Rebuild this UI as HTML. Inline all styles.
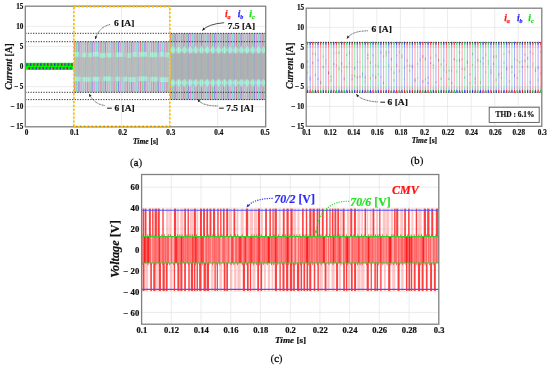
<!DOCTYPE html>
<html><head><meta charset="utf-8"><title>Figure</title>
<style>html,body{margin:0;padding:0;background:#fff;} svg{display:block;filter:blur(0.3px);} text{font-family:"Liberation Serif", "Times New Roman", serif;}</style>
</head><body>
<svg width="550" height="366" viewBox="0 0 550 366">
<rect width="550" height="366" fill="#fff"/>
<line x1="73.38" y1="6.2" x2="73.38" y2="126.8" stroke="#e4e4e4" stroke-width="0.7"/>
<line x1="121.46" y1="6.2" x2="121.46" y2="126.8" stroke="#e4e4e4" stroke-width="0.7"/>
<line x1="169.54" y1="6.2" x2="169.54" y2="126.8" stroke="#e4e4e4" stroke-width="0.7"/>
<line x1="217.62" y1="6.2" x2="217.62" y2="126.8" stroke="#e4e4e4" stroke-width="0.7"/>
<line x1="25.3" y1="26.3" x2="265.7" y2="26.3" stroke="#e4e4e4" stroke-width="0.7"/>
<line x1="25.3" y1="46.4" x2="265.7" y2="46.4" stroke="#e4e4e4" stroke-width="0.7"/>
<line x1="25.3" y1="66.5" x2="265.7" y2="66.5" stroke="#e4e4e4" stroke-width="0.7"/>
<line x1="25.3" y1="86.6" x2="265.7" y2="86.6" stroke="#e4e4e4" stroke-width="0.7"/>
<line x1="25.3" y1="106.7" x2="265.7" y2="106.7" stroke="#e4e4e4" stroke-width="0.7"/>
<line x1="329.76" y1="8.2" x2="329.76" y2="126.3" stroke="#e4e4e4" stroke-width="0.7"/>
<line x1="353.32" y1="8.2" x2="353.32" y2="126.3" stroke="#e4e4e4" stroke-width="0.7"/>
<line x1="376.88" y1="8.2" x2="376.88" y2="126.3" stroke="#e4e4e4" stroke-width="0.7"/>
<line x1="400.44" y1="8.2" x2="400.44" y2="126.3" stroke="#e4e4e4" stroke-width="0.7"/>
<line x1="424" y1="8.2" x2="424" y2="126.3" stroke="#e4e4e4" stroke-width="0.7"/>
<line x1="447.56" y1="8.2" x2="447.56" y2="126.3" stroke="#e4e4e4" stroke-width="0.7"/>
<line x1="471.12" y1="8.2" x2="471.12" y2="126.3" stroke="#e4e4e4" stroke-width="0.7"/>
<line x1="494.68" y1="8.2" x2="494.68" y2="126.3" stroke="#e4e4e4" stroke-width="0.7"/>
<line x1="518.24" y1="8.2" x2="518.24" y2="126.3" stroke="#e4e4e4" stroke-width="0.7"/>
<line x1="306.2" y1="27.35" x2="541.8" y2="27.35" stroke="#e4e4e4" stroke-width="0.7"/>
<line x1="306.2" y1="47.13" x2="541.8" y2="47.13" stroke="#e4e4e4" stroke-width="0.7"/>
<line x1="306.2" y1="66.9" x2="541.8" y2="66.9" stroke="#e4e4e4" stroke-width="0.7"/>
<line x1="306.2" y1="86.68" x2="541.8" y2="86.68" stroke="#e4e4e4" stroke-width="0.7"/>
<line x1="306.2" y1="106.45" x2="541.8" y2="106.45" stroke="#e4e4e4" stroke-width="0.7"/>
<line x1="171.32" y1="174.5" x2="171.32" y2="324.2" stroke="#e4e4e4" stroke-width="0.7"/>
<line x1="201.04" y1="174.5" x2="201.04" y2="324.2" stroke="#e4e4e4" stroke-width="0.7"/>
<line x1="230.76" y1="174.5" x2="230.76" y2="324.2" stroke="#e4e4e4" stroke-width="0.7"/>
<line x1="260.48" y1="174.5" x2="260.48" y2="324.2" stroke="#e4e4e4" stroke-width="0.7"/>
<line x1="290.2" y1="174.5" x2="290.2" y2="324.2" stroke="#e4e4e4" stroke-width="0.7"/>
<line x1="319.92" y1="174.5" x2="319.92" y2="324.2" stroke="#e4e4e4" stroke-width="0.7"/>
<line x1="349.64" y1="174.5" x2="349.64" y2="324.2" stroke="#e4e4e4" stroke-width="0.7"/>
<line x1="379.36" y1="174.5" x2="379.36" y2="324.2" stroke="#e4e4e4" stroke-width="0.7"/>
<line x1="409.08" y1="174.5" x2="409.08" y2="324.2" stroke="#e4e4e4" stroke-width="0.7"/>
<line x1="141.6" y1="187.19" x2="438.8" y2="187.19" stroke="#e4e4e4" stroke-width="0.7"/>
<line x1="141.6" y1="208.06" x2="438.8" y2="208.06" stroke="#e4e4e4" stroke-width="0.7"/>
<line x1="141.6" y1="228.93" x2="438.8" y2="228.93" stroke="#e4e4e4" stroke-width="0.7"/>
<line x1="141.6" y1="249.8" x2="438.8" y2="249.8" stroke="#e4e4e4" stroke-width="0.7"/>
<line x1="141.6" y1="270.67" x2="438.8" y2="270.67" stroke="#e4e4e4" stroke-width="0.7"/>
<line x1="141.6" y1="291.54" x2="438.8" y2="291.54" stroke="#e4e4e4" stroke-width="0.7"/>
<line x1="141.6" y1="312.41" x2="438.8" y2="312.41" stroke="#e4e4e4" stroke-width="0.7"/>
<rect x="25.8" y="62.8" width="47.58" height="7.0" fill="#00f800"/>
<rect x="26.4" y="63.3" width="1.1" height="2.6" fill="#2020e0" opacity="0.85"/>
<rect x="27.4" y="63.3" width="0.9" height="2.6" fill="#e02050" opacity="0.8"/>
<rect x="28.13" y="67.0" width="0.9" height="2.6" fill="#e02050" opacity="0.8"/>
<rect x="29.03" y="67.0" width="1.1" height="2.6" fill="#2020e0" opacity="0.85"/>
<rect x="29.85" y="63.3" width="1.1" height="2.6" fill="#2020e0" opacity="0.85"/>
<rect x="30.85" y="63.3" width="0.9" height="2.6" fill="#e02050" opacity="0.8"/>
<rect x="31.58" y="67.0" width="0.9" height="2.6" fill="#e02050" opacity="0.8"/>
<rect x="32.48" y="67.0" width="1.1" height="2.6" fill="#2020e0" opacity="0.85"/>
<rect x="33.3" y="63.3" width="1.1" height="2.6" fill="#2020e0" opacity="0.85"/>
<rect x="34.3" y="63.3" width="0.9" height="2.6" fill="#e02050" opacity="0.8"/>
<rect x="35.03" y="67.0" width="0.9" height="2.6" fill="#e02050" opacity="0.8"/>
<rect x="35.93" y="67.0" width="1.1" height="2.6" fill="#2020e0" opacity="0.85"/>
<rect x="36.75" y="63.3" width="1.1" height="2.6" fill="#2020e0" opacity="0.85"/>
<rect x="37.75" y="63.3" width="0.9" height="2.6" fill="#e02050" opacity="0.8"/>
<rect x="38.48" y="67.0" width="0.9" height="2.6" fill="#e02050" opacity="0.8"/>
<rect x="39.38" y="67.0" width="1.1" height="2.6" fill="#2020e0" opacity="0.85"/>
<rect x="40.2" y="63.3" width="1.1" height="2.6" fill="#2020e0" opacity="0.85"/>
<rect x="41.2" y="63.3" width="0.9" height="2.6" fill="#e02050" opacity="0.8"/>
<rect x="41.93" y="67.0" width="0.9" height="2.6" fill="#e02050" opacity="0.8"/>
<rect x="42.83" y="67.0" width="1.1" height="2.6" fill="#2020e0" opacity="0.85"/>
<rect x="43.65" y="63.3" width="1.1" height="2.6" fill="#2020e0" opacity="0.85"/>
<rect x="44.65" y="63.3" width="0.9" height="2.6" fill="#e02050" opacity="0.8"/>
<rect x="45.38" y="67.0" width="0.9" height="2.6" fill="#e02050" opacity="0.8"/>
<rect x="46.28" y="67.0" width="1.1" height="2.6" fill="#2020e0" opacity="0.85"/>
<rect x="47.1" y="63.3" width="1.1" height="2.6" fill="#2020e0" opacity="0.85"/>
<rect x="48.1" y="63.3" width="0.9" height="2.6" fill="#e02050" opacity="0.8"/>
<rect x="48.83" y="67.0" width="0.9" height="2.6" fill="#e02050" opacity="0.8"/>
<rect x="49.73" y="67.0" width="1.1" height="2.6" fill="#2020e0" opacity="0.85"/>
<rect x="50.55" y="63.3" width="1.1" height="2.6" fill="#2020e0" opacity="0.85"/>
<rect x="51.55" y="63.3" width="0.9" height="2.6" fill="#e02050" opacity="0.8"/>
<rect x="52.28" y="67.0" width="0.9" height="2.6" fill="#e02050" opacity="0.8"/>
<rect x="53.18" y="67.0" width="1.1" height="2.6" fill="#2020e0" opacity="0.85"/>
<rect x="54" y="63.3" width="1.1" height="2.6" fill="#2020e0" opacity="0.85"/>
<rect x="55" y="63.3" width="0.9" height="2.6" fill="#e02050" opacity="0.8"/>
<rect x="55.73" y="67.0" width="0.9" height="2.6" fill="#e02050" opacity="0.8"/>
<rect x="56.63" y="67.0" width="1.1" height="2.6" fill="#2020e0" opacity="0.85"/>
<rect x="57.45" y="63.3" width="1.1" height="2.6" fill="#2020e0" opacity="0.85"/>
<rect x="58.45" y="63.3" width="0.9" height="2.6" fill="#e02050" opacity="0.8"/>
<rect x="59.18" y="67.0" width="0.9" height="2.6" fill="#e02050" opacity="0.8"/>
<rect x="60.08" y="67.0" width="1.1" height="2.6" fill="#2020e0" opacity="0.85"/>
<rect x="60.9" y="63.3" width="1.1" height="2.6" fill="#2020e0" opacity="0.85"/>
<rect x="61.9" y="63.3" width="0.9" height="2.6" fill="#e02050" opacity="0.8"/>
<rect x="62.63" y="67.0" width="0.9" height="2.6" fill="#e02050" opacity="0.8"/>
<rect x="63.53" y="67.0" width="1.1" height="2.6" fill="#2020e0" opacity="0.85"/>
<rect x="64.35" y="63.3" width="1.1" height="2.6" fill="#2020e0" opacity="0.85"/>
<rect x="65.35" y="63.3" width="0.9" height="2.6" fill="#e02050" opacity="0.8"/>
<rect x="66.08" y="67.0" width="0.9" height="2.6" fill="#e02050" opacity="0.8"/>
<rect x="66.98" y="67.0" width="1.1" height="2.6" fill="#2020e0" opacity="0.85"/>
<rect x="67.8" y="63.3" width="1.1" height="2.6" fill="#2020e0" opacity="0.85"/>
<rect x="68.8" y="63.3" width="0.9" height="2.6" fill="#e02050" opacity="0.8"/>
<rect x="69.53" y="67.0" width="0.9" height="2.6" fill="#e02050" opacity="0.8"/>
<rect x="70.43" y="67.0" width="1.1" height="2.6" fill="#2020e0" opacity="0.85"/>
<rect x="71.25" y="63.3" width="1.1" height="2.6" fill="#2020e0" opacity="0.85"/>
<rect x="72.25" y="63.3" width="0.9" height="2.6" fill="#e02050" opacity="0.8"/>
<rect x="73.98" y="41.7" width="95.56" height="50.6" fill="#b8bebc"/>
<rect x="73.98" y="41.7" width="95.56" height="11" fill="#ccced4"/>
<rect x="73.98" y="41.7" width="1.1" height="11" fill="#ff3050" opacity="0.5"/>
<rect x="76.18" y="41.7" width="1.1" height="11" fill="#20e060" opacity="0.5"/>
<rect x="78.38" y="41.7" width="1.1" height="11" fill="#4848ff" opacity="0.5"/>
<rect x="80.58" y="41.7" width="1.1" height="11" fill="#ff60d0" opacity="0.5"/>
<rect x="82.78" y="41.7" width="1.1" height="11" fill="#30f0c0" opacity="0.5"/>
<rect x="84.98" y="41.7" width="1.1" height="11" fill="#8080ff" opacity="0.5"/>
<rect x="87.18" y="41.7" width="1.1" height="11" fill="#ff3050" opacity="0.5"/>
<rect x="89.38" y="41.7" width="1.1" height="11" fill="#20e060" opacity="0.5"/>
<rect x="91.58" y="41.7" width="1.1" height="11" fill="#4848ff" opacity="0.5"/>
<rect x="93.78" y="41.7" width="1.1" height="11" fill="#ff60d0" opacity="0.5"/>
<rect x="95.98" y="41.7" width="1.1" height="11" fill="#30f0c0" opacity="0.5"/>
<rect x="98.18" y="41.7" width="1.1" height="11" fill="#8080ff" opacity="0.5"/>
<rect x="100.38" y="41.7" width="1.1" height="11" fill="#ff3050" opacity="0.5"/>
<rect x="102.58" y="41.7" width="1.1" height="11" fill="#20e060" opacity="0.5"/>
<rect x="104.78" y="41.7" width="1.1" height="11" fill="#4848ff" opacity="0.5"/>
<rect x="106.98" y="41.7" width="1.1" height="11" fill="#ff60d0" opacity="0.5"/>
<rect x="109.18" y="41.7" width="1.1" height="11" fill="#30f0c0" opacity="0.5"/>
<rect x="111.38" y="41.7" width="1.1" height="11" fill="#8080ff" opacity="0.5"/>
<rect x="113.58" y="41.7" width="1.1" height="11" fill="#ff3050" opacity="0.5"/>
<rect x="115.78" y="41.7" width="1.1" height="11" fill="#20e060" opacity="0.5"/>
<rect x="117.98" y="41.7" width="1.1" height="11" fill="#4848ff" opacity="0.5"/>
<rect x="120.18" y="41.7" width="1.1" height="11" fill="#ff60d0" opacity="0.5"/>
<rect x="122.38" y="41.7" width="1.1" height="11" fill="#30f0c0" opacity="0.5"/>
<rect x="124.58" y="41.7" width="1.1" height="11" fill="#8080ff" opacity="0.5"/>
<rect x="126.78" y="41.7" width="1.1" height="11" fill="#ff3050" opacity="0.5"/>
<rect x="128.98" y="41.7" width="1.1" height="11" fill="#20e060" opacity="0.5"/>
<rect x="131.18" y="41.7" width="1.1" height="11" fill="#4848ff" opacity="0.5"/>
<rect x="133.38" y="41.7" width="1.1" height="11" fill="#ff60d0" opacity="0.5"/>
<rect x="135.58" y="41.7" width="1.1" height="11" fill="#30f0c0" opacity="0.5"/>
<rect x="137.78" y="41.7" width="1.1" height="11" fill="#8080ff" opacity="0.5"/>
<rect x="139.98" y="41.7" width="1.1" height="11" fill="#ff3050" opacity="0.5"/>
<rect x="142.18" y="41.7" width="1.1" height="11" fill="#20e060" opacity="0.5"/>
<rect x="144.38" y="41.7" width="1.1" height="11" fill="#4848ff" opacity="0.5"/>
<rect x="146.58" y="41.7" width="1.1" height="11" fill="#ff60d0" opacity="0.5"/>
<rect x="148.78" y="41.7" width="1.1" height="11" fill="#30f0c0" opacity="0.5"/>
<rect x="150.98" y="41.7" width="1.1" height="11" fill="#8080ff" opacity="0.5"/>
<rect x="153.18" y="41.7" width="1.1" height="11" fill="#ff3050" opacity="0.5"/>
<rect x="155.38" y="41.7" width="1.1" height="11" fill="#20e060" opacity="0.5"/>
<rect x="157.58" y="41.7" width="1.1" height="11" fill="#4848ff" opacity="0.5"/>
<rect x="159.78" y="41.7" width="1.1" height="11" fill="#ff60d0" opacity="0.5"/>
<rect x="161.98" y="41.7" width="1.1" height="11" fill="#30f0c0" opacity="0.5"/>
<rect x="164.18" y="41.7" width="1.1" height="11" fill="#8080ff" opacity="0.5"/>
<rect x="166.38" y="41.7" width="1.1" height="11" fill="#ff3050" opacity="0.5"/>
<rect x="168.58" y="41.7" width="0.96" height="11" fill="#20e060" opacity="0.5"/>
<rect x="73.98" y="81.3" width="95.56" height="11" fill="#ccced4"/>
<rect x="73.98" y="81.3" width="1.1" height="11" fill="#ff3050" opacity="0.5"/>
<rect x="76.18" y="81.3" width="1.1" height="11" fill="#20e060" opacity="0.5"/>
<rect x="78.38" y="81.3" width="1.1" height="11" fill="#4848ff" opacity="0.5"/>
<rect x="80.58" y="81.3" width="1.1" height="11" fill="#ff60d0" opacity="0.5"/>
<rect x="82.78" y="81.3" width="1.1" height="11" fill="#30f0c0" opacity="0.5"/>
<rect x="84.98" y="81.3" width="1.1" height="11" fill="#8080ff" opacity="0.5"/>
<rect x="87.18" y="81.3" width="1.1" height="11" fill="#ff3050" opacity="0.5"/>
<rect x="89.38" y="81.3" width="1.1" height="11" fill="#20e060" opacity="0.5"/>
<rect x="91.58" y="81.3" width="1.1" height="11" fill="#4848ff" opacity="0.5"/>
<rect x="93.78" y="81.3" width="1.1" height="11" fill="#ff60d0" opacity="0.5"/>
<rect x="95.98" y="81.3" width="1.1" height="11" fill="#30f0c0" opacity="0.5"/>
<rect x="98.18" y="81.3" width="1.1" height="11" fill="#8080ff" opacity="0.5"/>
<rect x="100.38" y="81.3" width="1.1" height="11" fill="#ff3050" opacity="0.5"/>
<rect x="102.58" y="81.3" width="1.1" height="11" fill="#20e060" opacity="0.5"/>
<rect x="104.78" y="81.3" width="1.1" height="11" fill="#4848ff" opacity="0.5"/>
<rect x="106.98" y="81.3" width="1.1" height="11" fill="#ff60d0" opacity="0.5"/>
<rect x="109.18" y="81.3" width="1.1" height="11" fill="#30f0c0" opacity="0.5"/>
<rect x="111.38" y="81.3" width="1.1" height="11" fill="#8080ff" opacity="0.5"/>
<rect x="113.58" y="81.3" width="1.1" height="11" fill="#ff3050" opacity="0.5"/>
<rect x="115.78" y="81.3" width="1.1" height="11" fill="#20e060" opacity="0.5"/>
<rect x="117.98" y="81.3" width="1.1" height="11" fill="#4848ff" opacity="0.5"/>
<rect x="120.18" y="81.3" width="1.1" height="11" fill="#ff60d0" opacity="0.5"/>
<rect x="122.38" y="81.3" width="1.1" height="11" fill="#30f0c0" opacity="0.5"/>
<rect x="124.58" y="81.3" width="1.1" height="11" fill="#8080ff" opacity="0.5"/>
<rect x="126.78" y="81.3" width="1.1" height="11" fill="#ff3050" opacity="0.5"/>
<rect x="128.98" y="81.3" width="1.1" height="11" fill="#20e060" opacity="0.5"/>
<rect x="131.18" y="81.3" width="1.1" height="11" fill="#4848ff" opacity="0.5"/>
<rect x="133.38" y="81.3" width="1.1" height="11" fill="#ff60d0" opacity="0.5"/>
<rect x="135.58" y="81.3" width="1.1" height="11" fill="#30f0c0" opacity="0.5"/>
<rect x="137.78" y="81.3" width="1.1" height="11" fill="#8080ff" opacity="0.5"/>
<rect x="139.98" y="81.3" width="1.1" height="11" fill="#ff3050" opacity="0.5"/>
<rect x="142.18" y="81.3" width="1.1" height="11" fill="#20e060" opacity="0.5"/>
<rect x="144.38" y="81.3" width="1.1" height="11" fill="#4848ff" opacity="0.5"/>
<rect x="146.58" y="81.3" width="1.1" height="11" fill="#ff60d0" opacity="0.5"/>
<rect x="148.78" y="81.3" width="1.1" height="11" fill="#30f0c0" opacity="0.5"/>
<rect x="150.98" y="81.3" width="1.1" height="11" fill="#8080ff" opacity="0.5"/>
<rect x="153.18" y="81.3" width="1.1" height="11" fill="#ff3050" opacity="0.5"/>
<rect x="155.38" y="81.3" width="1.1" height="11" fill="#20e060" opacity="0.5"/>
<rect x="157.58" y="81.3" width="1.1" height="11" fill="#4848ff" opacity="0.5"/>
<rect x="159.78" y="81.3" width="1.1" height="11" fill="#ff60d0" opacity="0.5"/>
<rect x="161.98" y="81.3" width="1.1" height="11" fill="#30f0c0" opacity="0.5"/>
<rect x="164.18" y="81.3" width="1.1" height="11" fill="#8080ff" opacity="0.5"/>
<rect x="166.38" y="81.3" width="1.1" height="11" fill="#ff3050" opacity="0.5"/>
<rect x="168.58" y="81.3" width="0.96" height="11" fill="#20e060" opacity="0.5"/>
<rect x="73.98" y="52.7" width="95.56" height="4.5" fill="#c4cac8"/>
<rect x="73.98" y="52.14" width="4.94" height="4.5" fill="#a8f4d8"/>
<rect x="82.53" y="52.76" width="3.43" height="4.5" fill="#a8f4d8"/>
<rect x="88.42" y="52.71" width="3.35" height="4.5" fill="#a8f4d8"/>
<rect x="92.92" y="52.01" width="5.6" height="4.5" fill="#a8f4d8"/>
<rect x="99.89" y="53.22" width="5.55" height="4.5" fill="#a8f4d8"/>
<rect x="106.93" y="52.9" width="4.34" height="4.5" fill="#a8f4d8"/>
<rect x="116.06" y="52.53" width="6.46" height="4.5" fill="#a8f4d8"/>
<rect x="127.43" y="53.27" width="3.28" height="4.5" fill="#a8f4d8"/>
<rect x="132.86" y="52.09" width="3.87" height="4.5" fill="#a8f4d8"/>
<rect x="138.96" y="52.19" width="7.9" height="4.5" fill="#a8f4d8"/>
<rect x="150.19" y="52.5" width="6.83" height="4.5" fill="#a8f4d8"/>
<rect x="160.21" y="52" width="3.38" height="4.5" fill="#a8f4d8"/>
<rect x="165.41" y="52.58" width="4.13" height="4.5" fill="#a8f4d8"/>
<rect x="73.98" y="52.7" width="1.1" height="4.5" fill="#ff3050" opacity="0.18"/>
<rect x="76.18" y="52.7" width="1.1" height="4.5" fill="#20e060" opacity="0.18"/>
<rect x="78.38" y="52.7" width="1.1" height="4.5" fill="#4848ff" opacity="0.18"/>
<rect x="80.58" y="52.7" width="1.1" height="4.5" fill="#ff60d0" opacity="0.18"/>
<rect x="82.78" y="52.7" width="1.1" height="4.5" fill="#30f0c0" opacity="0.18"/>
<rect x="84.98" y="52.7" width="1.1" height="4.5" fill="#8080ff" opacity="0.18"/>
<rect x="87.18" y="52.7" width="1.1" height="4.5" fill="#ff3050" opacity="0.18"/>
<rect x="89.38" y="52.7" width="1.1" height="4.5" fill="#20e060" opacity="0.18"/>
<rect x="91.58" y="52.7" width="1.1" height="4.5" fill="#4848ff" opacity="0.18"/>
<rect x="93.78" y="52.7" width="1.1" height="4.5" fill="#ff60d0" opacity="0.18"/>
<rect x="95.98" y="52.7" width="1.1" height="4.5" fill="#30f0c0" opacity="0.18"/>
<rect x="98.18" y="52.7" width="1.1" height="4.5" fill="#8080ff" opacity="0.18"/>
<rect x="100.38" y="52.7" width="1.1" height="4.5" fill="#ff3050" opacity="0.18"/>
<rect x="102.58" y="52.7" width="1.1" height="4.5" fill="#20e060" opacity="0.18"/>
<rect x="104.78" y="52.7" width="1.1" height="4.5" fill="#4848ff" opacity="0.18"/>
<rect x="106.98" y="52.7" width="1.1" height="4.5" fill="#ff60d0" opacity="0.18"/>
<rect x="109.18" y="52.7" width="1.1" height="4.5" fill="#30f0c0" opacity="0.18"/>
<rect x="111.38" y="52.7" width="1.1" height="4.5" fill="#8080ff" opacity="0.18"/>
<rect x="113.58" y="52.7" width="1.1" height="4.5" fill="#ff3050" opacity="0.18"/>
<rect x="115.78" y="52.7" width="1.1" height="4.5" fill="#20e060" opacity="0.18"/>
<rect x="117.98" y="52.7" width="1.1" height="4.5" fill="#4848ff" opacity="0.18"/>
<rect x="120.18" y="52.7" width="1.1" height="4.5" fill="#ff60d0" opacity="0.18"/>
<rect x="122.38" y="52.7" width="1.1" height="4.5" fill="#30f0c0" opacity="0.18"/>
<rect x="124.58" y="52.7" width="1.1" height="4.5" fill="#8080ff" opacity="0.18"/>
<rect x="126.78" y="52.7" width="1.1" height="4.5" fill="#ff3050" opacity="0.18"/>
<rect x="128.98" y="52.7" width="1.1" height="4.5" fill="#20e060" opacity="0.18"/>
<rect x="131.18" y="52.7" width="1.1" height="4.5" fill="#4848ff" opacity="0.18"/>
<rect x="133.38" y="52.7" width="1.1" height="4.5" fill="#ff60d0" opacity="0.18"/>
<rect x="135.58" y="52.7" width="1.1" height="4.5" fill="#30f0c0" opacity="0.18"/>
<rect x="137.78" y="52.7" width="1.1" height="4.5" fill="#8080ff" opacity="0.18"/>
<rect x="139.98" y="52.7" width="1.1" height="4.5" fill="#ff3050" opacity="0.18"/>
<rect x="142.18" y="52.7" width="1.1" height="4.5" fill="#20e060" opacity="0.18"/>
<rect x="144.38" y="52.7" width="1.1" height="4.5" fill="#4848ff" opacity="0.18"/>
<rect x="146.58" y="52.7" width="1.1" height="4.5" fill="#ff60d0" opacity="0.18"/>
<rect x="148.78" y="52.7" width="1.1" height="4.5" fill="#30f0c0" opacity="0.18"/>
<rect x="150.98" y="52.7" width="1.1" height="4.5" fill="#8080ff" opacity="0.18"/>
<rect x="153.18" y="52.7" width="1.1" height="4.5" fill="#ff3050" opacity="0.18"/>
<rect x="155.38" y="52.7" width="1.1" height="4.5" fill="#20e060" opacity="0.18"/>
<rect x="157.58" y="52.7" width="1.1" height="4.5" fill="#4848ff" opacity="0.18"/>
<rect x="159.78" y="52.7" width="1.1" height="4.5" fill="#ff60d0" opacity="0.18"/>
<rect x="161.98" y="52.7" width="1.1" height="4.5" fill="#30f0c0" opacity="0.18"/>
<rect x="164.18" y="52.7" width="1.1" height="4.5" fill="#8080ff" opacity="0.18"/>
<rect x="166.38" y="52.7" width="1.1" height="4.5" fill="#ff3050" opacity="0.18"/>
<rect x="168.58" y="52.7" width="0.96" height="4.5" fill="#20e060" opacity="0.18"/>
<rect x="73.98" y="76.8" width="95.56" height="4.5" fill="#c4cac8"/>
<rect x="73.98" y="76.73" width="6.51" height="4.5" fill="#a8f4d8"/>
<rect x="82.69" y="77.12" width="7.77" height="4.5" fill="#a8f4d8"/>
<rect x="92.44" y="76.84" width="6.45" height="4.5" fill="#a8f4d8"/>
<rect x="103.38" y="76.46" width="7.38" height="4.5" fill="#a8f4d8"/>
<rect x="115.68" y="76.67" width="3.71" height="4.5" fill="#a8f4d8"/>
<rect x="123.42" y="76.78" width="3.91" height="4.5" fill="#a8f4d8"/>
<rect x="128.49" y="77.22" width="7.01" height="4.5" fill="#a8f4d8"/>
<rect x="138.79" y="76.5" width="8.25" height="4.5" fill="#a8f4d8"/>
<rect x="150.82" y="76.93" width="6.57" height="4.5" fill="#a8f4d8"/>
<rect x="160.21" y="77.51" width="8.04" height="4.5" fill="#a8f4d8"/>
<rect x="73.98" y="76.8" width="1.1" height="4.5" fill="#ff3050" opacity="0.18"/>
<rect x="76.18" y="76.8" width="1.1" height="4.5" fill="#20e060" opacity="0.18"/>
<rect x="78.38" y="76.8" width="1.1" height="4.5" fill="#4848ff" opacity="0.18"/>
<rect x="80.58" y="76.8" width="1.1" height="4.5" fill="#ff60d0" opacity="0.18"/>
<rect x="82.78" y="76.8" width="1.1" height="4.5" fill="#30f0c0" opacity="0.18"/>
<rect x="84.98" y="76.8" width="1.1" height="4.5" fill="#8080ff" opacity="0.18"/>
<rect x="87.18" y="76.8" width="1.1" height="4.5" fill="#ff3050" opacity="0.18"/>
<rect x="89.38" y="76.8" width="1.1" height="4.5" fill="#20e060" opacity="0.18"/>
<rect x="91.58" y="76.8" width="1.1" height="4.5" fill="#4848ff" opacity="0.18"/>
<rect x="93.78" y="76.8" width="1.1" height="4.5" fill="#ff60d0" opacity="0.18"/>
<rect x="95.98" y="76.8" width="1.1" height="4.5" fill="#30f0c0" opacity="0.18"/>
<rect x="98.18" y="76.8" width="1.1" height="4.5" fill="#8080ff" opacity="0.18"/>
<rect x="100.38" y="76.8" width="1.1" height="4.5" fill="#ff3050" opacity="0.18"/>
<rect x="102.58" y="76.8" width="1.1" height="4.5" fill="#20e060" opacity="0.18"/>
<rect x="104.78" y="76.8" width="1.1" height="4.5" fill="#4848ff" opacity="0.18"/>
<rect x="106.98" y="76.8" width="1.1" height="4.5" fill="#ff60d0" opacity="0.18"/>
<rect x="109.18" y="76.8" width="1.1" height="4.5" fill="#30f0c0" opacity="0.18"/>
<rect x="111.38" y="76.8" width="1.1" height="4.5" fill="#8080ff" opacity="0.18"/>
<rect x="113.58" y="76.8" width="1.1" height="4.5" fill="#ff3050" opacity="0.18"/>
<rect x="115.78" y="76.8" width="1.1" height="4.5" fill="#20e060" opacity="0.18"/>
<rect x="117.98" y="76.8" width="1.1" height="4.5" fill="#4848ff" opacity="0.18"/>
<rect x="120.18" y="76.8" width="1.1" height="4.5" fill="#ff60d0" opacity="0.18"/>
<rect x="122.38" y="76.8" width="1.1" height="4.5" fill="#30f0c0" opacity="0.18"/>
<rect x="124.58" y="76.8" width="1.1" height="4.5" fill="#8080ff" opacity="0.18"/>
<rect x="126.78" y="76.8" width="1.1" height="4.5" fill="#ff3050" opacity="0.18"/>
<rect x="128.98" y="76.8" width="1.1" height="4.5" fill="#20e060" opacity="0.18"/>
<rect x="131.18" y="76.8" width="1.1" height="4.5" fill="#4848ff" opacity="0.18"/>
<rect x="133.38" y="76.8" width="1.1" height="4.5" fill="#ff60d0" opacity="0.18"/>
<rect x="135.58" y="76.8" width="1.1" height="4.5" fill="#30f0c0" opacity="0.18"/>
<rect x="137.78" y="76.8" width="1.1" height="4.5" fill="#8080ff" opacity="0.18"/>
<rect x="139.98" y="76.8" width="1.1" height="4.5" fill="#ff3050" opacity="0.18"/>
<rect x="142.18" y="76.8" width="1.1" height="4.5" fill="#20e060" opacity="0.18"/>
<rect x="144.38" y="76.8" width="1.1" height="4.5" fill="#4848ff" opacity="0.18"/>
<rect x="146.58" y="76.8" width="1.1" height="4.5" fill="#ff60d0" opacity="0.18"/>
<rect x="148.78" y="76.8" width="1.1" height="4.5" fill="#30f0c0" opacity="0.18"/>
<rect x="150.98" y="76.8" width="1.1" height="4.5" fill="#8080ff" opacity="0.18"/>
<rect x="153.18" y="76.8" width="1.1" height="4.5" fill="#ff3050" opacity="0.18"/>
<rect x="155.38" y="76.8" width="1.1" height="4.5" fill="#20e060" opacity="0.18"/>
<rect x="157.58" y="76.8" width="1.1" height="4.5" fill="#4848ff" opacity="0.18"/>
<rect x="159.78" y="76.8" width="1.1" height="4.5" fill="#ff60d0" opacity="0.18"/>
<rect x="161.98" y="76.8" width="1.1" height="4.5" fill="#30f0c0" opacity="0.18"/>
<rect x="164.18" y="76.8" width="1.1" height="4.5" fill="#8080ff" opacity="0.18"/>
<rect x="166.38" y="76.8" width="1.1" height="4.5" fill="#ff3050" opacity="0.18"/>
<rect x="168.58" y="76.8" width="0.96" height="4.5" fill="#20e060" opacity="0.18"/>
<rect x="73.98" y="57.2" width="1.1" height="19.6" fill="#ff80a0" opacity="0.2"/>
<rect x="76.18" y="57.2" width="1.1" height="19.6" fill="#60e0a0" opacity="0.2"/>
<rect x="78.38" y="57.2" width="1.1" height="19.6" fill="#8080ff" opacity="0.2"/>
<rect x="80.58" y="57.2" width="1.1" height="19.6" fill="#ff80a0" opacity="0.2"/>
<rect x="82.78" y="57.2" width="1.1" height="19.6" fill="#60e0a0" opacity="0.2"/>
<rect x="84.98" y="57.2" width="1.1" height="19.6" fill="#8080ff" opacity="0.2"/>
<rect x="87.18" y="57.2" width="1.1" height="19.6" fill="#ff80a0" opacity="0.2"/>
<rect x="89.38" y="57.2" width="1.1" height="19.6" fill="#60e0a0" opacity="0.2"/>
<rect x="91.58" y="57.2" width="1.1" height="19.6" fill="#8080ff" opacity="0.2"/>
<rect x="93.78" y="57.2" width="1.1" height="19.6" fill="#ff80a0" opacity="0.2"/>
<rect x="95.98" y="57.2" width="1.1" height="19.6" fill="#60e0a0" opacity="0.2"/>
<rect x="98.18" y="57.2" width="1.1" height="19.6" fill="#8080ff" opacity="0.2"/>
<rect x="100.38" y="57.2" width="1.1" height="19.6" fill="#ff80a0" opacity="0.2"/>
<rect x="102.58" y="57.2" width="1.1" height="19.6" fill="#60e0a0" opacity="0.2"/>
<rect x="104.78" y="57.2" width="1.1" height="19.6" fill="#8080ff" opacity="0.2"/>
<rect x="106.98" y="57.2" width="1.1" height="19.6" fill="#ff80a0" opacity="0.2"/>
<rect x="109.18" y="57.2" width="1.1" height="19.6" fill="#60e0a0" opacity="0.2"/>
<rect x="111.38" y="57.2" width="1.1" height="19.6" fill="#8080ff" opacity="0.2"/>
<rect x="113.58" y="57.2" width="1.1" height="19.6" fill="#ff80a0" opacity="0.2"/>
<rect x="115.78" y="57.2" width="1.1" height="19.6" fill="#60e0a0" opacity="0.2"/>
<rect x="117.98" y="57.2" width="1.1" height="19.6" fill="#8080ff" opacity="0.2"/>
<rect x="120.18" y="57.2" width="1.1" height="19.6" fill="#ff80a0" opacity="0.2"/>
<rect x="122.38" y="57.2" width="1.1" height="19.6" fill="#60e0a0" opacity="0.2"/>
<rect x="124.58" y="57.2" width="1.1" height="19.6" fill="#8080ff" opacity="0.2"/>
<rect x="126.78" y="57.2" width="1.1" height="19.6" fill="#ff80a0" opacity="0.2"/>
<rect x="128.98" y="57.2" width="1.1" height="19.6" fill="#60e0a0" opacity="0.2"/>
<rect x="131.18" y="57.2" width="1.1" height="19.6" fill="#8080ff" opacity="0.2"/>
<rect x="133.38" y="57.2" width="1.1" height="19.6" fill="#ff80a0" opacity="0.2"/>
<rect x="135.58" y="57.2" width="1.1" height="19.6" fill="#60e0a0" opacity="0.2"/>
<rect x="137.78" y="57.2" width="1.1" height="19.6" fill="#8080ff" opacity="0.2"/>
<rect x="139.98" y="57.2" width="1.1" height="19.6" fill="#ff80a0" opacity="0.2"/>
<rect x="142.18" y="57.2" width="1.1" height="19.6" fill="#60e0a0" opacity="0.2"/>
<rect x="144.38" y="57.2" width="1.1" height="19.6" fill="#8080ff" opacity="0.2"/>
<rect x="146.58" y="57.2" width="1.1" height="19.6" fill="#ff80a0" opacity="0.2"/>
<rect x="148.78" y="57.2" width="1.1" height="19.6" fill="#60e0a0" opacity="0.2"/>
<rect x="150.98" y="57.2" width="1.1" height="19.6" fill="#8080ff" opacity="0.2"/>
<rect x="153.18" y="57.2" width="1.1" height="19.6" fill="#ff80a0" opacity="0.2"/>
<rect x="155.38" y="57.2" width="1.1" height="19.6" fill="#60e0a0" opacity="0.2"/>
<rect x="157.58" y="57.2" width="1.1" height="19.6" fill="#8080ff" opacity="0.2"/>
<rect x="159.78" y="57.2" width="1.1" height="19.6" fill="#ff80a0" opacity="0.2"/>
<rect x="161.98" y="57.2" width="1.1" height="19.6" fill="#60e0a0" opacity="0.2"/>
<rect x="164.18" y="57.2" width="1.1" height="19.6" fill="#8080ff" opacity="0.2"/>
<rect x="166.38" y="57.2" width="1.1" height="19.6" fill="#ff80a0" opacity="0.2"/>
<rect x="168.58" y="57.2" width="0.96" height="19.6" fill="#60e0a0" opacity="0.2"/>
<rect x="170.14" y="33.3" width="95.56" height="66.3" fill="#aeb3b4"/>
<rect x="170.14" y="33.3" width="95.56" height="13.5" fill="#c8cad0"/>
<rect x="170.14" y="33.3" width="1.1" height="13.5" fill="#ff3050" opacity="0.5"/>
<rect x="172.34" y="33.3" width="1.1" height="13.5" fill="#20e060" opacity="0.5"/>
<rect x="174.54" y="33.3" width="1.1" height="13.5" fill="#4848ff" opacity="0.5"/>
<rect x="176.74" y="33.3" width="1.1" height="13.5" fill="#ff60d0" opacity="0.5"/>
<rect x="178.94" y="33.3" width="1.1" height="13.5" fill="#30f0c0" opacity="0.5"/>
<rect x="181.14" y="33.3" width="1.1" height="13.5" fill="#8080ff" opacity="0.5"/>
<rect x="183.34" y="33.3" width="1.1" height="13.5" fill="#ff3050" opacity="0.5"/>
<rect x="185.54" y="33.3" width="1.1" height="13.5" fill="#20e060" opacity="0.5"/>
<rect x="187.74" y="33.3" width="1.1" height="13.5" fill="#4848ff" opacity="0.5"/>
<rect x="189.94" y="33.3" width="1.1" height="13.5" fill="#ff60d0" opacity="0.5"/>
<rect x="192.14" y="33.3" width="1.1" height="13.5" fill="#30f0c0" opacity="0.5"/>
<rect x="194.34" y="33.3" width="1.1" height="13.5" fill="#8080ff" opacity="0.5"/>
<rect x="196.54" y="33.3" width="1.1" height="13.5" fill="#ff3050" opacity="0.5"/>
<rect x="198.74" y="33.3" width="1.1" height="13.5" fill="#20e060" opacity="0.5"/>
<rect x="200.94" y="33.3" width="1.1" height="13.5" fill="#4848ff" opacity="0.5"/>
<rect x="203.14" y="33.3" width="1.1" height="13.5" fill="#ff60d0" opacity="0.5"/>
<rect x="205.34" y="33.3" width="1.1" height="13.5" fill="#30f0c0" opacity="0.5"/>
<rect x="207.54" y="33.3" width="1.1" height="13.5" fill="#8080ff" opacity="0.5"/>
<rect x="209.74" y="33.3" width="1.1" height="13.5" fill="#ff3050" opacity="0.5"/>
<rect x="211.94" y="33.3" width="1.1" height="13.5" fill="#20e060" opacity="0.5"/>
<rect x="214.14" y="33.3" width="1.1" height="13.5" fill="#4848ff" opacity="0.5"/>
<rect x="216.34" y="33.3" width="1.1" height="13.5" fill="#ff60d0" opacity="0.5"/>
<rect x="218.54" y="33.3" width="1.1" height="13.5" fill="#30f0c0" opacity="0.5"/>
<rect x="220.74" y="33.3" width="1.1" height="13.5" fill="#8080ff" opacity="0.5"/>
<rect x="222.94" y="33.3" width="1.1" height="13.5" fill="#ff3050" opacity="0.5"/>
<rect x="225.14" y="33.3" width="1.1" height="13.5" fill="#20e060" opacity="0.5"/>
<rect x="227.34" y="33.3" width="1.1" height="13.5" fill="#4848ff" opacity="0.5"/>
<rect x="229.54" y="33.3" width="1.1" height="13.5" fill="#ff60d0" opacity="0.5"/>
<rect x="231.74" y="33.3" width="1.1" height="13.5" fill="#30f0c0" opacity="0.5"/>
<rect x="233.94" y="33.3" width="1.1" height="13.5" fill="#8080ff" opacity="0.5"/>
<rect x="236.14" y="33.3" width="1.1" height="13.5" fill="#ff3050" opacity="0.5"/>
<rect x="238.34" y="33.3" width="1.1" height="13.5" fill="#20e060" opacity="0.5"/>
<rect x="240.54" y="33.3" width="1.1" height="13.5" fill="#4848ff" opacity="0.5"/>
<rect x="242.74" y="33.3" width="1.1" height="13.5" fill="#ff60d0" opacity="0.5"/>
<rect x="244.94" y="33.3" width="1.1" height="13.5" fill="#30f0c0" opacity="0.5"/>
<rect x="247.14" y="33.3" width="1.1" height="13.5" fill="#8080ff" opacity="0.5"/>
<rect x="249.34" y="33.3" width="1.1" height="13.5" fill="#ff3050" opacity="0.5"/>
<rect x="251.54" y="33.3" width="1.1" height="13.5" fill="#20e060" opacity="0.5"/>
<rect x="253.74" y="33.3" width="1.1" height="13.5" fill="#4848ff" opacity="0.5"/>
<rect x="255.94" y="33.3" width="1.1" height="13.5" fill="#ff60d0" opacity="0.5"/>
<rect x="258.14" y="33.3" width="1.1" height="13.5" fill="#30f0c0" opacity="0.5"/>
<rect x="260.34" y="33.3" width="1.1" height="13.5" fill="#8080ff" opacity="0.5"/>
<rect x="262.54" y="33.3" width="1.1" height="13.5" fill="#ff3050" opacity="0.5"/>
<rect x="264.74" y="33.3" width="0.96" height="13.5" fill="#20e060" opacity="0.5"/>
<rect x="170.14" y="86.1" width="95.56" height="13.5" fill="#c8cad0"/>
<rect x="170.14" y="86.1" width="1.1" height="13.5" fill="#ff3050" opacity="0.5"/>
<rect x="172.34" y="86.1" width="1.1" height="13.5" fill="#20e060" opacity="0.5"/>
<rect x="174.54" y="86.1" width="1.1" height="13.5" fill="#4848ff" opacity="0.5"/>
<rect x="176.74" y="86.1" width="1.1" height="13.5" fill="#ff60d0" opacity="0.5"/>
<rect x="178.94" y="86.1" width="1.1" height="13.5" fill="#30f0c0" opacity="0.5"/>
<rect x="181.14" y="86.1" width="1.1" height="13.5" fill="#8080ff" opacity="0.5"/>
<rect x="183.34" y="86.1" width="1.1" height="13.5" fill="#ff3050" opacity="0.5"/>
<rect x="185.54" y="86.1" width="1.1" height="13.5" fill="#20e060" opacity="0.5"/>
<rect x="187.74" y="86.1" width="1.1" height="13.5" fill="#4848ff" opacity="0.5"/>
<rect x="189.94" y="86.1" width="1.1" height="13.5" fill="#ff60d0" opacity="0.5"/>
<rect x="192.14" y="86.1" width="1.1" height="13.5" fill="#30f0c0" opacity="0.5"/>
<rect x="194.34" y="86.1" width="1.1" height="13.5" fill="#8080ff" opacity="0.5"/>
<rect x="196.54" y="86.1" width="1.1" height="13.5" fill="#ff3050" opacity="0.5"/>
<rect x="198.74" y="86.1" width="1.1" height="13.5" fill="#20e060" opacity="0.5"/>
<rect x="200.94" y="86.1" width="1.1" height="13.5" fill="#4848ff" opacity="0.5"/>
<rect x="203.14" y="86.1" width="1.1" height="13.5" fill="#ff60d0" opacity="0.5"/>
<rect x="205.34" y="86.1" width="1.1" height="13.5" fill="#30f0c0" opacity="0.5"/>
<rect x="207.54" y="86.1" width="1.1" height="13.5" fill="#8080ff" opacity="0.5"/>
<rect x="209.74" y="86.1" width="1.1" height="13.5" fill="#ff3050" opacity="0.5"/>
<rect x="211.94" y="86.1" width="1.1" height="13.5" fill="#20e060" opacity="0.5"/>
<rect x="214.14" y="86.1" width="1.1" height="13.5" fill="#4848ff" opacity="0.5"/>
<rect x="216.34" y="86.1" width="1.1" height="13.5" fill="#ff60d0" opacity="0.5"/>
<rect x="218.54" y="86.1" width="1.1" height="13.5" fill="#30f0c0" opacity="0.5"/>
<rect x="220.74" y="86.1" width="1.1" height="13.5" fill="#8080ff" opacity="0.5"/>
<rect x="222.94" y="86.1" width="1.1" height="13.5" fill="#ff3050" opacity="0.5"/>
<rect x="225.14" y="86.1" width="1.1" height="13.5" fill="#20e060" opacity="0.5"/>
<rect x="227.34" y="86.1" width="1.1" height="13.5" fill="#4848ff" opacity="0.5"/>
<rect x="229.54" y="86.1" width="1.1" height="13.5" fill="#ff60d0" opacity="0.5"/>
<rect x="231.74" y="86.1" width="1.1" height="13.5" fill="#30f0c0" opacity="0.5"/>
<rect x="233.94" y="86.1" width="1.1" height="13.5" fill="#8080ff" opacity="0.5"/>
<rect x="236.14" y="86.1" width="1.1" height="13.5" fill="#ff3050" opacity="0.5"/>
<rect x="238.34" y="86.1" width="1.1" height="13.5" fill="#20e060" opacity="0.5"/>
<rect x="240.54" y="86.1" width="1.1" height="13.5" fill="#4848ff" opacity="0.5"/>
<rect x="242.74" y="86.1" width="1.1" height="13.5" fill="#ff60d0" opacity="0.5"/>
<rect x="244.94" y="86.1" width="1.1" height="13.5" fill="#30f0c0" opacity="0.5"/>
<rect x="247.14" y="86.1" width="1.1" height="13.5" fill="#8080ff" opacity="0.5"/>
<rect x="249.34" y="86.1" width="1.1" height="13.5" fill="#ff3050" opacity="0.5"/>
<rect x="251.54" y="86.1" width="1.1" height="13.5" fill="#20e060" opacity="0.5"/>
<rect x="253.74" y="86.1" width="1.1" height="13.5" fill="#4848ff" opacity="0.5"/>
<rect x="255.94" y="86.1" width="1.1" height="13.5" fill="#ff60d0" opacity="0.5"/>
<rect x="258.14" y="86.1" width="1.1" height="13.5" fill="#30f0c0" opacity="0.5"/>
<rect x="260.34" y="86.1" width="1.1" height="13.5" fill="#8080ff" opacity="0.5"/>
<rect x="262.54" y="86.1" width="1.1" height="13.5" fill="#ff3050" opacity="0.5"/>
<rect x="264.74" y="86.1" width="0.96" height="13.5" fill="#20e060" opacity="0.5"/>
<rect x="170.14" y="46.8" width="95.56" height="6.5" fill="#bcc4c4"/>
<polygon points="170.14,50.05 172.99,46 175.84,50.05 172.99,54.1" fill="#a8f6dc"/>
<polygon points="175.84,50.05 178.69,46 181.54,50.05 178.69,54.1" fill="#a8f6dc"/>
<polygon points="181.54,50.05 184.39,46 187.24,50.05 184.39,54.1" fill="#a8f6dc"/>
<polygon points="187.24,50.05 190.09,46 192.94,50.05 190.09,54.1" fill="#a8f6dc"/>
<polygon points="192.94,50.05 195.79,46 198.64,50.05 195.79,54.1" fill="#a8f6dc"/>
<polygon points="198.64,50.05 201.49,46 204.34,50.05 201.49,54.1" fill="#a8f6dc"/>
<polygon points="204.34,50.05 207.19,46 210.04,50.05 207.19,54.1" fill="#a8f6dc"/>
<polygon points="210.04,50.05 212.89,46 215.74,50.05 212.89,54.1" fill="#a8f6dc"/>
<polygon points="215.74,50.05 218.59,46 221.44,50.05 218.59,54.1" fill="#a8f6dc"/>
<polygon points="221.44,50.05 224.29,46 227.14,50.05 224.29,54.1" fill="#a8f6dc"/>
<polygon points="227.14,50.05 229.99,46 232.84,50.05 229.99,54.1" fill="#a8f6dc"/>
<polygon points="232.84,50.05 235.69,46 238.54,50.05 235.69,54.1" fill="#a8f6dc"/>
<polygon points="238.54,50.05 241.39,46 244.24,50.05 241.39,54.1" fill="#a8f6dc"/>
<polygon points="244.24,50.05 247.09,46 249.94,50.05 247.09,54.1" fill="#a8f6dc"/>
<polygon points="249.94,50.05 252.79,46 255.64,50.05 252.79,54.1" fill="#a8f6dc"/>
<polygon points="255.64,50.05 258.49,46 261.34,50.05 258.49,54.1" fill="#a8f6dc"/>
<polygon points="261.34,50.05 263.52,46 265.7,50.05 263.52,54.1" fill="#a8f6dc"/>
<rect x="170.14" y="46.8" width="1.1" height="6.5" fill="#ff3050" opacity="0.18"/>
<rect x="172.34" y="46.8" width="1.1" height="6.5" fill="#20e060" opacity="0.18"/>
<rect x="174.54" y="46.8" width="1.1" height="6.5" fill="#4848ff" opacity="0.18"/>
<rect x="176.74" y="46.8" width="1.1" height="6.5" fill="#ff60d0" opacity="0.18"/>
<rect x="178.94" y="46.8" width="1.1" height="6.5" fill="#30f0c0" opacity="0.18"/>
<rect x="181.14" y="46.8" width="1.1" height="6.5" fill="#8080ff" opacity="0.18"/>
<rect x="183.34" y="46.8" width="1.1" height="6.5" fill="#ff3050" opacity="0.18"/>
<rect x="185.54" y="46.8" width="1.1" height="6.5" fill="#20e060" opacity="0.18"/>
<rect x="187.74" y="46.8" width="1.1" height="6.5" fill="#4848ff" opacity="0.18"/>
<rect x="189.94" y="46.8" width="1.1" height="6.5" fill="#ff60d0" opacity="0.18"/>
<rect x="192.14" y="46.8" width="1.1" height="6.5" fill="#30f0c0" opacity="0.18"/>
<rect x="194.34" y="46.8" width="1.1" height="6.5" fill="#8080ff" opacity="0.18"/>
<rect x="196.54" y="46.8" width="1.1" height="6.5" fill="#ff3050" opacity="0.18"/>
<rect x="198.74" y="46.8" width="1.1" height="6.5" fill="#20e060" opacity="0.18"/>
<rect x="200.94" y="46.8" width="1.1" height="6.5" fill="#4848ff" opacity="0.18"/>
<rect x="203.14" y="46.8" width="1.1" height="6.5" fill="#ff60d0" opacity="0.18"/>
<rect x="205.34" y="46.8" width="1.1" height="6.5" fill="#30f0c0" opacity="0.18"/>
<rect x="207.54" y="46.8" width="1.1" height="6.5" fill="#8080ff" opacity="0.18"/>
<rect x="209.74" y="46.8" width="1.1" height="6.5" fill="#ff3050" opacity="0.18"/>
<rect x="211.94" y="46.8" width="1.1" height="6.5" fill="#20e060" opacity="0.18"/>
<rect x="214.14" y="46.8" width="1.1" height="6.5" fill="#4848ff" opacity="0.18"/>
<rect x="216.34" y="46.8" width="1.1" height="6.5" fill="#ff60d0" opacity="0.18"/>
<rect x="218.54" y="46.8" width="1.1" height="6.5" fill="#30f0c0" opacity="0.18"/>
<rect x="220.74" y="46.8" width="1.1" height="6.5" fill="#8080ff" opacity="0.18"/>
<rect x="222.94" y="46.8" width="1.1" height="6.5" fill="#ff3050" opacity="0.18"/>
<rect x="225.14" y="46.8" width="1.1" height="6.5" fill="#20e060" opacity="0.18"/>
<rect x="227.34" y="46.8" width="1.1" height="6.5" fill="#4848ff" opacity="0.18"/>
<rect x="229.54" y="46.8" width="1.1" height="6.5" fill="#ff60d0" opacity="0.18"/>
<rect x="231.74" y="46.8" width="1.1" height="6.5" fill="#30f0c0" opacity="0.18"/>
<rect x="233.94" y="46.8" width="1.1" height="6.5" fill="#8080ff" opacity="0.18"/>
<rect x="236.14" y="46.8" width="1.1" height="6.5" fill="#ff3050" opacity="0.18"/>
<rect x="238.34" y="46.8" width="1.1" height="6.5" fill="#20e060" opacity="0.18"/>
<rect x="240.54" y="46.8" width="1.1" height="6.5" fill="#4848ff" opacity="0.18"/>
<rect x="242.74" y="46.8" width="1.1" height="6.5" fill="#ff60d0" opacity="0.18"/>
<rect x="244.94" y="46.8" width="1.1" height="6.5" fill="#30f0c0" opacity="0.18"/>
<rect x="247.14" y="46.8" width="1.1" height="6.5" fill="#8080ff" opacity="0.18"/>
<rect x="249.34" y="46.8" width="1.1" height="6.5" fill="#ff3050" opacity="0.18"/>
<rect x="251.54" y="46.8" width="1.1" height="6.5" fill="#20e060" opacity="0.18"/>
<rect x="253.74" y="46.8" width="1.1" height="6.5" fill="#4848ff" opacity="0.18"/>
<rect x="255.94" y="46.8" width="1.1" height="6.5" fill="#ff60d0" opacity="0.18"/>
<rect x="258.14" y="46.8" width="1.1" height="6.5" fill="#30f0c0" opacity="0.18"/>
<rect x="260.34" y="46.8" width="1.1" height="6.5" fill="#8080ff" opacity="0.18"/>
<rect x="262.54" y="46.8" width="1.1" height="6.5" fill="#ff3050" opacity="0.18"/>
<rect x="264.74" y="46.8" width="0.96" height="6.5" fill="#20e060" opacity="0.18"/>
<rect x="170.14" y="79.6" width="95.56" height="6.5" fill="#bcc4c4"/>
<polygon points="170.14,82.85 172.99,78.8 175.84,82.85 172.99,86.9" fill="#a8f6dc"/>
<polygon points="175.84,82.85 178.69,78.8 181.54,82.85 178.69,86.9" fill="#a8f6dc"/>
<polygon points="181.54,82.85 184.39,78.8 187.24,82.85 184.39,86.9" fill="#a8f6dc"/>
<polygon points="187.24,82.85 190.09,78.8 192.94,82.85 190.09,86.9" fill="#a8f6dc"/>
<polygon points="192.94,82.85 195.79,78.8 198.64,82.85 195.79,86.9" fill="#a8f6dc"/>
<polygon points="198.64,82.85 201.49,78.8 204.34,82.85 201.49,86.9" fill="#a8f6dc"/>
<polygon points="204.34,82.85 207.19,78.8 210.04,82.85 207.19,86.9" fill="#a8f6dc"/>
<polygon points="210.04,82.85 212.89,78.8 215.74,82.85 212.89,86.9" fill="#a8f6dc"/>
<polygon points="215.74,82.85 218.59,78.8 221.44,82.85 218.59,86.9" fill="#a8f6dc"/>
<polygon points="221.44,82.85 224.29,78.8 227.14,82.85 224.29,86.9" fill="#a8f6dc"/>
<polygon points="227.14,82.85 229.99,78.8 232.84,82.85 229.99,86.9" fill="#a8f6dc"/>
<polygon points="232.84,82.85 235.69,78.8 238.54,82.85 235.69,86.9" fill="#a8f6dc"/>
<polygon points="238.54,82.85 241.39,78.8 244.24,82.85 241.39,86.9" fill="#a8f6dc"/>
<polygon points="244.24,82.85 247.09,78.8 249.94,82.85 247.09,86.9" fill="#a8f6dc"/>
<polygon points="249.94,82.85 252.79,78.8 255.64,82.85 252.79,86.9" fill="#a8f6dc"/>
<polygon points="255.64,82.85 258.49,78.8 261.34,82.85 258.49,86.9" fill="#a8f6dc"/>
<polygon points="261.34,82.85 263.52,78.8 265.7,82.85 263.52,86.9" fill="#a8f6dc"/>
<rect x="170.14" y="79.6" width="1.1" height="6.5" fill="#ff3050" opacity="0.18"/>
<rect x="172.34" y="79.6" width="1.1" height="6.5" fill="#20e060" opacity="0.18"/>
<rect x="174.54" y="79.6" width="1.1" height="6.5" fill="#4848ff" opacity="0.18"/>
<rect x="176.74" y="79.6" width="1.1" height="6.5" fill="#ff60d0" opacity="0.18"/>
<rect x="178.94" y="79.6" width="1.1" height="6.5" fill="#30f0c0" opacity="0.18"/>
<rect x="181.14" y="79.6" width="1.1" height="6.5" fill="#8080ff" opacity="0.18"/>
<rect x="183.34" y="79.6" width="1.1" height="6.5" fill="#ff3050" opacity="0.18"/>
<rect x="185.54" y="79.6" width="1.1" height="6.5" fill="#20e060" opacity="0.18"/>
<rect x="187.74" y="79.6" width="1.1" height="6.5" fill="#4848ff" opacity="0.18"/>
<rect x="189.94" y="79.6" width="1.1" height="6.5" fill="#ff60d0" opacity="0.18"/>
<rect x="192.14" y="79.6" width="1.1" height="6.5" fill="#30f0c0" opacity="0.18"/>
<rect x="194.34" y="79.6" width="1.1" height="6.5" fill="#8080ff" opacity="0.18"/>
<rect x="196.54" y="79.6" width="1.1" height="6.5" fill="#ff3050" opacity="0.18"/>
<rect x="198.74" y="79.6" width="1.1" height="6.5" fill="#20e060" opacity="0.18"/>
<rect x="200.94" y="79.6" width="1.1" height="6.5" fill="#4848ff" opacity="0.18"/>
<rect x="203.14" y="79.6" width="1.1" height="6.5" fill="#ff60d0" opacity="0.18"/>
<rect x="205.34" y="79.6" width="1.1" height="6.5" fill="#30f0c0" opacity="0.18"/>
<rect x="207.54" y="79.6" width="1.1" height="6.5" fill="#8080ff" opacity="0.18"/>
<rect x="209.74" y="79.6" width="1.1" height="6.5" fill="#ff3050" opacity="0.18"/>
<rect x="211.94" y="79.6" width="1.1" height="6.5" fill="#20e060" opacity="0.18"/>
<rect x="214.14" y="79.6" width="1.1" height="6.5" fill="#4848ff" opacity="0.18"/>
<rect x="216.34" y="79.6" width="1.1" height="6.5" fill="#ff60d0" opacity="0.18"/>
<rect x="218.54" y="79.6" width="1.1" height="6.5" fill="#30f0c0" opacity="0.18"/>
<rect x="220.74" y="79.6" width="1.1" height="6.5" fill="#8080ff" opacity="0.18"/>
<rect x="222.94" y="79.6" width="1.1" height="6.5" fill="#ff3050" opacity="0.18"/>
<rect x="225.14" y="79.6" width="1.1" height="6.5" fill="#20e060" opacity="0.18"/>
<rect x="227.34" y="79.6" width="1.1" height="6.5" fill="#4848ff" opacity="0.18"/>
<rect x="229.54" y="79.6" width="1.1" height="6.5" fill="#ff60d0" opacity="0.18"/>
<rect x="231.74" y="79.6" width="1.1" height="6.5" fill="#30f0c0" opacity="0.18"/>
<rect x="233.94" y="79.6" width="1.1" height="6.5" fill="#8080ff" opacity="0.18"/>
<rect x="236.14" y="79.6" width="1.1" height="6.5" fill="#ff3050" opacity="0.18"/>
<rect x="238.34" y="79.6" width="1.1" height="6.5" fill="#20e060" opacity="0.18"/>
<rect x="240.54" y="79.6" width="1.1" height="6.5" fill="#4848ff" opacity="0.18"/>
<rect x="242.74" y="79.6" width="1.1" height="6.5" fill="#ff60d0" opacity="0.18"/>
<rect x="244.94" y="79.6" width="1.1" height="6.5" fill="#30f0c0" opacity="0.18"/>
<rect x="247.14" y="79.6" width="1.1" height="6.5" fill="#8080ff" opacity="0.18"/>
<rect x="249.34" y="79.6" width="1.1" height="6.5" fill="#ff3050" opacity="0.18"/>
<rect x="251.54" y="79.6" width="1.1" height="6.5" fill="#20e060" opacity="0.18"/>
<rect x="253.74" y="79.6" width="1.1" height="6.5" fill="#4848ff" opacity="0.18"/>
<rect x="255.94" y="79.6" width="1.1" height="6.5" fill="#ff60d0" opacity="0.18"/>
<rect x="258.14" y="79.6" width="1.1" height="6.5" fill="#30f0c0" opacity="0.18"/>
<rect x="260.34" y="79.6" width="1.1" height="6.5" fill="#8080ff" opacity="0.18"/>
<rect x="262.54" y="79.6" width="1.1" height="6.5" fill="#ff3050" opacity="0.18"/>
<rect x="264.74" y="79.6" width="0.96" height="6.5" fill="#20e060" opacity="0.18"/>
<rect x="170.14" y="53.3" width="1.1" height="26.3" fill="#ff80a0" opacity="0.2"/>
<rect x="172.34" y="53.3" width="1.1" height="26.3" fill="#60e0a0" opacity="0.2"/>
<rect x="174.54" y="53.3" width="1.1" height="26.3" fill="#8080ff" opacity="0.2"/>
<rect x="176.74" y="53.3" width="1.1" height="26.3" fill="#ff80a0" opacity="0.2"/>
<rect x="178.94" y="53.3" width="1.1" height="26.3" fill="#60e0a0" opacity="0.2"/>
<rect x="181.14" y="53.3" width="1.1" height="26.3" fill="#8080ff" opacity="0.2"/>
<rect x="183.34" y="53.3" width="1.1" height="26.3" fill="#ff80a0" opacity="0.2"/>
<rect x="185.54" y="53.3" width="1.1" height="26.3" fill="#60e0a0" opacity="0.2"/>
<rect x="187.74" y="53.3" width="1.1" height="26.3" fill="#8080ff" opacity="0.2"/>
<rect x="189.94" y="53.3" width="1.1" height="26.3" fill="#ff80a0" opacity="0.2"/>
<rect x="192.14" y="53.3" width="1.1" height="26.3" fill="#60e0a0" opacity="0.2"/>
<rect x="194.34" y="53.3" width="1.1" height="26.3" fill="#8080ff" opacity="0.2"/>
<rect x="196.54" y="53.3" width="1.1" height="26.3" fill="#ff80a0" opacity="0.2"/>
<rect x="198.74" y="53.3" width="1.1" height="26.3" fill="#60e0a0" opacity="0.2"/>
<rect x="200.94" y="53.3" width="1.1" height="26.3" fill="#8080ff" opacity="0.2"/>
<rect x="203.14" y="53.3" width="1.1" height="26.3" fill="#ff80a0" opacity="0.2"/>
<rect x="205.34" y="53.3" width="1.1" height="26.3" fill="#60e0a0" opacity="0.2"/>
<rect x="207.54" y="53.3" width="1.1" height="26.3" fill="#8080ff" opacity="0.2"/>
<rect x="209.74" y="53.3" width="1.1" height="26.3" fill="#ff80a0" opacity="0.2"/>
<rect x="211.94" y="53.3" width="1.1" height="26.3" fill="#60e0a0" opacity="0.2"/>
<rect x="214.14" y="53.3" width="1.1" height="26.3" fill="#8080ff" opacity="0.2"/>
<rect x="216.34" y="53.3" width="1.1" height="26.3" fill="#ff80a0" opacity="0.2"/>
<rect x="218.54" y="53.3" width="1.1" height="26.3" fill="#60e0a0" opacity="0.2"/>
<rect x="220.74" y="53.3" width="1.1" height="26.3" fill="#8080ff" opacity="0.2"/>
<rect x="222.94" y="53.3" width="1.1" height="26.3" fill="#ff80a0" opacity="0.2"/>
<rect x="225.14" y="53.3" width="1.1" height="26.3" fill="#60e0a0" opacity="0.2"/>
<rect x="227.34" y="53.3" width="1.1" height="26.3" fill="#8080ff" opacity="0.2"/>
<rect x="229.54" y="53.3" width="1.1" height="26.3" fill="#ff80a0" opacity="0.2"/>
<rect x="231.74" y="53.3" width="1.1" height="26.3" fill="#60e0a0" opacity="0.2"/>
<rect x="233.94" y="53.3" width="1.1" height="26.3" fill="#8080ff" opacity="0.2"/>
<rect x="236.14" y="53.3" width="1.1" height="26.3" fill="#ff80a0" opacity="0.2"/>
<rect x="238.34" y="53.3" width="1.1" height="26.3" fill="#60e0a0" opacity="0.2"/>
<rect x="240.54" y="53.3" width="1.1" height="26.3" fill="#8080ff" opacity="0.2"/>
<rect x="242.74" y="53.3" width="1.1" height="26.3" fill="#ff80a0" opacity="0.2"/>
<rect x="244.94" y="53.3" width="1.1" height="26.3" fill="#60e0a0" opacity="0.2"/>
<rect x="247.14" y="53.3" width="1.1" height="26.3" fill="#8080ff" opacity="0.2"/>
<rect x="249.34" y="53.3" width="1.1" height="26.3" fill="#ff80a0" opacity="0.2"/>
<rect x="251.54" y="53.3" width="1.1" height="26.3" fill="#60e0a0" opacity="0.2"/>
<rect x="253.74" y="53.3" width="1.1" height="26.3" fill="#8080ff" opacity="0.2"/>
<rect x="255.94" y="53.3" width="1.1" height="26.3" fill="#ff80a0" opacity="0.2"/>
<rect x="258.14" y="53.3" width="1.1" height="26.3" fill="#60e0a0" opacity="0.2"/>
<rect x="260.34" y="53.3" width="1.1" height="26.3" fill="#8080ff" opacity="0.2"/>
<rect x="262.54" y="53.3" width="1.1" height="26.3" fill="#ff80a0" opacity="0.2"/>
<rect x="264.74" y="53.3" width="0.96" height="26.3" fill="#60e0a0" opacity="0.2"/>
<line x1="25.3" y1="33.3" x2="265.7" y2="33.3" stroke="#111" stroke-width="0.9" stroke-dasharray="1.2 1.4"/>
<line x1="25.3" y1="41.7" x2="265.7" y2="41.7" stroke="#111" stroke-width="0.9" stroke-dasharray="1.2 1.4"/>
<line x1="25.3" y1="92.3" x2="265.7" y2="92.3" stroke="#111" stroke-width="0.9" stroke-dasharray="1.2 1.4"/>
<line x1="25.3" y1="99.6" x2="265.7" y2="99.6" stroke="#111" stroke-width="0.9" stroke-dasharray="1.2 1.4"/>
<rect x="73.88" y="6.5" width="95.96" height="120" fill="none" stroke="#ffbf00" stroke-width="1.8" stroke-dasharray="2.1 1.8"/>
<rect x="307" y="42.5" width="1.1" height="49.7" fill="#50e080" opacity="0.55"/>
<rect x="307" y="42.5" width="1.1" height="5" fill="#10c040" opacity="0.2"/>
<rect x="307" y="87.2" width="1.1" height="5" fill="#2828ff" opacity="0.2"/>
<rect x="307" y="71.55" width="1.1" height="1.59" fill="#ff1818" opacity="0.3"/>
<rect x="307" y="60.31" width="1.1" height="2.37" fill="#ff1818" opacity="0.3"/>
<rect x="307" y="41.7" width="1.1" height="3.0" fill="#10c040" opacity="0.85"/>
<rect x="307" y="90.0" width="1.1" height="3.0" fill="#2828ff" opacity="0.85"/>
<rect x="309.62" y="42.5" width="1.1" height="49.7" fill="#7070ff" opacity="0.55"/>
<rect x="309.62" y="42.5" width="1.1" height="5" fill="#2828ff" opacity="0.2"/>
<rect x="309.62" y="87.2" width="1.1" height="5" fill="#ff1818" opacity="0.2"/>
<rect x="309.62" y="76.56" width="1.1" height="1.93" fill="#2828ff" opacity="0.3"/>
<rect x="309.62" y="78.62" width="1.1" height="2.02" fill="#2828ff" opacity="0.3"/>
<rect x="309.62" y="41.7" width="1.1" height="3.0" fill="#2828ff" opacity="0.85"/>
<rect x="309.62" y="90.0" width="1.1" height="3.0" fill="#ff1818" opacity="0.85"/>
<rect x="312.24" y="42.5" width="1.1" height="49.7" fill="#ff6070" opacity="0.55"/>
<rect x="312.24" y="42.5" width="1.1" height="5" fill="#ff1818" opacity="0.2"/>
<rect x="312.24" y="87.2" width="1.1" height="5" fill="#10c040" opacity="0.2"/>
<rect x="312.24" y="61.77" width="1.1" height="2.42" fill="#2828ff" opacity="0.3"/>
<rect x="312.24" y="52.37" width="1.1" height="2.65" fill="#10c040" opacity="0.3"/>
<rect x="312.24" y="41.7" width="1.1" height="3.0" fill="#ff1818" opacity="0.85"/>
<rect x="312.24" y="90.0" width="1.1" height="3.0" fill="#10c040" opacity="0.85"/>
<rect x="314.86" y="42.5" width="1.1" height="49.7" fill="#50e080" opacity="0.55"/>
<rect x="314.86" y="42.5" width="1.1" height="5" fill="#10c040" opacity="0.2"/>
<rect x="314.86" y="87.2" width="1.1" height="5" fill="#2828ff" opacity="0.2"/>
<rect x="314.86" y="73.91" width="1.1" height="2.1" fill="#2828ff" opacity="0.3"/>
<rect x="314.86" y="53.05" width="1.1" height="2.17" fill="#ff1818" opacity="0.3"/>
<rect x="314.86" y="41.7" width="1.1" height="3.0" fill="#10c040" opacity="0.85"/>
<rect x="314.86" y="90.0" width="1.1" height="3.0" fill="#2828ff" opacity="0.85"/>
<rect x="317.48" y="42.5" width="1.1" height="49.7" fill="#7070ff" opacity="0.55"/>
<rect x="317.48" y="42.5" width="1.1" height="5" fill="#2828ff" opacity="0.2"/>
<rect x="317.48" y="87.2" width="1.1" height="5" fill="#ff1818" opacity="0.2"/>
<rect x="317.48" y="59.31" width="1.1" height="1.71" fill="#2828ff" opacity="0.3"/>
<rect x="317.48" y="77.89" width="1.1" height="1.92" fill="#2828ff" opacity="0.3"/>
<rect x="317.48" y="41.7" width="1.1" height="3.0" fill="#2828ff" opacity="0.85"/>
<rect x="317.48" y="90.0" width="1.1" height="3.0" fill="#ff1818" opacity="0.85"/>
<rect x="320.1" y="42.5" width="1.1" height="49.7" fill="#ff6070" opacity="0.55"/>
<rect x="320.1" y="42.5" width="1.1" height="5" fill="#ff1818" opacity="0.2"/>
<rect x="320.1" y="87.2" width="1.1" height="5" fill="#10c040" opacity="0.2"/>
<rect x="320.1" y="81.77" width="1.1" height="2.52" fill="#2828ff" opacity="0.3"/>
<rect x="320.1" y="80.86" width="1.1" height="1.73" fill="#10c040" opacity="0.3"/>
<rect x="320.1" y="41.7" width="1.1" height="3.0" fill="#ff1818" opacity="0.85"/>
<rect x="320.1" y="90.0" width="1.1" height="3.0" fill="#10c040" opacity="0.85"/>
<rect x="322.72" y="42.5" width="1.1" height="49.7" fill="#50e080" opacity="0.55"/>
<rect x="322.72" y="42.5" width="1.1" height="5" fill="#10c040" opacity="0.2"/>
<rect x="322.72" y="87.2" width="1.1" height="5" fill="#2828ff" opacity="0.2"/>
<rect x="322.72" y="55.3" width="1.1" height="2.49" fill="#10c040" opacity="0.3"/>
<rect x="322.72" y="65.87" width="1.1" height="2.38" fill="#2828ff" opacity="0.3"/>
<rect x="322.72" y="41.7" width="1.1" height="3.0" fill="#10c040" opacity="0.85"/>
<rect x="322.72" y="90.0" width="1.1" height="3.0" fill="#2828ff" opacity="0.85"/>
<rect x="325.34" y="42.5" width="1.1" height="49.7" fill="#7070ff" opacity="0.55"/>
<rect x="325.34" y="42.5" width="1.1" height="5" fill="#2828ff" opacity="0.2"/>
<rect x="325.34" y="87.2" width="1.1" height="5" fill="#ff1818" opacity="0.2"/>
<rect x="325.34" y="59.44" width="1.1" height="1.72" fill="#ff1818" opacity="0.3"/>
<rect x="325.34" y="62.21" width="1.1" height="2.35" fill="#10c040" opacity="0.3"/>
<rect x="325.34" y="41.7" width="1.1" height="3.0" fill="#2828ff" opacity="0.85"/>
<rect x="325.34" y="90.0" width="1.1" height="3.0" fill="#ff1818" opacity="0.85"/>
<rect x="327.96" y="42.5" width="1.1" height="49.7" fill="#ff6070" opacity="0.55"/>
<rect x="327.96" y="42.5" width="1.1" height="5" fill="#ff1818" opacity="0.2"/>
<rect x="327.96" y="87.2" width="1.1" height="5" fill="#10c040" opacity="0.2"/>
<rect x="327.96" y="72.39" width="1.1" height="2.27" fill="#ff1818" opacity="0.3"/>
<rect x="327.96" y="71.26" width="1.1" height="2.61" fill="#2828ff" opacity="0.3"/>
<rect x="327.96" y="41.7" width="1.1" height="3.0" fill="#ff1818" opacity="0.85"/>
<rect x="327.96" y="90.0" width="1.1" height="3.0" fill="#10c040" opacity="0.85"/>
<rect x="330.58" y="42.5" width="1.1" height="49.7" fill="#50e080" opacity="0.55"/>
<rect x="330.58" y="42.5" width="1.1" height="5" fill="#10c040" opacity="0.2"/>
<rect x="330.58" y="87.2" width="1.1" height="5" fill="#2828ff" opacity="0.2"/>
<rect x="330.58" y="79.02" width="1.1" height="2.67" fill="#ff1818" opacity="0.3"/>
<rect x="330.58" y="75.79" width="1.1" height="2.09" fill="#2828ff" opacity="0.3"/>
<rect x="330.58" y="41.7" width="1.1" height="3.0" fill="#10c040" opacity="0.85"/>
<rect x="330.58" y="90.0" width="1.1" height="3.0" fill="#2828ff" opacity="0.85"/>
<rect x="333.2" y="42.5" width="1.1" height="49.7" fill="#7070ff" opacity="0.55"/>
<rect x="333.2" y="42.5" width="1.1" height="5" fill="#2828ff" opacity="0.2"/>
<rect x="333.2" y="87.2" width="1.1" height="5" fill="#ff1818" opacity="0.2"/>
<rect x="333.2" y="62.99" width="1.1" height="2.22" fill="#2828ff" opacity="0.3"/>
<rect x="333.2" y="52.47" width="1.1" height="1.6" fill="#10c040" opacity="0.3"/>
<rect x="333.2" y="41.7" width="1.1" height="3.0" fill="#2828ff" opacity="0.85"/>
<rect x="333.2" y="90.0" width="1.1" height="3.0" fill="#ff1818" opacity="0.85"/>
<rect x="335.82" y="42.5" width="1.1" height="49.7" fill="#ff6070" opacity="0.55"/>
<rect x="335.82" y="42.5" width="1.1" height="5" fill="#ff1818" opacity="0.2"/>
<rect x="335.82" y="87.2" width="1.1" height="5" fill="#10c040" opacity="0.2"/>
<rect x="335.82" y="64.47" width="1.1" height="1.66" fill="#ff1818" opacity="0.3"/>
<rect x="335.82" y="52.17" width="1.1" height="1.5" fill="#10c040" opacity="0.3"/>
<rect x="335.82" y="41.7" width="1.1" height="3.0" fill="#ff1818" opacity="0.85"/>
<rect x="335.82" y="90.0" width="1.1" height="3.0" fill="#10c040" opacity="0.85"/>
<rect x="338.44" y="42.5" width="1.1" height="49.7" fill="#50e080" opacity="0.55"/>
<rect x="338.44" y="42.5" width="1.1" height="5" fill="#10c040" opacity="0.2"/>
<rect x="338.44" y="87.2" width="1.1" height="5" fill="#2828ff" opacity="0.2"/>
<rect x="338.44" y="67.51" width="1.1" height="2.92" fill="#ff1818" opacity="0.3"/>
<rect x="338.44" y="51.31" width="1.1" height="2.81" fill="#ff1818" opacity="0.3"/>
<rect x="338.44" y="41.7" width="1.1" height="3.0" fill="#10c040" opacity="0.85"/>
<rect x="338.44" y="90.0" width="1.1" height="3.0" fill="#2828ff" opacity="0.85"/>
<rect x="341.06" y="42.5" width="1.1" height="49.7" fill="#7070ff" opacity="0.55"/>
<rect x="341.06" y="42.5" width="1.1" height="5" fill="#2828ff" opacity="0.2"/>
<rect x="341.06" y="87.2" width="1.1" height="5" fill="#ff1818" opacity="0.2"/>
<rect x="341.06" y="62.43" width="1.1" height="2.45" fill="#2828ff" opacity="0.3"/>
<rect x="341.06" y="69.59" width="1.1" height="2.21" fill="#10c040" opacity="0.3"/>
<rect x="341.06" y="41.7" width="1.1" height="3.0" fill="#2828ff" opacity="0.85"/>
<rect x="341.06" y="90.0" width="1.1" height="3.0" fill="#ff1818" opacity="0.85"/>
<rect x="343.68" y="42.5" width="1.1" height="49.7" fill="#ff6070" opacity="0.55"/>
<rect x="343.68" y="42.5" width="1.1" height="5" fill="#ff1818" opacity="0.2"/>
<rect x="343.68" y="87.2" width="1.1" height="5" fill="#10c040" opacity="0.2"/>
<rect x="343.68" y="77.41" width="1.1" height="2.99" fill="#2828ff" opacity="0.3"/>
<rect x="343.68" y="65.73" width="1.1" height="1.97" fill="#10c040" opacity="0.3"/>
<rect x="343.68" y="41.7" width="1.1" height="3.0" fill="#ff1818" opacity="0.85"/>
<rect x="343.68" y="90.0" width="1.1" height="3.0" fill="#10c040" opacity="0.85"/>
<rect x="346.3" y="42.5" width="1.1" height="49.7" fill="#50e080" opacity="0.55"/>
<rect x="346.3" y="42.5" width="1.1" height="5" fill="#10c040" opacity="0.2"/>
<rect x="346.3" y="87.2" width="1.1" height="5" fill="#2828ff" opacity="0.2"/>
<rect x="346.3" y="53.74" width="1.1" height="2.01" fill="#2828ff" opacity="0.3"/>
<rect x="346.3" y="65.67" width="1.1" height="2.54" fill="#ff1818" opacity="0.3"/>
<rect x="346.3" y="41.7" width="1.1" height="3.0" fill="#10c040" opacity="0.85"/>
<rect x="346.3" y="90.0" width="1.1" height="3.0" fill="#2828ff" opacity="0.85"/>
<rect x="348.92" y="42.5" width="1.1" height="49.7" fill="#7070ff" opacity="0.55"/>
<rect x="348.92" y="42.5" width="1.1" height="5" fill="#2828ff" opacity="0.2"/>
<rect x="348.92" y="87.2" width="1.1" height="5" fill="#ff1818" opacity="0.2"/>
<rect x="348.92" y="51.23" width="1.1" height="2.93" fill="#ff1818" opacity="0.3"/>
<rect x="348.92" y="61.97" width="1.1" height="2.54" fill="#10c040" opacity="0.3"/>
<rect x="348.92" y="41.7" width="1.1" height="3.0" fill="#2828ff" opacity="0.85"/>
<rect x="348.92" y="90.0" width="1.1" height="3.0" fill="#ff1818" opacity="0.85"/>
<rect x="351.54" y="42.5" width="1.1" height="49.7" fill="#ff6070" opacity="0.55"/>
<rect x="351.54" y="42.5" width="1.1" height="5" fill="#ff1818" opacity="0.2"/>
<rect x="351.54" y="87.2" width="1.1" height="5" fill="#10c040" opacity="0.2"/>
<rect x="351.54" y="74.53" width="1.1" height="1.95" fill="#ff1818" opacity="0.3"/>
<rect x="351.54" y="77.87" width="1.1" height="2.54" fill="#2828ff" opacity="0.3"/>
<rect x="351.54" y="41.7" width="1.1" height="3.0" fill="#ff1818" opacity="0.85"/>
<rect x="351.54" y="90.0" width="1.1" height="3.0" fill="#10c040" opacity="0.85"/>
<rect x="354.16" y="42.5" width="1.1" height="49.7" fill="#50e080" opacity="0.55"/>
<rect x="354.16" y="42.5" width="1.1" height="5" fill="#10c040" opacity="0.2"/>
<rect x="354.16" y="87.2" width="1.1" height="5" fill="#2828ff" opacity="0.2"/>
<rect x="354.16" y="66.93" width="1.1" height="2.86" fill="#2828ff" opacity="0.3"/>
<rect x="354.16" y="74.97" width="1.1" height="2.3" fill="#ff1818" opacity="0.3"/>
<rect x="354.16" y="41.7" width="1.1" height="3.0" fill="#10c040" opacity="0.85"/>
<rect x="354.16" y="90.0" width="1.1" height="3.0" fill="#2828ff" opacity="0.85"/>
<rect x="356.78" y="42.5" width="1.1" height="49.7" fill="#7070ff" opacity="0.55"/>
<rect x="356.78" y="42.5" width="1.1" height="5" fill="#2828ff" opacity="0.2"/>
<rect x="356.78" y="87.2" width="1.1" height="5" fill="#ff1818" opacity="0.2"/>
<rect x="356.78" y="60.95" width="1.1" height="1.83" fill="#10c040" opacity="0.3"/>
<rect x="356.78" y="76.05" width="1.1" height="2.73" fill="#ff1818" opacity="0.3"/>
<rect x="356.78" y="41.7" width="1.1" height="3.0" fill="#2828ff" opacity="0.85"/>
<rect x="356.78" y="90.0" width="1.1" height="3.0" fill="#ff1818" opacity="0.85"/>
<rect x="359.4" y="42.5" width="1.1" height="49.7" fill="#ff6070" opacity="0.55"/>
<rect x="359.4" y="42.5" width="1.1" height="5" fill="#ff1818" opacity="0.2"/>
<rect x="359.4" y="87.2" width="1.1" height="5" fill="#10c040" opacity="0.2"/>
<rect x="359.4" y="75.97" width="1.1" height="1.8" fill="#2828ff" opacity="0.3"/>
<rect x="359.4" y="61.77" width="1.1" height="1.54" fill="#10c040" opacity="0.3"/>
<rect x="359.4" y="41.7" width="1.1" height="3.0" fill="#ff1818" opacity="0.85"/>
<rect x="359.4" y="90.0" width="1.1" height="3.0" fill="#10c040" opacity="0.85"/>
<rect x="362.02" y="42.5" width="1.1" height="49.7" fill="#50e080" opacity="0.55"/>
<rect x="362.02" y="42.5" width="1.1" height="5" fill="#10c040" opacity="0.2"/>
<rect x="362.02" y="87.2" width="1.1" height="5" fill="#2828ff" opacity="0.2"/>
<rect x="362.02" y="75.55" width="1.1" height="2.21" fill="#10c040" opacity="0.3"/>
<rect x="362.02" y="72.45" width="1.1" height="2.93" fill="#2828ff" opacity="0.3"/>
<rect x="362.02" y="41.7" width="1.1" height="3.0" fill="#10c040" opacity="0.85"/>
<rect x="362.02" y="90.0" width="1.1" height="3.0" fill="#2828ff" opacity="0.85"/>
<rect x="364.64" y="42.5" width="1.1" height="49.7" fill="#7070ff" opacity="0.55"/>
<rect x="364.64" y="42.5" width="1.1" height="5" fill="#2828ff" opacity="0.2"/>
<rect x="364.64" y="87.2" width="1.1" height="5" fill="#ff1818" opacity="0.2"/>
<rect x="364.64" y="76.13" width="1.1" height="2.58" fill="#2828ff" opacity="0.3"/>
<rect x="364.64" y="80.77" width="1.1" height="2.05" fill="#10c040" opacity="0.3"/>
<rect x="364.64" y="41.7" width="1.1" height="3.0" fill="#2828ff" opacity="0.85"/>
<rect x="364.64" y="90.0" width="1.1" height="3.0" fill="#ff1818" opacity="0.85"/>
<rect x="367.26" y="42.5" width="1.1" height="49.7" fill="#ff6070" opacity="0.55"/>
<rect x="367.26" y="42.5" width="1.1" height="5" fill="#ff1818" opacity="0.2"/>
<rect x="367.26" y="87.2" width="1.1" height="5" fill="#10c040" opacity="0.2"/>
<rect x="367.26" y="53.74" width="1.1" height="2.21" fill="#2828ff" opacity="0.3"/>
<rect x="367.26" y="56.98" width="1.1" height="2.44" fill="#ff1818" opacity="0.3"/>
<rect x="367.26" y="41.7" width="1.1" height="3.0" fill="#ff1818" opacity="0.85"/>
<rect x="367.26" y="90.0" width="1.1" height="3.0" fill="#10c040" opacity="0.85"/>
<rect x="369.88" y="42.5" width="1.1" height="49.7" fill="#50e080" opacity="0.55"/>
<rect x="369.88" y="42.5" width="1.1" height="5" fill="#10c040" opacity="0.2"/>
<rect x="369.88" y="87.2" width="1.1" height="5" fill="#2828ff" opacity="0.2"/>
<rect x="369.88" y="77.14" width="1.1" height="2.22" fill="#ff1818" opacity="0.3"/>
<rect x="369.88" y="61.41" width="1.1" height="2.46" fill="#ff1818" opacity="0.3"/>
<rect x="369.88" y="41.7" width="1.1" height="3.0" fill="#10c040" opacity="0.85"/>
<rect x="369.88" y="90.0" width="1.1" height="3.0" fill="#2828ff" opacity="0.85"/>
<rect x="372.5" y="42.5" width="1.1" height="49.7" fill="#7070ff" opacity="0.55"/>
<rect x="372.5" y="42.5" width="1.1" height="5" fill="#2828ff" opacity="0.2"/>
<rect x="372.5" y="87.2" width="1.1" height="5" fill="#ff1818" opacity="0.2"/>
<rect x="372.5" y="54.3" width="1.1" height="2.08" fill="#ff1818" opacity="0.3"/>
<rect x="372.5" y="74.28" width="1.1" height="2.22" fill="#10c040" opacity="0.3"/>
<rect x="372.5" y="41.7" width="1.1" height="3.0" fill="#2828ff" opacity="0.85"/>
<rect x="372.5" y="90.0" width="1.1" height="3.0" fill="#ff1818" opacity="0.85"/>
<rect x="375.12" y="42.5" width="1.1" height="49.7" fill="#ff6070" opacity="0.55"/>
<rect x="375.12" y="42.5" width="1.1" height="5" fill="#ff1818" opacity="0.2"/>
<rect x="375.12" y="87.2" width="1.1" height="5" fill="#10c040" opacity="0.2"/>
<rect x="375.12" y="64.26" width="1.1" height="2.45" fill="#10c040" opacity="0.3"/>
<rect x="375.12" y="75.89" width="1.1" height="2.96" fill="#2828ff" opacity="0.3"/>
<rect x="375.12" y="41.7" width="1.1" height="3.0" fill="#ff1818" opacity="0.85"/>
<rect x="375.12" y="90.0" width="1.1" height="3.0" fill="#10c040" opacity="0.85"/>
<rect x="377.74" y="42.5" width="1.1" height="49.7" fill="#50e080" opacity="0.55"/>
<rect x="377.74" y="42.5" width="1.1" height="5" fill="#10c040" opacity="0.2"/>
<rect x="377.74" y="87.2" width="1.1" height="5" fill="#2828ff" opacity="0.2"/>
<rect x="377.74" y="65.18" width="1.1" height="2.62" fill="#10c040" opacity="0.3"/>
<rect x="377.74" y="73.48" width="1.1" height="1.76" fill="#10c040" opacity="0.3"/>
<rect x="377.74" y="41.7" width="1.1" height="3.0" fill="#10c040" opacity="0.85"/>
<rect x="377.74" y="90.0" width="1.1" height="3.0" fill="#2828ff" opacity="0.85"/>
<rect x="380.36" y="42.5" width="1.1" height="49.7" fill="#7070ff" opacity="0.55"/>
<rect x="380.36" y="42.5" width="1.1" height="5" fill="#2828ff" opacity="0.2"/>
<rect x="380.36" y="87.2" width="1.1" height="5" fill="#ff1818" opacity="0.2"/>
<rect x="380.36" y="51.37" width="1.1" height="2.39" fill="#2828ff" opacity="0.3"/>
<rect x="380.36" y="76.07" width="1.1" height="1.72" fill="#ff1818" opacity="0.3"/>
<rect x="380.36" y="41.7" width="1.1" height="3.0" fill="#2828ff" opacity="0.85"/>
<rect x="380.36" y="90.0" width="1.1" height="3.0" fill="#ff1818" opacity="0.85"/>
<rect x="382.98" y="42.5" width="1.1" height="49.7" fill="#ff6070" opacity="0.55"/>
<rect x="382.98" y="42.5" width="1.1" height="5" fill="#ff1818" opacity="0.2"/>
<rect x="382.98" y="87.2" width="1.1" height="5" fill="#10c040" opacity="0.2"/>
<rect x="382.98" y="81.58" width="1.1" height="2.49" fill="#2828ff" opacity="0.3"/>
<rect x="382.98" y="55.44" width="1.1" height="2.32" fill="#10c040" opacity="0.3"/>
<rect x="382.98" y="41.7" width="1.1" height="3.0" fill="#ff1818" opacity="0.85"/>
<rect x="382.98" y="90.0" width="1.1" height="3.0" fill="#10c040" opacity="0.85"/>
<rect x="385.6" y="42.5" width="1.1" height="49.7" fill="#50e080" opacity="0.55"/>
<rect x="385.6" y="42.5" width="1.1" height="5" fill="#10c040" opacity="0.2"/>
<rect x="385.6" y="87.2" width="1.1" height="5" fill="#2828ff" opacity="0.2"/>
<rect x="385.6" y="50.95" width="1.1" height="2.96" fill="#ff1818" opacity="0.3"/>
<rect x="385.6" y="53.76" width="1.1" height="2.62" fill="#10c040" opacity="0.3"/>
<rect x="385.6" y="41.7" width="1.1" height="3.0" fill="#10c040" opacity="0.85"/>
<rect x="385.6" y="90.0" width="1.1" height="3.0" fill="#2828ff" opacity="0.85"/>
<rect x="388.22" y="42.5" width="1.1" height="49.7" fill="#7070ff" opacity="0.55"/>
<rect x="388.22" y="42.5" width="1.1" height="5" fill="#2828ff" opacity="0.2"/>
<rect x="388.22" y="87.2" width="1.1" height="5" fill="#ff1818" opacity="0.2"/>
<rect x="388.22" y="64.25" width="1.1" height="2.81" fill="#10c040" opacity="0.3"/>
<rect x="388.22" y="51.39" width="1.1" height="1.82" fill="#ff1818" opacity="0.3"/>
<rect x="388.22" y="41.7" width="1.1" height="3.0" fill="#2828ff" opacity="0.85"/>
<rect x="388.22" y="90.0" width="1.1" height="3.0" fill="#ff1818" opacity="0.85"/>
<rect x="390.84" y="42.5" width="1.1" height="49.7" fill="#ff6070" opacity="0.55"/>
<rect x="390.84" y="42.5" width="1.1" height="5" fill="#ff1818" opacity="0.2"/>
<rect x="390.84" y="87.2" width="1.1" height="5" fill="#10c040" opacity="0.2"/>
<rect x="390.84" y="58.13" width="1.1" height="2.38" fill="#2828ff" opacity="0.3"/>
<rect x="390.84" y="67.76" width="1.1" height="2.75" fill="#10c040" opacity="0.3"/>
<rect x="390.84" y="41.7" width="1.1" height="3.0" fill="#ff1818" opacity="0.85"/>
<rect x="390.84" y="90.0" width="1.1" height="3.0" fill="#10c040" opacity="0.85"/>
<rect x="393.46" y="42.5" width="1.1" height="49.7" fill="#50e080" opacity="0.55"/>
<rect x="393.46" y="42.5" width="1.1" height="5" fill="#10c040" opacity="0.2"/>
<rect x="393.46" y="87.2" width="1.1" height="5" fill="#2828ff" opacity="0.2"/>
<rect x="393.46" y="79.35" width="1.1" height="2.03" fill="#2828ff" opacity="0.3"/>
<rect x="393.46" y="71.5" width="1.1" height="2.72" fill="#ff1818" opacity="0.3"/>
<rect x="393.46" y="41.7" width="1.1" height="3.0" fill="#10c040" opacity="0.85"/>
<rect x="393.46" y="90.0" width="1.1" height="3.0" fill="#2828ff" opacity="0.85"/>
<rect x="396.08" y="42.5" width="1.1" height="49.7" fill="#7070ff" opacity="0.55"/>
<rect x="396.08" y="42.5" width="1.1" height="5" fill="#2828ff" opacity="0.2"/>
<rect x="396.08" y="87.2" width="1.1" height="5" fill="#ff1818" opacity="0.2"/>
<rect x="396.08" y="63.83" width="1.1" height="2.88" fill="#ff1818" opacity="0.3"/>
<rect x="396.08" y="54.65" width="1.1" height="1.73" fill="#ff1818" opacity="0.3"/>
<rect x="396.08" y="41.7" width="1.1" height="3.0" fill="#2828ff" opacity="0.85"/>
<rect x="396.08" y="90.0" width="1.1" height="3.0" fill="#ff1818" opacity="0.85"/>
<rect x="398.7" y="42.5" width="1.1" height="49.7" fill="#ff6070" opacity="0.55"/>
<rect x="398.7" y="42.5" width="1.1" height="5" fill="#ff1818" opacity="0.2"/>
<rect x="398.7" y="87.2" width="1.1" height="5" fill="#10c040" opacity="0.2"/>
<rect x="398.7" y="51.09" width="1.1" height="2.16" fill="#10c040" opacity="0.3"/>
<rect x="398.7" y="69.79" width="1.1" height="2.66" fill="#10c040" opacity="0.3"/>
<rect x="398.7" y="41.7" width="1.1" height="3.0" fill="#ff1818" opacity="0.85"/>
<rect x="398.7" y="90.0" width="1.1" height="3.0" fill="#10c040" opacity="0.85"/>
<rect x="401.32" y="42.5" width="1.1" height="49.7" fill="#50e080" opacity="0.55"/>
<rect x="401.32" y="42.5" width="1.1" height="5" fill="#10c040" opacity="0.2"/>
<rect x="401.32" y="87.2" width="1.1" height="5" fill="#2828ff" opacity="0.2"/>
<rect x="401.32" y="55.96" width="1.1" height="2.21" fill="#ff1818" opacity="0.3"/>
<rect x="401.32" y="54.31" width="1.1" height="1.59" fill="#ff1818" opacity="0.3"/>
<rect x="401.32" y="41.7" width="1.1" height="3.0" fill="#10c040" opacity="0.85"/>
<rect x="401.32" y="90.0" width="1.1" height="3.0" fill="#2828ff" opacity="0.85"/>
<rect x="403.94" y="42.5" width="1.1" height="49.7" fill="#7070ff" opacity="0.55"/>
<rect x="403.94" y="42.5" width="1.1" height="5" fill="#2828ff" opacity="0.2"/>
<rect x="403.94" y="87.2" width="1.1" height="5" fill="#ff1818" opacity="0.2"/>
<rect x="403.94" y="66.93" width="1.1" height="2.33" fill="#10c040" opacity="0.3"/>
<rect x="403.94" y="78.5" width="1.1" height="1.59" fill="#10c040" opacity="0.3"/>
<rect x="403.94" y="41.7" width="1.1" height="3.0" fill="#2828ff" opacity="0.85"/>
<rect x="403.94" y="90.0" width="1.1" height="3.0" fill="#ff1818" opacity="0.85"/>
<rect x="406.56" y="42.5" width="1.1" height="49.7" fill="#ff6070" opacity="0.55"/>
<rect x="406.56" y="42.5" width="1.1" height="5" fill="#ff1818" opacity="0.2"/>
<rect x="406.56" y="87.2" width="1.1" height="5" fill="#10c040" opacity="0.2"/>
<rect x="406.56" y="59.28" width="1.1" height="2.66" fill="#ff1818" opacity="0.3"/>
<rect x="406.56" y="64.83" width="1.1" height="1.54" fill="#10c040" opacity="0.3"/>
<rect x="406.56" y="41.7" width="1.1" height="3.0" fill="#ff1818" opacity="0.85"/>
<rect x="406.56" y="90.0" width="1.1" height="3.0" fill="#10c040" opacity="0.85"/>
<rect x="409.18" y="42.5" width="1.1" height="49.7" fill="#50e080" opacity="0.55"/>
<rect x="409.18" y="42.5" width="1.1" height="5" fill="#10c040" opacity="0.2"/>
<rect x="409.18" y="87.2" width="1.1" height="5" fill="#2828ff" opacity="0.2"/>
<rect x="409.18" y="64.55" width="1.1" height="2.42" fill="#ff1818" opacity="0.3"/>
<rect x="409.18" y="69.71" width="1.1" height="1.8" fill="#2828ff" opacity="0.3"/>
<rect x="409.18" y="41.7" width="1.1" height="3.0" fill="#10c040" opacity="0.85"/>
<rect x="409.18" y="90.0" width="1.1" height="3.0" fill="#2828ff" opacity="0.85"/>
<rect x="411.8" y="42.5" width="1.1" height="49.7" fill="#7070ff" opacity="0.55"/>
<rect x="411.8" y="42.5" width="1.1" height="5" fill="#2828ff" opacity="0.2"/>
<rect x="411.8" y="87.2" width="1.1" height="5" fill="#ff1818" opacity="0.2"/>
<rect x="411.8" y="64.84" width="1.1" height="2.3" fill="#2828ff" opacity="0.3"/>
<rect x="411.8" y="66.6" width="1.1" height="1.87" fill="#ff1818" opacity="0.3"/>
<rect x="411.8" y="41.7" width="1.1" height="3.0" fill="#2828ff" opacity="0.85"/>
<rect x="411.8" y="90.0" width="1.1" height="3.0" fill="#ff1818" opacity="0.85"/>
<rect x="414.42" y="42.5" width="1.1" height="49.7" fill="#ff6070" opacity="0.55"/>
<rect x="414.42" y="42.5" width="1.1" height="5" fill="#ff1818" opacity="0.2"/>
<rect x="414.42" y="87.2" width="1.1" height="5" fill="#10c040" opacity="0.2"/>
<rect x="414.42" y="78.29" width="1.1" height="2.91" fill="#2828ff" opacity="0.3"/>
<rect x="414.42" y="79.75" width="1.1" height="2.84" fill="#10c040" opacity="0.3"/>
<rect x="414.42" y="41.7" width="1.1" height="3.0" fill="#ff1818" opacity="0.85"/>
<rect x="414.42" y="90.0" width="1.1" height="3.0" fill="#10c040" opacity="0.85"/>
<rect x="417.04" y="42.5" width="1.1" height="49.7" fill="#50e080" opacity="0.55"/>
<rect x="417.04" y="42.5" width="1.1" height="5" fill="#10c040" opacity="0.2"/>
<rect x="417.04" y="87.2" width="1.1" height="5" fill="#2828ff" opacity="0.2"/>
<rect x="417.04" y="77.13" width="1.1" height="1.71" fill="#10c040" opacity="0.3"/>
<rect x="417.04" y="62.94" width="1.1" height="1.97" fill="#ff1818" opacity="0.3"/>
<rect x="417.04" y="41.7" width="1.1" height="3.0" fill="#10c040" opacity="0.85"/>
<rect x="417.04" y="90.0" width="1.1" height="3.0" fill="#2828ff" opacity="0.85"/>
<rect x="419.66" y="42.5" width="1.1" height="49.7" fill="#7070ff" opacity="0.55"/>
<rect x="419.66" y="42.5" width="1.1" height="5" fill="#2828ff" opacity="0.2"/>
<rect x="419.66" y="87.2" width="1.1" height="5" fill="#ff1818" opacity="0.2"/>
<rect x="419.66" y="58.13" width="1.1" height="1.61" fill="#ff1818" opacity="0.3"/>
<rect x="419.66" y="60.1" width="1.1" height="1.68" fill="#10c040" opacity="0.3"/>
<rect x="419.66" y="41.7" width="1.1" height="3.0" fill="#2828ff" opacity="0.85"/>
<rect x="419.66" y="90.0" width="1.1" height="3.0" fill="#ff1818" opacity="0.85"/>
<rect x="422.28" y="42.5" width="1.1" height="49.7" fill="#ff6070" opacity="0.55"/>
<rect x="422.28" y="42.5" width="1.1" height="5" fill="#ff1818" opacity="0.2"/>
<rect x="422.28" y="87.2" width="1.1" height="5" fill="#10c040" opacity="0.2"/>
<rect x="422.28" y="80.28" width="1.1" height="2.47" fill="#2828ff" opacity="0.3"/>
<rect x="422.28" y="55.03" width="1.1" height="2.82" fill="#2828ff" opacity="0.3"/>
<rect x="422.28" y="41.7" width="1.1" height="3.0" fill="#ff1818" opacity="0.85"/>
<rect x="422.28" y="90.0" width="1.1" height="3.0" fill="#10c040" opacity="0.85"/>
<rect x="424.9" y="42.5" width="1.1" height="49.7" fill="#50e080" opacity="0.55"/>
<rect x="424.9" y="42.5" width="1.1" height="5" fill="#10c040" opacity="0.2"/>
<rect x="424.9" y="87.2" width="1.1" height="5" fill="#2828ff" opacity="0.2"/>
<rect x="424.9" y="57.46" width="1.1" height="2.93" fill="#2828ff" opacity="0.3"/>
<rect x="424.9" y="78.55" width="1.1" height="1.74" fill="#ff1818" opacity="0.3"/>
<rect x="424.9" y="41.7" width="1.1" height="3.0" fill="#10c040" opacity="0.85"/>
<rect x="424.9" y="90.0" width="1.1" height="3.0" fill="#2828ff" opacity="0.85"/>
<rect x="427.52" y="42.5" width="1.1" height="49.7" fill="#7070ff" opacity="0.55"/>
<rect x="427.52" y="42.5" width="1.1" height="5" fill="#2828ff" opacity="0.2"/>
<rect x="427.52" y="87.2" width="1.1" height="5" fill="#ff1818" opacity="0.2"/>
<rect x="427.52" y="76.89" width="1.1" height="1.74" fill="#2828ff" opacity="0.3"/>
<rect x="427.52" y="82.01" width="1.1" height="2.11" fill="#2828ff" opacity="0.3"/>
<rect x="427.52" y="41.7" width="1.1" height="3.0" fill="#2828ff" opacity="0.85"/>
<rect x="427.52" y="90.0" width="1.1" height="3.0" fill="#ff1818" opacity="0.85"/>
<rect x="430.14" y="42.5" width="1.1" height="49.7" fill="#ff6070" opacity="0.55"/>
<rect x="430.14" y="42.5" width="1.1" height="5" fill="#ff1818" opacity="0.2"/>
<rect x="430.14" y="87.2" width="1.1" height="5" fill="#10c040" opacity="0.2"/>
<rect x="430.14" y="56.71" width="1.1" height="1.98" fill="#ff1818" opacity="0.3"/>
<rect x="430.14" y="62.1" width="1.1" height="2.01" fill="#2828ff" opacity="0.3"/>
<rect x="430.14" y="41.7" width="1.1" height="3.0" fill="#ff1818" opacity="0.85"/>
<rect x="430.14" y="90.0" width="1.1" height="3.0" fill="#10c040" opacity="0.85"/>
<rect x="432.76" y="42.5" width="1.1" height="49.7" fill="#50e080" opacity="0.55"/>
<rect x="432.76" y="42.5" width="1.1" height="5" fill="#10c040" opacity="0.2"/>
<rect x="432.76" y="87.2" width="1.1" height="5" fill="#2828ff" opacity="0.2"/>
<rect x="432.76" y="64.46" width="1.1" height="1.53" fill="#2828ff" opacity="0.3"/>
<rect x="432.76" y="66.9" width="1.1" height="1.94" fill="#10c040" opacity="0.3"/>
<rect x="432.76" y="41.7" width="1.1" height="3.0" fill="#10c040" opacity="0.85"/>
<rect x="432.76" y="90.0" width="1.1" height="3.0" fill="#2828ff" opacity="0.85"/>
<rect x="435.38" y="42.5" width="1.1" height="49.7" fill="#7070ff" opacity="0.55"/>
<rect x="435.38" y="42.5" width="1.1" height="5" fill="#2828ff" opacity="0.2"/>
<rect x="435.38" y="87.2" width="1.1" height="5" fill="#ff1818" opacity="0.2"/>
<rect x="435.38" y="54.08" width="1.1" height="2.88" fill="#10c040" opacity="0.3"/>
<rect x="435.38" y="81.3" width="1.1" height="1.66" fill="#2828ff" opacity="0.3"/>
<rect x="435.38" y="41.7" width="1.1" height="3.0" fill="#2828ff" opacity="0.85"/>
<rect x="435.38" y="90.0" width="1.1" height="3.0" fill="#ff1818" opacity="0.85"/>
<rect x="438" y="42.5" width="1.1" height="49.7" fill="#ff6070" opacity="0.55"/>
<rect x="438" y="42.5" width="1.1" height="5" fill="#ff1818" opacity="0.2"/>
<rect x="438" y="87.2" width="1.1" height="5" fill="#10c040" opacity="0.2"/>
<rect x="438" y="59.12" width="1.1" height="2.86" fill="#10c040" opacity="0.3"/>
<rect x="438" y="59.07" width="1.1" height="1.69" fill="#2828ff" opacity="0.3"/>
<rect x="438" y="41.7" width="1.1" height="3.0" fill="#ff1818" opacity="0.85"/>
<rect x="438" y="90.0" width="1.1" height="3.0" fill="#10c040" opacity="0.85"/>
<rect x="440.62" y="42.5" width="1.1" height="49.7" fill="#50e080" opacity="0.55"/>
<rect x="440.62" y="42.5" width="1.1" height="5" fill="#10c040" opacity="0.2"/>
<rect x="440.62" y="87.2" width="1.1" height="5" fill="#2828ff" opacity="0.2"/>
<rect x="440.62" y="77.43" width="1.1" height="2.51" fill="#2828ff" opacity="0.3"/>
<rect x="440.62" y="63.37" width="1.1" height="2.3" fill="#ff1818" opacity="0.3"/>
<rect x="440.62" y="41.7" width="1.1" height="3.0" fill="#10c040" opacity="0.85"/>
<rect x="440.62" y="90.0" width="1.1" height="3.0" fill="#2828ff" opacity="0.85"/>
<rect x="443.24" y="42.5" width="1.1" height="49.7" fill="#7070ff" opacity="0.55"/>
<rect x="443.24" y="42.5" width="1.1" height="5" fill="#2828ff" opacity="0.2"/>
<rect x="443.24" y="87.2" width="1.1" height="5" fill="#ff1818" opacity="0.2"/>
<rect x="443.24" y="68.59" width="1.1" height="2.55" fill="#10c040" opacity="0.3"/>
<rect x="443.24" y="59.35" width="1.1" height="2.7" fill="#10c040" opacity="0.3"/>
<rect x="443.24" y="41.7" width="1.1" height="3.0" fill="#2828ff" opacity="0.85"/>
<rect x="443.24" y="90.0" width="1.1" height="3.0" fill="#ff1818" opacity="0.85"/>
<rect x="445.86" y="42.5" width="1.1" height="49.7" fill="#ff6070" opacity="0.55"/>
<rect x="445.86" y="42.5" width="1.1" height="5" fill="#ff1818" opacity="0.2"/>
<rect x="445.86" y="87.2" width="1.1" height="5" fill="#10c040" opacity="0.2"/>
<rect x="445.86" y="63.98" width="1.1" height="1.61" fill="#10c040" opacity="0.3"/>
<rect x="445.86" y="70.61" width="1.1" height="2.7" fill="#10c040" opacity="0.3"/>
<rect x="445.86" y="41.7" width="1.1" height="3.0" fill="#ff1818" opacity="0.85"/>
<rect x="445.86" y="90.0" width="1.1" height="3.0" fill="#10c040" opacity="0.85"/>
<rect x="448.48" y="42.5" width="1.1" height="49.7" fill="#50e080" opacity="0.55"/>
<rect x="448.48" y="42.5" width="1.1" height="5" fill="#10c040" opacity="0.2"/>
<rect x="448.48" y="87.2" width="1.1" height="5" fill="#2828ff" opacity="0.2"/>
<rect x="448.48" y="69.78" width="1.1" height="1.83" fill="#2828ff" opacity="0.3"/>
<rect x="448.48" y="77.85" width="1.1" height="2.18" fill="#2828ff" opacity="0.3"/>
<rect x="448.48" y="41.7" width="1.1" height="3.0" fill="#10c040" opacity="0.85"/>
<rect x="448.48" y="90.0" width="1.1" height="3.0" fill="#2828ff" opacity="0.85"/>
<rect x="451.1" y="42.5" width="1.1" height="49.7" fill="#7070ff" opacity="0.55"/>
<rect x="451.1" y="42.5" width="1.1" height="5" fill="#2828ff" opacity="0.2"/>
<rect x="451.1" y="87.2" width="1.1" height="5" fill="#ff1818" opacity="0.2"/>
<rect x="451.1" y="82.02" width="1.1" height="2.13" fill="#2828ff" opacity="0.3"/>
<rect x="451.1" y="70.21" width="1.1" height="1.56" fill="#ff1818" opacity="0.3"/>
<rect x="451.1" y="41.7" width="1.1" height="3.0" fill="#2828ff" opacity="0.85"/>
<rect x="451.1" y="90.0" width="1.1" height="3.0" fill="#ff1818" opacity="0.85"/>
<rect x="453.72" y="42.5" width="1.1" height="49.7" fill="#ff6070" opacity="0.55"/>
<rect x="453.72" y="42.5" width="1.1" height="5" fill="#ff1818" opacity="0.2"/>
<rect x="453.72" y="87.2" width="1.1" height="5" fill="#10c040" opacity="0.2"/>
<rect x="453.72" y="58.06" width="1.1" height="1.66" fill="#10c040" opacity="0.3"/>
<rect x="453.72" y="58.8" width="1.1" height="1.77" fill="#2828ff" opacity="0.3"/>
<rect x="453.72" y="41.7" width="1.1" height="3.0" fill="#ff1818" opacity="0.85"/>
<rect x="453.72" y="90.0" width="1.1" height="3.0" fill="#10c040" opacity="0.85"/>
<rect x="456.34" y="42.5" width="1.1" height="49.7" fill="#50e080" opacity="0.55"/>
<rect x="456.34" y="42.5" width="1.1" height="5" fill="#10c040" opacity="0.2"/>
<rect x="456.34" y="87.2" width="1.1" height="5" fill="#2828ff" opacity="0.2"/>
<rect x="456.34" y="70.43" width="1.1" height="2.3" fill="#10c040" opacity="0.3"/>
<rect x="456.34" y="59.69" width="1.1" height="2.25" fill="#10c040" opacity="0.3"/>
<rect x="456.34" y="41.7" width="1.1" height="3.0" fill="#10c040" opacity="0.85"/>
<rect x="456.34" y="90.0" width="1.1" height="3.0" fill="#2828ff" opacity="0.85"/>
<rect x="458.96" y="42.5" width="1.1" height="49.7" fill="#7070ff" opacity="0.55"/>
<rect x="458.96" y="42.5" width="1.1" height="5" fill="#2828ff" opacity="0.2"/>
<rect x="458.96" y="87.2" width="1.1" height="5" fill="#ff1818" opacity="0.2"/>
<rect x="458.96" y="59.08" width="1.1" height="2.71" fill="#2828ff" opacity="0.3"/>
<rect x="458.96" y="51.67" width="1.1" height="1.53" fill="#ff1818" opacity="0.3"/>
<rect x="458.96" y="41.7" width="1.1" height="3.0" fill="#2828ff" opacity="0.85"/>
<rect x="458.96" y="90.0" width="1.1" height="3.0" fill="#ff1818" opacity="0.85"/>
<rect x="461.58" y="42.5" width="1.1" height="49.7" fill="#ff6070" opacity="0.55"/>
<rect x="461.58" y="42.5" width="1.1" height="5" fill="#ff1818" opacity="0.2"/>
<rect x="461.58" y="87.2" width="1.1" height="5" fill="#10c040" opacity="0.2"/>
<rect x="461.58" y="67.97" width="1.1" height="1.78" fill="#2828ff" opacity="0.3"/>
<rect x="461.58" y="58.29" width="1.1" height="2.17" fill="#ff1818" opacity="0.3"/>
<rect x="461.58" y="41.7" width="1.1" height="3.0" fill="#ff1818" opacity="0.85"/>
<rect x="461.58" y="90.0" width="1.1" height="3.0" fill="#10c040" opacity="0.85"/>
<rect x="464.2" y="42.5" width="1.1" height="49.7" fill="#50e080" opacity="0.55"/>
<rect x="464.2" y="42.5" width="1.1" height="5" fill="#10c040" opacity="0.2"/>
<rect x="464.2" y="87.2" width="1.1" height="5" fill="#2828ff" opacity="0.2"/>
<rect x="464.2" y="76.46" width="1.1" height="2.15" fill="#2828ff" opacity="0.3"/>
<rect x="464.2" y="67.81" width="1.1" height="2.83" fill="#ff1818" opacity="0.3"/>
<rect x="464.2" y="41.7" width="1.1" height="3.0" fill="#10c040" opacity="0.85"/>
<rect x="464.2" y="90.0" width="1.1" height="3.0" fill="#2828ff" opacity="0.85"/>
<rect x="466.82" y="42.5" width="1.1" height="49.7" fill="#7070ff" opacity="0.55"/>
<rect x="466.82" y="42.5" width="1.1" height="5" fill="#2828ff" opacity="0.2"/>
<rect x="466.82" y="87.2" width="1.1" height="5" fill="#ff1818" opacity="0.2"/>
<rect x="466.82" y="60.26" width="1.1" height="1.82" fill="#10c040" opacity="0.3"/>
<rect x="466.82" y="61.36" width="1.1" height="2.75" fill="#ff1818" opacity="0.3"/>
<rect x="466.82" y="41.7" width="1.1" height="3.0" fill="#2828ff" opacity="0.85"/>
<rect x="466.82" y="90.0" width="1.1" height="3.0" fill="#ff1818" opacity="0.85"/>
<rect x="469.44" y="42.5" width="1.1" height="49.7" fill="#ff6070" opacity="0.55"/>
<rect x="469.44" y="42.5" width="1.1" height="5" fill="#ff1818" opacity="0.2"/>
<rect x="469.44" y="87.2" width="1.1" height="5" fill="#10c040" opacity="0.2"/>
<rect x="469.44" y="73.6" width="1.1" height="1.71" fill="#2828ff" opacity="0.3"/>
<rect x="469.44" y="81.63" width="1.1" height="2.76" fill="#10c040" opacity="0.3"/>
<rect x="469.44" y="41.7" width="1.1" height="3.0" fill="#ff1818" opacity="0.85"/>
<rect x="469.44" y="90.0" width="1.1" height="3.0" fill="#10c040" opacity="0.85"/>
<rect x="472.06" y="42.5" width="1.1" height="49.7" fill="#50e080" opacity="0.55"/>
<rect x="472.06" y="42.5" width="1.1" height="5" fill="#10c040" opacity="0.2"/>
<rect x="472.06" y="87.2" width="1.1" height="5" fill="#2828ff" opacity="0.2"/>
<rect x="472.06" y="52.74" width="1.1" height="2.61" fill="#2828ff" opacity="0.3"/>
<rect x="472.06" y="64.15" width="1.1" height="1.58" fill="#ff1818" opacity="0.3"/>
<rect x="472.06" y="41.7" width="1.1" height="3.0" fill="#10c040" opacity="0.85"/>
<rect x="472.06" y="90.0" width="1.1" height="3.0" fill="#2828ff" opacity="0.85"/>
<rect x="474.68" y="42.5" width="1.1" height="49.7" fill="#7070ff" opacity="0.55"/>
<rect x="474.68" y="42.5" width="1.1" height="5" fill="#2828ff" opacity="0.2"/>
<rect x="474.68" y="87.2" width="1.1" height="5" fill="#ff1818" opacity="0.2"/>
<rect x="474.68" y="77.17" width="1.1" height="2.81" fill="#ff1818" opacity="0.3"/>
<rect x="474.68" y="81.28" width="1.1" height="2.4" fill="#ff1818" opacity="0.3"/>
<rect x="474.68" y="41.7" width="1.1" height="3.0" fill="#2828ff" opacity="0.85"/>
<rect x="474.68" y="90.0" width="1.1" height="3.0" fill="#ff1818" opacity="0.85"/>
<rect x="477.3" y="42.5" width="1.1" height="49.7" fill="#ff6070" opacity="0.55"/>
<rect x="477.3" y="42.5" width="1.1" height="5" fill="#ff1818" opacity="0.2"/>
<rect x="477.3" y="87.2" width="1.1" height="5" fill="#10c040" opacity="0.2"/>
<rect x="477.3" y="59.79" width="1.1" height="2.19" fill="#10c040" opacity="0.3"/>
<rect x="477.3" y="59.03" width="1.1" height="1.51" fill="#2828ff" opacity="0.3"/>
<rect x="477.3" y="41.7" width="1.1" height="3.0" fill="#ff1818" opacity="0.85"/>
<rect x="477.3" y="90.0" width="1.1" height="3.0" fill="#10c040" opacity="0.85"/>
<rect x="479.92" y="42.5" width="1.1" height="49.7" fill="#50e080" opacity="0.55"/>
<rect x="479.92" y="42.5" width="1.1" height="5" fill="#10c040" opacity="0.2"/>
<rect x="479.92" y="87.2" width="1.1" height="5" fill="#2828ff" opacity="0.2"/>
<rect x="479.92" y="80.99" width="1.1" height="2.96" fill="#ff1818" opacity="0.3"/>
<rect x="479.92" y="60.76" width="1.1" height="1.55" fill="#2828ff" opacity="0.3"/>
<rect x="479.92" y="41.7" width="1.1" height="3.0" fill="#10c040" opacity="0.85"/>
<rect x="479.92" y="90.0" width="1.1" height="3.0" fill="#2828ff" opacity="0.85"/>
<rect x="482.54" y="42.5" width="1.1" height="49.7" fill="#7070ff" opacity="0.55"/>
<rect x="482.54" y="42.5" width="1.1" height="5" fill="#2828ff" opacity="0.2"/>
<rect x="482.54" y="87.2" width="1.1" height="5" fill="#ff1818" opacity="0.2"/>
<rect x="482.54" y="57.41" width="1.1" height="1.77" fill="#2828ff" opacity="0.3"/>
<rect x="482.54" y="62.6" width="1.1" height="2.21" fill="#ff1818" opacity="0.3"/>
<rect x="482.54" y="41.7" width="1.1" height="3.0" fill="#2828ff" opacity="0.85"/>
<rect x="482.54" y="90.0" width="1.1" height="3.0" fill="#ff1818" opacity="0.85"/>
<rect x="485.16" y="42.5" width="1.1" height="49.7" fill="#ff6070" opacity="0.55"/>
<rect x="485.16" y="42.5" width="1.1" height="5" fill="#ff1818" opacity="0.2"/>
<rect x="485.16" y="87.2" width="1.1" height="5" fill="#10c040" opacity="0.2"/>
<rect x="485.16" y="71.3" width="1.1" height="1.87" fill="#10c040" opacity="0.3"/>
<rect x="485.16" y="53.38" width="1.1" height="2.73" fill="#10c040" opacity="0.3"/>
<rect x="485.16" y="41.7" width="1.1" height="3.0" fill="#ff1818" opacity="0.85"/>
<rect x="485.16" y="90.0" width="1.1" height="3.0" fill="#10c040" opacity="0.85"/>
<rect x="487.78" y="42.5" width="1.1" height="49.7" fill="#50e080" opacity="0.55"/>
<rect x="487.78" y="42.5" width="1.1" height="5" fill="#10c040" opacity="0.2"/>
<rect x="487.78" y="87.2" width="1.1" height="5" fill="#2828ff" opacity="0.2"/>
<rect x="487.78" y="63.16" width="1.1" height="1.56" fill="#10c040" opacity="0.3"/>
<rect x="487.78" y="60" width="1.1" height="2.44" fill="#10c040" opacity="0.3"/>
<rect x="487.78" y="41.7" width="1.1" height="3.0" fill="#10c040" opacity="0.85"/>
<rect x="487.78" y="90.0" width="1.1" height="3.0" fill="#2828ff" opacity="0.85"/>
<rect x="490.4" y="42.5" width="1.1" height="49.7" fill="#7070ff" opacity="0.55"/>
<rect x="490.4" y="42.5" width="1.1" height="5" fill="#2828ff" opacity="0.2"/>
<rect x="490.4" y="87.2" width="1.1" height="5" fill="#ff1818" opacity="0.2"/>
<rect x="490.4" y="69.06" width="1.1" height="2.29" fill="#10c040" opacity="0.3"/>
<rect x="490.4" y="71.34" width="1.1" height="2.57" fill="#ff1818" opacity="0.3"/>
<rect x="490.4" y="41.7" width="1.1" height="3.0" fill="#2828ff" opacity="0.85"/>
<rect x="490.4" y="90.0" width="1.1" height="3.0" fill="#ff1818" opacity="0.85"/>
<rect x="493.02" y="42.5" width="1.1" height="49.7" fill="#ff6070" opacity="0.55"/>
<rect x="493.02" y="42.5" width="1.1" height="5" fill="#ff1818" opacity="0.2"/>
<rect x="493.02" y="87.2" width="1.1" height="5" fill="#10c040" opacity="0.2"/>
<rect x="493.02" y="62.85" width="1.1" height="1.99" fill="#2828ff" opacity="0.3"/>
<rect x="493.02" y="55.24" width="1.1" height="2.59" fill="#ff1818" opacity="0.3"/>
<rect x="493.02" y="41.7" width="1.1" height="3.0" fill="#ff1818" opacity="0.85"/>
<rect x="493.02" y="90.0" width="1.1" height="3.0" fill="#10c040" opacity="0.85"/>
<rect x="495.64" y="42.5" width="1.1" height="49.7" fill="#50e080" opacity="0.55"/>
<rect x="495.64" y="42.5" width="1.1" height="5" fill="#10c040" opacity="0.2"/>
<rect x="495.64" y="87.2" width="1.1" height="5" fill="#2828ff" opacity="0.2"/>
<rect x="495.64" y="55.09" width="1.1" height="2.74" fill="#ff1818" opacity="0.3"/>
<rect x="495.64" y="78.77" width="1.1" height="2.44" fill="#ff1818" opacity="0.3"/>
<rect x="495.64" y="41.7" width="1.1" height="3.0" fill="#10c040" opacity="0.85"/>
<rect x="495.64" y="90.0" width="1.1" height="3.0" fill="#2828ff" opacity="0.85"/>
<rect x="498.26" y="42.5" width="1.1" height="49.7" fill="#7070ff" opacity="0.55"/>
<rect x="498.26" y="42.5" width="1.1" height="5" fill="#2828ff" opacity="0.2"/>
<rect x="498.26" y="87.2" width="1.1" height="5" fill="#ff1818" opacity="0.2"/>
<rect x="498.26" y="72.72" width="1.1" height="2.26" fill="#ff1818" opacity="0.3"/>
<rect x="498.26" y="74.37" width="1.1" height="2.35" fill="#10c040" opacity="0.3"/>
<rect x="498.26" y="41.7" width="1.1" height="3.0" fill="#2828ff" opacity="0.85"/>
<rect x="498.26" y="90.0" width="1.1" height="3.0" fill="#ff1818" opacity="0.85"/>
<rect x="500.88" y="42.5" width="1.1" height="49.7" fill="#ff6070" opacity="0.55"/>
<rect x="500.88" y="42.5" width="1.1" height="5" fill="#ff1818" opacity="0.2"/>
<rect x="500.88" y="87.2" width="1.1" height="5" fill="#10c040" opacity="0.2"/>
<rect x="500.88" y="76.7" width="1.1" height="2.38" fill="#ff1818" opacity="0.3"/>
<rect x="500.88" y="72.15" width="1.1" height="2.54" fill="#10c040" opacity="0.3"/>
<rect x="500.88" y="41.7" width="1.1" height="3.0" fill="#ff1818" opacity="0.85"/>
<rect x="500.88" y="90.0" width="1.1" height="3.0" fill="#10c040" opacity="0.85"/>
<rect x="503.5" y="42.5" width="1.1" height="49.7" fill="#50e080" opacity="0.55"/>
<rect x="503.5" y="42.5" width="1.1" height="5" fill="#10c040" opacity="0.2"/>
<rect x="503.5" y="87.2" width="1.1" height="5" fill="#2828ff" opacity="0.2"/>
<rect x="503.5" y="53.2" width="1.1" height="1.56" fill="#ff1818" opacity="0.3"/>
<rect x="503.5" y="61.93" width="1.1" height="1.66" fill="#2828ff" opacity="0.3"/>
<rect x="503.5" y="41.7" width="1.1" height="3.0" fill="#10c040" opacity="0.85"/>
<rect x="503.5" y="90.0" width="1.1" height="3.0" fill="#2828ff" opacity="0.85"/>
<rect x="506.12" y="42.5" width="1.1" height="49.7" fill="#7070ff" opacity="0.55"/>
<rect x="506.12" y="42.5" width="1.1" height="5" fill="#2828ff" opacity="0.2"/>
<rect x="506.12" y="87.2" width="1.1" height="5" fill="#ff1818" opacity="0.2"/>
<rect x="506.12" y="68.21" width="1.1" height="2.44" fill="#ff1818" opacity="0.3"/>
<rect x="506.12" y="67.35" width="1.1" height="1.87" fill="#2828ff" opacity="0.3"/>
<rect x="506.12" y="41.7" width="1.1" height="3.0" fill="#2828ff" opacity="0.85"/>
<rect x="506.12" y="90.0" width="1.1" height="3.0" fill="#ff1818" opacity="0.85"/>
<rect x="508.74" y="42.5" width="1.1" height="49.7" fill="#ff6070" opacity="0.55"/>
<rect x="508.74" y="42.5" width="1.1" height="5" fill="#ff1818" opacity="0.2"/>
<rect x="508.74" y="87.2" width="1.1" height="5" fill="#10c040" opacity="0.2"/>
<rect x="508.74" y="50.61" width="1.1" height="2.7" fill="#ff1818" opacity="0.3"/>
<rect x="508.74" y="80.06" width="1.1" height="2.85" fill="#10c040" opacity="0.3"/>
<rect x="508.74" y="41.7" width="1.1" height="3.0" fill="#ff1818" opacity="0.85"/>
<rect x="508.74" y="90.0" width="1.1" height="3.0" fill="#10c040" opacity="0.85"/>
<rect x="511.36" y="42.5" width="1.1" height="49.7" fill="#50e080" opacity="0.55"/>
<rect x="511.36" y="42.5" width="1.1" height="5" fill="#10c040" opacity="0.2"/>
<rect x="511.36" y="87.2" width="1.1" height="5" fill="#2828ff" opacity="0.2"/>
<rect x="511.36" y="71.4" width="1.1" height="1.6" fill="#ff1818" opacity="0.3"/>
<rect x="511.36" y="65.52" width="1.1" height="2.71" fill="#2828ff" opacity="0.3"/>
<rect x="511.36" y="41.7" width="1.1" height="3.0" fill="#10c040" opacity="0.85"/>
<rect x="511.36" y="90.0" width="1.1" height="3.0" fill="#2828ff" opacity="0.85"/>
<rect x="513.98" y="42.5" width="1.1" height="49.7" fill="#7070ff" opacity="0.55"/>
<rect x="513.98" y="42.5" width="1.1" height="5" fill="#2828ff" opacity="0.2"/>
<rect x="513.98" y="87.2" width="1.1" height="5" fill="#ff1818" opacity="0.2"/>
<rect x="513.98" y="57.94" width="1.1" height="2.63" fill="#10c040" opacity="0.3"/>
<rect x="513.98" y="73.95" width="1.1" height="2.96" fill="#2828ff" opacity="0.3"/>
<rect x="513.98" y="41.7" width="1.1" height="3.0" fill="#2828ff" opacity="0.85"/>
<rect x="513.98" y="90.0" width="1.1" height="3.0" fill="#ff1818" opacity="0.85"/>
<rect x="516.6" y="42.5" width="1.1" height="49.7" fill="#ff6070" opacity="0.55"/>
<rect x="516.6" y="42.5" width="1.1" height="5" fill="#ff1818" opacity="0.2"/>
<rect x="516.6" y="87.2" width="1.1" height="5" fill="#10c040" opacity="0.2"/>
<rect x="516.6" y="77.3" width="1.1" height="1.62" fill="#ff1818" opacity="0.3"/>
<rect x="516.6" y="59.61" width="1.1" height="1.57" fill="#ff1818" opacity="0.3"/>
<rect x="516.6" y="41.7" width="1.1" height="3.0" fill="#ff1818" opacity="0.85"/>
<rect x="516.6" y="90.0" width="1.1" height="3.0" fill="#10c040" opacity="0.85"/>
<rect x="519.22" y="42.5" width="1.1" height="49.7" fill="#50e080" opacity="0.55"/>
<rect x="519.22" y="42.5" width="1.1" height="5" fill="#10c040" opacity="0.2"/>
<rect x="519.22" y="87.2" width="1.1" height="5" fill="#2828ff" opacity="0.2"/>
<rect x="519.22" y="70.88" width="1.1" height="1.62" fill="#10c040" opacity="0.3"/>
<rect x="519.22" y="61.02" width="1.1" height="2.48" fill="#ff1818" opacity="0.3"/>
<rect x="519.22" y="41.7" width="1.1" height="3.0" fill="#10c040" opacity="0.85"/>
<rect x="519.22" y="90.0" width="1.1" height="3.0" fill="#2828ff" opacity="0.85"/>
<rect x="521.84" y="42.5" width="1.1" height="49.7" fill="#7070ff" opacity="0.55"/>
<rect x="521.84" y="42.5" width="1.1" height="5" fill="#2828ff" opacity="0.2"/>
<rect x="521.84" y="87.2" width="1.1" height="5" fill="#ff1818" opacity="0.2"/>
<rect x="521.84" y="60.15" width="1.1" height="2.35" fill="#10c040" opacity="0.3"/>
<rect x="521.84" y="65.79" width="1.1" height="2.23" fill="#ff1818" opacity="0.3"/>
<rect x="521.84" y="41.7" width="1.1" height="3.0" fill="#2828ff" opacity="0.85"/>
<rect x="521.84" y="90.0" width="1.1" height="3.0" fill="#ff1818" opacity="0.85"/>
<rect x="524.46" y="42.5" width="1.1" height="49.7" fill="#ff6070" opacity="0.55"/>
<rect x="524.46" y="42.5" width="1.1" height="5" fill="#ff1818" opacity="0.2"/>
<rect x="524.46" y="87.2" width="1.1" height="5" fill="#10c040" opacity="0.2"/>
<rect x="524.46" y="53.65" width="1.1" height="1.83" fill="#2828ff" opacity="0.3"/>
<rect x="524.46" y="59.72" width="1.1" height="2.27" fill="#2828ff" opacity="0.3"/>
<rect x="524.46" y="41.7" width="1.1" height="3.0" fill="#ff1818" opacity="0.85"/>
<rect x="524.46" y="90.0" width="1.1" height="3.0" fill="#10c040" opacity="0.85"/>
<rect x="527.08" y="42.5" width="1.1" height="49.7" fill="#50e080" opacity="0.55"/>
<rect x="527.08" y="42.5" width="1.1" height="5" fill="#10c040" opacity="0.2"/>
<rect x="527.08" y="87.2" width="1.1" height="5" fill="#2828ff" opacity="0.2"/>
<rect x="527.08" y="65.27" width="1.1" height="2.65" fill="#ff1818" opacity="0.3"/>
<rect x="527.08" y="56.82" width="1.1" height="2.97" fill="#2828ff" opacity="0.3"/>
<rect x="527.08" y="41.7" width="1.1" height="3.0" fill="#10c040" opacity="0.85"/>
<rect x="527.08" y="90.0" width="1.1" height="3.0" fill="#2828ff" opacity="0.85"/>
<rect x="529.7" y="42.5" width="1.1" height="49.7" fill="#7070ff" opacity="0.55"/>
<rect x="529.7" y="42.5" width="1.1" height="5" fill="#2828ff" opacity="0.2"/>
<rect x="529.7" y="87.2" width="1.1" height="5" fill="#ff1818" opacity="0.2"/>
<rect x="529.7" y="51.05" width="1.1" height="2.19" fill="#ff1818" opacity="0.3"/>
<rect x="529.7" y="81.19" width="1.1" height="2.17" fill="#2828ff" opacity="0.3"/>
<rect x="529.7" y="41.7" width="1.1" height="3.0" fill="#2828ff" opacity="0.85"/>
<rect x="529.7" y="90.0" width="1.1" height="3.0" fill="#ff1818" opacity="0.85"/>
<rect x="532.32" y="42.5" width="1.1" height="49.7" fill="#ff6070" opacity="0.55"/>
<rect x="532.32" y="42.5" width="1.1" height="5" fill="#ff1818" opacity="0.2"/>
<rect x="532.32" y="87.2" width="1.1" height="5" fill="#10c040" opacity="0.2"/>
<rect x="532.32" y="62.76" width="1.1" height="2.87" fill="#10c040" opacity="0.3"/>
<rect x="532.32" y="52.87" width="1.1" height="1.64" fill="#ff1818" opacity="0.3"/>
<rect x="532.32" y="41.7" width="1.1" height="3.0" fill="#ff1818" opacity="0.85"/>
<rect x="532.32" y="90.0" width="1.1" height="3.0" fill="#10c040" opacity="0.85"/>
<rect x="534.94" y="42.5" width="1.1" height="49.7" fill="#50e080" opacity="0.55"/>
<rect x="534.94" y="42.5" width="1.1" height="5" fill="#10c040" opacity="0.2"/>
<rect x="534.94" y="87.2" width="1.1" height="5" fill="#2828ff" opacity="0.2"/>
<rect x="534.94" y="67.11" width="1.1" height="2.93" fill="#10c040" opacity="0.3"/>
<rect x="534.94" y="69.63" width="1.1" height="2.45" fill="#2828ff" opacity="0.3"/>
<rect x="534.94" y="41.7" width="1.1" height="3.0" fill="#10c040" opacity="0.85"/>
<rect x="534.94" y="90.0" width="1.1" height="3.0" fill="#2828ff" opacity="0.85"/>
<rect x="537.56" y="42.5" width="1.1" height="49.7" fill="#7070ff" opacity="0.55"/>
<rect x="537.56" y="42.5" width="1.1" height="5" fill="#2828ff" opacity="0.2"/>
<rect x="537.56" y="87.2" width="1.1" height="5" fill="#ff1818" opacity="0.2"/>
<rect x="537.56" y="78.61" width="1.1" height="2.56" fill="#10c040" opacity="0.3"/>
<rect x="537.56" y="66.28" width="1.1" height="2.81" fill="#2828ff" opacity="0.3"/>
<rect x="537.56" y="41.7" width="1.1" height="3.0" fill="#2828ff" opacity="0.85"/>
<rect x="537.56" y="90.0" width="1.1" height="3.0" fill="#ff1818" opacity="0.85"/>
<rect x="540.18" y="42.5" width="1.02" height="49.7" fill="#ff6070" opacity="0.55"/>
<rect x="540.18" y="42.5" width="1.02" height="5" fill="#ff1818" opacity="0.2"/>
<rect x="540.18" y="87.2" width="1.02" height="5" fill="#10c040" opacity="0.2"/>
<rect x="540.18" y="51.29" width="1.02" height="1.51" fill="#2828ff" opacity="0.3"/>
<rect x="540.18" y="72.11" width="1.02" height="2.11" fill="#ff1818" opacity="0.3"/>
<rect x="540.18" y="41.7" width="1.02" height="3.0" fill="#ff1818" opacity="0.85"/>
<rect x="540.18" y="90.0" width="1.02" height="3.0" fill="#10c040" opacity="0.85"/>
<line x1="306.2" y1="42.5" x2="541.8" y2="42.5" stroke="#111" stroke-width="0.8" stroke-dasharray="1.1 1.3"/>
<line x1="306.2" y1="92.2" x2="541.8" y2="92.2" stroke="#111" stroke-width="0.8" stroke-dasharray="1.1 1.3"/>
<rect x="141.6" y="236.5" width="297.2" height="26.5" fill="#ff6262"/>
<rect x="142.3" y="236.5" width="0.68" height="26.5" fill="#ff9c9c" opacity="0.65"/>
<rect x="143.95" y="236.5" width="1.59" height="26.5" fill="#ff0c0c" opacity="0.8"/>
<rect x="147.3" y="236.5" width="1.59" height="26.5" fill="#ff0c0c" opacity="0.8"/>
<rect x="150.95" y="236.5" width="1.43" height="26.5" fill="#ffd8d8" opacity="0.65"/>
<rect x="153.3" y="236.5" width="0.98" height="26.5" fill="#ff9c9c" opacity="0.65"/>
<rect x="156.48" y="236.5" width="1.27" height="26.5" fill="#ff9c9c" opacity="0.65"/>
<rect x="158.92" y="236.5" width="0.86" height="26.5" fill="#ff0c0c" opacity="0.8"/>
<rect x="160.36" y="236.5" width="1.59" height="26.5" fill="#ff9c9c" opacity="0.65"/>
<rect x="164.03" y="236.5" width="0.82" height="26.5" fill="#ff9c9c" opacity="0.65"/>
<rect x="166.17" y="236.5" width="0.75" height="26.5" fill="#ff9c9c" opacity="0.65"/>
<rect x="169.04" y="236.5" width="1.65" height="26.5" fill="#ffd8d8" opacity="0.65"/>
<rect x="172.23" y="236.5" width="1.69" height="26.5" fill="#ffd8d8" opacity="0.65"/>
<rect x="175.3" y="236.5" width="1.44" height="26.5" fill="#ff0c0c" opacity="0.8"/>
<rect x="178.46" y="236.5" width="1.09" height="26.5" fill="#ff9c9c" opacity="0.65"/>
<rect x="181.1" y="236.5" width="0.87" height="26.5" fill="#ff0c0c" opacity="0.8"/>
<rect x="184.04" y="236.5" width="0.67" height="26.5" fill="#ff9c9c" opacity="0.65"/>
<rect x="185.73" y="236.5" width="0.89" height="26.5" fill="#ff9c9c" opacity="0.65"/>
<rect x="188.77" y="236.5" width="0.84" height="26.5" fill="#ff9c9c" opacity="0.65"/>
<rect x="190.55" y="236.5" width="1.22" height="26.5" fill="#ff9c9c" opacity="0.65"/>
<rect x="192.48" y="236.5" width="0.71" height="26.5" fill="#ff0c0c" opacity="0.8"/>
<rect x="195.22" y="236.5" width="1.15" height="26.5" fill="#ff0c0c" opacity="0.8"/>
<rect x="198.4" y="236.5" width="1.8" height="26.5" fill="#ff9c9c" opacity="0.65"/>
<rect x="200.84" y="236.5" width="0.75" height="26.5" fill="#ff0c0c" opacity="0.8"/>
<rect x="202.61" y="236.5" width="0.62" height="26.5" fill="#ff0c0c" opacity="0.8"/>
<rect x="204.09" y="236.5" width="1.24" height="26.5" fill="#ffd8d8" opacity="0.65"/>
<rect x="207.08" y="236.5" width="1.04" height="26.5" fill="#ff9c9c" opacity="0.65"/>
<rect x="209.46" y="236.5" width="0.99" height="26.5" fill="#ff9c9c" opacity="0.65"/>
<rect x="210.96" y="236.5" width="0.86" height="26.5" fill="#ffd8d8" opacity="0.65"/>
<rect x="212.45" y="236.5" width="1.15" height="26.5" fill="#ff9c9c" opacity="0.65"/>
<rect x="215.56" y="236.5" width="0.78" height="26.5" fill="#ff9c9c" opacity="0.65"/>
<rect x="217.19" y="236.5" width="1.02" height="26.5" fill="#ff9c9c" opacity="0.65"/>
<rect x="220.32" y="236.5" width="1.6" height="26.5" fill="#ffd8d8" opacity="0.65"/>
<rect x="222.37" y="236.5" width="0.54" height="26.5" fill="#ff9c9c" opacity="0.65"/>
<rect x="224.92" y="236.5" width="1.12" height="26.5" fill="#ff9c9c" opacity="0.65"/>
<rect x="226.44" y="236.5" width="1.01" height="26.5" fill="#ffd8d8" opacity="0.65"/>
<rect x="229.33" y="236.5" width="1.61" height="26.5" fill="#ffd8d8" opacity="0.65"/>
<rect x="231.79" y="236.5" width="0.64" height="26.5" fill="#ff0c0c" opacity="0.8"/>
<rect x="233.77" y="236.5" width="1.39" height="26.5" fill="#ffd8d8" opacity="0.65"/>
<rect x="236.86" y="236.5" width="1.34" height="26.5" fill="#ff9c9c" opacity="0.65"/>
<rect x="239.42" y="236.5" width="1.22" height="26.5" fill="#ff0c0c" opacity="0.8"/>
<rect x="242.45" y="236.5" width="0.8" height="26.5" fill="#ffd8d8" opacity="0.65"/>
<rect x="244.81" y="236.5" width="0.89" height="26.5" fill="#ff0c0c" opacity="0.8"/>
<rect x="246.56" y="236.5" width="1.33" height="26.5" fill="#ff9c9c" opacity="0.65"/>
<rect x="248.49" y="236.5" width="0.59" height="26.5" fill="#ff9c9c" opacity="0.65"/>
<rect x="250.53" y="236.5" width="1" height="26.5" fill="#ff0c0c" opacity="0.8"/>
<rect x="253.02" y="236.5" width="0.51" height="26.5" fill="#ff9c9c" opacity="0.65"/>
<rect x="254.76" y="236.5" width="1.75" height="26.5" fill="#ff9c9c" opacity="0.65"/>
<rect x="258.5" y="236.5" width="1.12" height="26.5" fill="#ff0c0c" opacity="0.8"/>
<rect x="260.46" y="236.5" width="1.75" height="26.5" fill="#ff9c9c" opacity="0.65"/>
<rect x="263.16" y="236.5" width="0.53" height="26.5" fill="#ff9c9c" opacity="0.65"/>
<rect x="265.3" y="236.5" width="1.05" height="26.5" fill="#ff9c9c" opacity="0.65"/>
<rect x="267.95" y="236.5" width="1.7" height="26.5" fill="#ff0c0c" opacity="0.8"/>
<rect x="270.11" y="236.5" width="0.94" height="26.5" fill="#ff9c9c" opacity="0.65"/>
<rect x="272.68" y="236.5" width="0.76" height="26.5" fill="#ff9c9c" opacity="0.65"/>
<rect x="275.17" y="236.5" width="1.16" height="26.5" fill="#ff0c0c" opacity="0.8"/>
<rect x="278.47" y="236.5" width="0.91" height="26.5" fill="#ffd8d8" opacity="0.65"/>
<rect x="280.19" y="236.5" width="0.79" height="26.5" fill="#ff9c9c" opacity="0.65"/>
<rect x="281.91" y="236.5" width="1.74" height="26.5" fill="#ff9c9c" opacity="0.65"/>
<rect x="284.39" y="236.5" width="0.79" height="26.5" fill="#ff9c9c" opacity="0.65"/>
<rect x="286.77" y="236.5" width="1.73" height="26.5" fill="#ff0c0c" opacity="0.8"/>
<rect x="289.62" y="236.5" width="0.78" height="26.5" fill="#ffd8d8" opacity="0.65"/>
<rect x="291.05" y="236.5" width="0.57" height="26.5" fill="#ff0c0c" opacity="0.8"/>
<rect x="292.72" y="236.5" width="1.67" height="26.5" fill="#ffd8d8" opacity="0.65"/>
<rect x="296.11" y="236.5" width="1.8" height="26.5" fill="#ffd8d8" opacity="0.65"/>
<rect x="298.9" y="236.5" width="0.74" height="26.5" fill="#ffd8d8" opacity="0.65"/>
<rect x="301.38" y="236.5" width="0.54" height="26.5" fill="#ff9c9c" opacity="0.65"/>
<rect x="303.01" y="236.5" width="0.99" height="26.5" fill="#ff9c9c" opacity="0.65"/>
<rect x="304.7" y="236.5" width="0.5" height="26.5" fill="#ff9c9c" opacity="0.65"/>
<rect x="306.23" y="236.5" width="1.74" height="26.5" fill="#ff0c0c" opacity="0.8"/>
<rect x="310.11" y="236.5" width="0.77" height="26.5" fill="#ff9c9c" opacity="0.65"/>
<rect x="312.76" y="236.5" width="1.57" height="26.5" fill="#ff9c9c" opacity="0.65"/>
<rect x="314.82" y="236.5" width="1.12" height="26.5" fill="#ff9c9c" opacity="0.65"/>
<rect x="317.99" y="236.5" width="0.75" height="26.5" fill="#ff9c9c" opacity="0.65"/>
<rect x="320.75" y="236.5" width="0.54" height="26.5" fill="#ff9c9c" opacity="0.65"/>
<rect x="323.15" y="236.5" width="1.5" height="26.5" fill="#ff0c0c" opacity="0.8"/>
<rect x="325.11" y="236.5" width="0.58" height="26.5" fill="#ffd8d8" opacity="0.65"/>
<rect x="326.56" y="236.5" width="1.47" height="26.5" fill="#ffd8d8" opacity="0.65"/>
<rect x="329.04" y="236.5" width="0.85" height="26.5" fill="#ffd8d8" opacity="0.65"/>
<rect x="331.4" y="236.5" width="0.84" height="26.5" fill="#ff9c9c" opacity="0.65"/>
<rect x="333.22" y="236.5" width="0.86" height="26.5" fill="#ff0c0c" opacity="0.8"/>
<rect x="335.83" y="236.5" width="1.69" height="26.5" fill="#ff9c9c" opacity="0.65"/>
<rect x="339.62" y="236.5" width="0.53" height="26.5" fill="#ff0c0c" opacity="0.8"/>
<rect x="341.41" y="236.5" width="1.74" height="26.5" fill="#ffd8d8" opacity="0.65"/>
<rect x="344.25" y="236.5" width="0.83" height="26.5" fill="#ff9c9c" opacity="0.65"/>
<rect x="346.36" y="236.5" width="1.71" height="26.5" fill="#ff0c0c" opacity="0.8"/>
<rect x="349.92" y="236.5" width="1.46" height="26.5" fill="#ffd8d8" opacity="0.65"/>
<rect x="353.17" y="236.5" width="1.29" height="26.5" fill="#ff9c9c" opacity="0.65"/>
<rect x="355.43" y="236.5" width="0.97" height="26.5" fill="#ff9c9c" opacity="0.65"/>
<rect x="356.94" y="236.5" width="0.76" height="26.5" fill="#ff9c9c" opacity="0.65"/>
<rect x="358.55" y="236.5" width="0.58" height="26.5" fill="#ff0c0c" opacity="0.8"/>
<rect x="360.52" y="236.5" width="0.92" height="26.5" fill="#ffd8d8" opacity="0.65"/>
<rect x="363.44" y="236.5" width="1.78" height="26.5" fill="#ff9c9c" opacity="0.65"/>
<rect x="365.77" y="236.5" width="0.63" height="26.5" fill="#ff9c9c" opacity="0.65"/>
<rect x="368.08" y="236.5" width="1.08" height="26.5" fill="#ff0c0c" opacity="0.8"/>
<rect x="370.31" y="236.5" width="1.31" height="26.5" fill="#ff9c9c" opacity="0.65"/>
<rect x="373.36" y="236.5" width="1.6" height="26.5" fill="#ff9c9c" opacity="0.65"/>
<rect x="375.58" y="236.5" width="1.59" height="26.5" fill="#ff9c9c" opacity="0.65"/>
<rect x="378.59" y="236.5" width="0.98" height="26.5" fill="#ff9c9c" opacity="0.65"/>
<rect x="380.34" y="236.5" width="0.82" height="26.5" fill="#ff0c0c" opacity="0.8"/>
<rect x="381.83" y="236.5" width="1.65" height="26.5" fill="#ff9c9c" opacity="0.65"/>
<rect x="384.47" y="236.5" width="1.01" height="26.5" fill="#ffd8d8" opacity="0.65"/>
<rect x="386.8" y="236.5" width="0.8" height="26.5" fill="#ffd8d8" opacity="0.65"/>
<rect x="389.18" y="236.5" width="1.79" height="26.5" fill="#ff0c0c" opacity="0.8"/>
<rect x="392.22" y="236.5" width="1.56" height="26.5" fill="#ffd8d8" opacity="0.65"/>
<rect x="395.83" y="236.5" width="0.55" height="26.5" fill="#ff9c9c" opacity="0.65"/>
<rect x="397" y="236.5" width="0.75" height="26.5" fill="#ffd8d8" opacity="0.65"/>
<rect x="399.19" y="236.5" width="1.71" height="26.5" fill="#ff9c9c" opacity="0.65"/>
<rect x="402.86" y="236.5" width="1.08" height="26.5" fill="#ff9c9c" opacity="0.65"/>
<rect x="405.74" y="236.5" width="1.73" height="26.5" fill="#ff0c0c" opacity="0.8"/>
<rect x="408.95" y="236.5" width="1.31" height="26.5" fill="#ff0c0c" opacity="0.8"/>
<rect x="411.32" y="236.5" width="0.68" height="26.5" fill="#ff0c0c" opacity="0.8"/>
<rect x="412.86" y="236.5" width="1.28" height="26.5" fill="#ff9c9c" opacity="0.65"/>
<rect x="414.9" y="236.5" width="0.51" height="26.5" fill="#ff9c9c" opacity="0.65"/>
<rect x="417.04" y="236.5" width="0.74" height="26.5" fill="#ff9c9c" opacity="0.65"/>
<rect x="418.55" y="236.5" width="1.53" height="26.5" fill="#ff9c9c" opacity="0.65"/>
<rect x="420.59" y="236.5" width="0.63" height="26.5" fill="#ff9c9c" opacity="0.65"/>
<rect x="422.62" y="236.5" width="1.33" height="26.5" fill="#ff0c0c" opacity="0.8"/>
<rect x="424.64" y="236.5" width="1.4" height="26.5" fill="#ff9c9c" opacity="0.65"/>
<rect x="426.96" y="236.5" width="0.9" height="26.5" fill="#ffd8d8" opacity="0.65"/>
<rect x="428.82" y="236.5" width="1.24" height="26.5" fill="#ff9c9c" opacity="0.65"/>
<rect x="431.2" y="236.5" width="1.62" height="26.5" fill="#ffd8d8" opacity="0.65"/>
<rect x="433.88" y="236.5" width="0.76" height="26.5" fill="#ff9c9c" opacity="0.65"/>
<rect x="435.41" y="236.5" width="0.51" height="26.5" fill="#ffd8d8" opacity="0.65"/>
<rect x="437.08" y="236.5" width="1.02" height="26.5" fill="#ff9c9c" opacity="0.65"/>
<rect x="142.6" y="208.6" width="1.4" height="27.9" fill="#ff2424" opacity="0.88"/>
<rect x="144.53" y="208.6" width="1.97" height="27.9" fill="#ff2424" opacity="0.88"/>
<rect x="148.91" y="208.6" width="1.95" height="27.9" fill="#ff2424" opacity="0.88"/>
<rect x="152.13" y="208.6" width="1.38" height="27.9" fill="#ff2424" opacity="0.88"/>
<rect x="154.6" y="208.6" width="2.31" height="27.9" fill="#ff2424" opacity="0.88"/>
<rect x="157.64" y="208.6" width="2.17" height="27.9" fill="#ff2424" opacity="0.88"/>
<rect x="162.34" y="208.6" width="1.35" height="27.9" fill="#ff2424" opacity="0.88"/>
<rect x="166.17" y="208.6" width="2.47" height="27.9" fill="#ff8888" opacity="0.5"/>
<rect x="169.25" y="208.6" width="2.28" height="27.9" fill="#ff8888" opacity="0.5"/>
<rect x="173.92" y="208.6" width="2.19" height="27.9" fill="#ff2424" opacity="0.88"/>
<rect x="176.95" y="208.6" width="1.94" height="27.9" fill="#ff8888" opacity="0.5"/>
<rect x="180.24" y="208.6" width="3.16" height="27.9" fill="#ff8888" opacity="0.5"/>
<rect x="184.28" y="208.6" width="1.68" height="27.9" fill="#ff2424" opacity="0.88"/>
<rect x="187.55" y="208.6" width="1.35" height="27.9" fill="#ff2424" opacity="0.88"/>
<rect x="189.92" y="208.6" width="3.29" height="27.9" fill="#ff8888" opacity="0.5"/>
<rect x="193.8" y="208.6" width="2.11" height="27.9" fill="#ff2424" opacity="0.88"/>
<rect x="196.49" y="208.6" width="1.74" height="27.9" fill="#ff8888" opacity="0.5"/>
<rect x="199.98" y="208.6" width="1.95" height="27.9" fill="#ff2424" opacity="0.88"/>
<rect x="203.08" y="208.6" width="1.9" height="27.9" fill="#ff2424" opacity="0.88"/>
<rect x="206.37" y="208.6" width="1.74" height="27.9" fill="#ff2424" opacity="0.88"/>
<rect x="209.53" y="208.6" width="1.94" height="27.9" fill="#ff2424" opacity="0.88"/>
<rect x="213" y="208.6" width="2.12" height="27.9" fill="#ff2424" opacity="0.88"/>
<rect x="217.25" y="208.6" width="1.42" height="27.9" fill="#ff2424" opacity="0.88"/>
<rect x="220.16" y="208.6" width="1.35" height="27.9" fill="#ff2424" opacity="0.88"/>
<rect x="222.92" y="208.6" width="1.73" height="27.9" fill="#ff2424" opacity="0.88"/>
<rect x="226.22" y="208.6" width="1.96" height="27.9" fill="#ff2424" opacity="0.88"/>
<rect x="228.86" y="208.6" width="3.06" height="27.9" fill="#ff8888" opacity="0.5"/>
<rect x="233.49" y="208.6" width="1.8" height="27.9" fill="#ff2424" opacity="0.88"/>
<rect x="236.58" y="208.6" width="1.77" height="27.9" fill="#ff8888" opacity="0.5"/>
<rect x="240.66" y="208.6" width="2.96" height="27.9" fill="#ff8888" opacity="0.5"/>
<rect x="245.83" y="208.6" width="2.38" height="27.9" fill="#ff2424" opacity="0.88"/>
<rect x="249.74" y="208.6" width="3.33" height="27.9" fill="#ff8888" opacity="0.5"/>
<rect x="253.92" y="208.6" width="3.36" height="27.9" fill="#ff8888" opacity="0.5"/>
<rect x="257.92" y="208.6" width="2.11" height="27.9" fill="#ff2424" opacity="0.88"/>
<rect x="260.86" y="208.6" width="2.05" height="27.9" fill="#ff8888" opacity="0.5"/>
<rect x="265.12" y="208.6" width="1.8" height="27.9" fill="#ff2424" opacity="0.88"/>
<rect x="269.36" y="208.6" width="1.52" height="27.9" fill="#ff2424" opacity="0.88"/>
<rect x="272.44" y="208.6" width="1.24" height="27.9" fill="#ff2424" opacity="0.88"/>
<rect x="274.56" y="208.6" width="2.32" height="27.9" fill="#ff2424" opacity="0.88"/>
<rect x="278.82" y="208.6" width="1.84" height="27.9" fill="#ff8888" opacity="0.5"/>
<rect x="282.8" y="208.6" width="1.84" height="27.9" fill="#ff2424" opacity="0.88"/>
<rect x="286.47" y="208.6" width="2.25" height="27.9" fill="#ff2424" opacity="0.88"/>
<rect x="290.39" y="208.6" width="2.26" height="27.9" fill="#ff2424" opacity="0.88"/>
<rect x="293.37" y="208.6" width="2.76" height="27.9" fill="#ff8888" opacity="0.5"/>
<rect x="297.45" y="208.6" width="2.03" height="27.9" fill="#ff8888" opacity="0.5"/>
<rect x="302.06" y="208.6" width="1.63" height="27.9" fill="#ff2424" opacity="0.88"/>
<rect x="305.8" y="208.6" width="1.41" height="27.9" fill="#ff2424" opacity="0.88"/>
<rect x="309.27" y="208.6" width="2.18" height="27.9" fill="#ff2424" opacity="0.88"/>
<rect x="312.49" y="208.6" width="2.38" height="27.9" fill="#ff2424" opacity="0.88"/>
<rect x="316.6" y="208.6" width="1.58" height="27.9" fill="#ff2424" opacity="0.88"/>
<rect x="318.68" y="208.6" width="1.38" height="27.9" fill="#ff2424" opacity="0.88"/>
<rect x="321.85" y="208.6" width="1.82" height="27.9" fill="#ff2424" opacity="0.88"/>
<rect x="326.05" y="208.6" width="1.47" height="27.9" fill="#ff2424" opacity="0.88"/>
<rect x="329.39" y="208.6" width="1.2" height="27.9" fill="#ff2424" opacity="0.88"/>
<rect x="331.84" y="208.6" width="1.63" height="27.9" fill="#ff2424" opacity="0.88"/>
<rect x="334.44" y="208.6" width="1.91" height="27.9" fill="#ff2424" opacity="0.88"/>
<rect x="337.28" y="208.6" width="1.77" height="27.9" fill="#ff2424" opacity="0.88"/>
<rect x="339.83" y="208.6" width="1.99" height="27.9" fill="#ff8888" opacity="0.5"/>
<rect x="342.63" y="208.6" width="1.97" height="27.9" fill="#ff2424" opacity="0.88"/>
<rect x="346.93" y="208.6" width="2.3" height="27.9" fill="#ff8888" opacity="0.5"/>
<rect x="350.29" y="208.6" width="1.97" height="27.9" fill="#ff2424" opacity="0.88"/>
<rect x="353.94" y="208.6" width="1.97" height="27.9" fill="#ff2424" opacity="0.88"/>
<rect x="357.35" y="208.6" width="2.97" height="27.9" fill="#ff8888" opacity="0.5"/>
<rect x="361.34" y="208.6" width="1.59" height="27.9" fill="#ff8888" opacity="0.5"/>
<rect x="364.54" y="208.6" width="1.49" height="27.9" fill="#ff2424" opacity="0.88"/>
<rect x="366.65" y="208.6" width="1.52" height="27.9" fill="#ff8888" opacity="0.5"/>
<rect x="369.83" y="208.6" width="1.78" height="27.9" fill="#ff8888" opacity="0.5"/>
<rect x="372.53" y="208.6" width="1.81" height="27.9" fill="#ff2424" opacity="0.88"/>
<rect x="376.19" y="208.6" width="1.85" height="27.9" fill="#ff8888" opacity="0.5"/>
<rect x="379.19" y="208.6" width="1.26" height="27.9" fill="#ff2424" opacity="0.88"/>
<rect x="382.81" y="208.6" width="2.93" height="27.9" fill="#ff8888" opacity="0.5"/>
<rect x="386.26" y="208.6" width="2.99" height="27.9" fill="#ff8888" opacity="0.5"/>
<rect x="390.73" y="208.6" width="2.4" height="27.9" fill="#ff8888" opacity="0.5"/>
<rect x="394.11" y="208.6" width="1.48" height="27.9" fill="#ff2424" opacity="0.88"/>
<rect x="396.17" y="208.6" width="2.1" height="27.9" fill="#ff2424" opacity="0.88"/>
<rect x="400.22" y="208.6" width="2.92" height="27.9" fill="#ff8888" opacity="0.5"/>
<rect x="404.21" y="208.6" width="1.72" height="27.9" fill="#ff2424" opacity="0.88"/>
<rect x="408.09" y="208.6" width="1.52" height="27.9" fill="#ff2424" opacity="0.88"/>
<rect x="411.45" y="208.6" width="1.93" height="27.9" fill="#ff8888" opacity="0.5"/>
<rect x="415.73" y="208.6" width="1.51" height="27.9" fill="#ff2424" opacity="0.88"/>
<rect x="418.24" y="208.6" width="3.39" height="27.9" fill="#ff8888" opacity="0.5"/>
<rect x="423.7" y="208.6" width="2.26" height="27.9" fill="#ff2424" opacity="0.88"/>
<rect x="427.15" y="208.6" width="2.29" height="27.9" fill="#ff2424" opacity="0.88"/>
<rect x="431.26" y="208.6" width="2" height="27.9" fill="#ff2424" opacity="0.88"/>
<rect x="435.81" y="208.6" width="2.21" height="27.9" fill="#ff2424" opacity="0.88"/>
<rect x="142.6" y="234.3" width="1.0" height="2.2" fill="#ff2020" opacity="0.7"/>
<rect x="147.17" y="234.3" width="1.0" height="2.2" fill="#ff2020" opacity="0.7"/>
<rect x="150.48" y="234.3" width="1.0" height="2.2" fill="#ff2020" opacity="0.7"/>
<rect x="154.66" y="234.3" width="1.0" height="2.2" fill="#ff2020" opacity="0.7"/>
<rect x="158.37" y="234.3" width="1.0" height="2.2" fill="#ff2020" opacity="0.7"/>
<rect x="161.29" y="234.3" width="1.0" height="2.2" fill="#ff2020" opacity="0.7"/>
<rect x="163.93" y="234.3" width="1.0" height="2.2" fill="#ff2020" opacity="0.7"/>
<rect x="167.8" y="234.3" width="1.0" height="2.2" fill="#ff2020" opacity="0.7"/>
<rect x="170.03" y="234.3" width="1.0" height="2.2" fill="#ff2020" opacity="0.7"/>
<rect x="174.76" y="234.3" width="1.0" height="2.2" fill="#ff2020" opacity="0.7"/>
<rect x="177.2" y="234.3" width="1.0" height="2.2" fill="#ff2020" opacity="0.7"/>
<rect x="179.28" y="234.3" width="1.0" height="2.2" fill="#ff2020" opacity="0.7"/>
<rect x="181.6" y="234.3" width="1.0" height="2.2" fill="#ff2020" opacity="0.7"/>
<rect x="186.38" y="234.3" width="1.0" height="2.2" fill="#ff2020" opacity="0.7"/>
<rect x="189.42" y="234.3" width="1.0" height="2.2" fill="#ff2020" opacity="0.7"/>
<rect x="191.84" y="234.3" width="1.0" height="2.2" fill="#ff2020" opacity="0.7"/>
<rect x="193.93" y="234.3" width="1.0" height="2.2" fill="#ff2020" opacity="0.7"/>
<rect x="196.05" y="234.3" width="1.0" height="2.2" fill="#ff2020" opacity="0.7"/>
<rect x="200.13" y="234.3" width="1.0" height="2.2" fill="#ff2020" opacity="0.7"/>
<rect x="204.03" y="234.3" width="1.0" height="2.2" fill="#ff2020" opacity="0.7"/>
<rect x="208.13" y="234.3" width="1.0" height="2.2" fill="#ff2020" opacity="0.7"/>
<rect x="212.34" y="234.3" width="1.0" height="2.2" fill="#ff2020" opacity="0.7"/>
<rect x="214.53" y="234.3" width="1.0" height="2.2" fill="#ff2020" opacity="0.7"/>
<rect x="218.3" y="234.3" width="1.0" height="2.2" fill="#ff2020" opacity="0.7"/>
<rect x="221.39" y="234.3" width="1.0" height="2.2" fill="#ff2020" opacity="0.7"/>
<rect x="225.85" y="234.3" width="1.0" height="2.2" fill="#ff2020" opacity="0.7"/>
<rect x="230.31" y="234.3" width="1.0" height="2.2" fill="#ff2020" opacity="0.7"/>
<rect x="234.98" y="234.3" width="1.0" height="2.2" fill="#ff2020" opacity="0.7"/>
<rect x="237.18" y="234.3" width="1.0" height="2.2" fill="#ff2020" opacity="0.7"/>
<rect x="241.78" y="234.3" width="1.0" height="2.2" fill="#ff2020" opacity="0.7"/>
<rect x="246.52" y="234.3" width="1.0" height="2.2" fill="#ff2020" opacity="0.7"/>
<rect x="251.36" y="234.3" width="1.0" height="2.2" fill="#ff2020" opacity="0.7"/>
<rect x="253.68" y="234.3" width="1.0" height="2.2" fill="#ff2020" opacity="0.7"/>
<rect x="256.3" y="234.3" width="1.0" height="2.2" fill="#ff2020" opacity="0.7"/>
<rect x="258.63" y="234.3" width="1.0" height="2.2" fill="#ff2020" opacity="0.7"/>
<rect x="260.73" y="234.3" width="1.0" height="2.2" fill="#ff2020" opacity="0.7"/>
<rect x="265.28" y="234.3" width="1.0" height="2.2" fill="#ff2020" opacity="0.7"/>
<rect x="269.71" y="234.3" width="1.0" height="2.2" fill="#ff2020" opacity="0.7"/>
<rect x="273.62" y="234.3" width="1.0" height="2.2" fill="#ff2020" opacity="0.7"/>
<rect x="278.09" y="234.3" width="1.0" height="2.2" fill="#ff2020" opacity="0.7"/>
<rect x="281.99" y="234.3" width="1.0" height="2.2" fill="#ff2020" opacity="0.7"/>
<rect x="284.85" y="234.3" width="1.0" height="2.2" fill="#ff2020" opacity="0.7"/>
<rect x="287.15" y="234.3" width="1.0" height="2.2" fill="#ff2020" opacity="0.7"/>
<rect x="289.44" y="234.3" width="1.0" height="2.2" fill="#ff2020" opacity="0.7"/>
<rect x="293.71" y="234.3" width="1.0" height="2.2" fill="#ff2020" opacity="0.7"/>
<rect x="296.33" y="234.3" width="1.0" height="2.2" fill="#ff2020" opacity="0.7"/>
<rect x="299.29" y="234.3" width="1.0" height="2.2" fill="#ff2020" opacity="0.7"/>
<rect x="302.56" y="234.3" width="1.0" height="2.2" fill="#ff2020" opacity="0.7"/>
<rect x="304.62" y="234.3" width="1.0" height="2.2" fill="#ff2020" opacity="0.7"/>
<rect x="307.39" y="234.3" width="1.0" height="2.2" fill="#ff2020" opacity="0.7"/>
<rect x="310.24" y="234.3" width="1.0" height="2.2" fill="#ff2020" opacity="0.7"/>
<rect x="314.39" y="234.3" width="1.0" height="2.2" fill="#ff2020" opacity="0.7"/>
<rect x="317.49" y="234.3" width="1.0" height="2.2" fill="#ff2020" opacity="0.7"/>
<rect x="320.45" y="234.3" width="1.0" height="2.2" fill="#ff2020" opacity="0.7"/>
<rect x="325.34" y="234.3" width="1.0" height="2.2" fill="#ff2020" opacity="0.7"/>
<rect x="328.86" y="234.3" width="1.0" height="2.2" fill="#ff2020" opacity="0.7"/>
<rect x="333.41" y="234.3" width="1.0" height="2.2" fill="#ff2020" opacity="0.7"/>
<rect x="337.26" y="234.3" width="1.0" height="2.2" fill="#ff2020" opacity="0.7"/>
<rect x="339.36" y="234.3" width="1.0" height="2.2" fill="#ff2020" opacity="0.7"/>
<rect x="342.6" y="234.3" width="1.0" height="2.2" fill="#ff2020" opacity="0.7"/>
<rect x="345.91" y="234.3" width="1.0" height="2.2" fill="#ff2020" opacity="0.7"/>
<rect x="350.22" y="234.3" width="1.0" height="2.2" fill="#ff2020" opacity="0.7"/>
<rect x="353.26" y="234.3" width="1.0" height="2.2" fill="#ff2020" opacity="0.7"/>
<rect x="357.38" y="234.3" width="1.0" height="2.2" fill="#ff2020" opacity="0.7"/>
<rect x="360.99" y="234.3" width="1.0" height="2.2" fill="#ff2020" opacity="0.7"/>
<rect x="363.64" y="234.3" width="1.0" height="2.2" fill="#ff2020" opacity="0.7"/>
<rect x="368.23" y="234.3" width="1.0" height="2.2" fill="#ff2020" opacity="0.7"/>
<rect x="370.5" y="234.3" width="1.0" height="2.2" fill="#ff2020" opacity="0.7"/>
<rect x="374.96" y="234.3" width="1.0" height="2.2" fill="#ff2020" opacity="0.7"/>
<rect x="377.47" y="234.3" width="1.0" height="2.2" fill="#ff2020" opacity="0.7"/>
<rect x="379.48" y="234.3" width="1.0" height="2.2" fill="#ff2020" opacity="0.7"/>
<rect x="382.08" y="234.3" width="1.0" height="2.2" fill="#ff2020" opacity="0.7"/>
<rect x="386.37" y="234.3" width="1.0" height="2.2" fill="#ff2020" opacity="0.7"/>
<rect x="391.3" y="234.3" width="1.0" height="2.2" fill="#ff2020" opacity="0.7"/>
<rect x="393.31" y="234.3" width="1.0" height="2.2" fill="#ff2020" opacity="0.7"/>
<rect x="396.79" y="234.3" width="1.0" height="2.2" fill="#ff2020" opacity="0.7"/>
<rect x="400.26" y="234.3" width="1.0" height="2.2" fill="#ff2020" opacity="0.7"/>
<rect x="404.65" y="234.3" width="1.0" height="2.2" fill="#ff2020" opacity="0.7"/>
<rect x="407.21" y="234.3" width="1.0" height="2.2" fill="#ff2020" opacity="0.7"/>
<rect x="410.69" y="234.3" width="1.0" height="2.2" fill="#ff2020" opacity="0.7"/>
<rect x="413.73" y="234.3" width="1.0" height="2.2" fill="#ff2020" opacity="0.7"/>
<rect x="418.23" y="234.3" width="1.0" height="2.2" fill="#ff2020" opacity="0.7"/>
<rect x="421.01" y="234.3" width="1.0" height="2.2" fill="#ff2020" opacity="0.7"/>
<rect x="425.84" y="234.3" width="1.0" height="2.2" fill="#ff2020" opacity="0.7"/>
<rect x="428.69" y="234.3" width="1.0" height="2.2" fill="#ff2020" opacity="0.7"/>
<rect x="431.34" y="234.3" width="1.0" height="2.2" fill="#ff2020" opacity="0.7"/>
<rect x="435.43" y="234.3" width="1.0" height="2.2" fill="#ff2020" opacity="0.7"/>
<rect x="142.6" y="263" width="1.96" height="28" fill="#ff2424" opacity="0.88"/>
<rect x="145.23" y="263" width="2.89" height="28" fill="#ff8888" opacity="0.5"/>
<rect x="150.28" y="263" width="1.63" height="28" fill="#ff2424" opacity="0.88"/>
<rect x="153.25" y="263" width="2.27" height="28" fill="#ff2424" opacity="0.88"/>
<rect x="156.2" y="263" width="1.55" height="28" fill="#ff8888" opacity="0.5"/>
<rect x="158.68" y="263" width="2.28" height="28" fill="#ff2424" opacity="0.88"/>
<rect x="162.52" y="263" width="2.26" height="28" fill="#ff2424" opacity="0.88"/>
<rect x="165.77" y="263" width="1.84" height="28" fill="#ff2424" opacity="0.88"/>
<rect x="169.69" y="263" width="2.79" height="28" fill="#ff8888" opacity="0.5"/>
<rect x="173.71" y="263" width="1.39" height="28" fill="#ff2424" opacity="0.88"/>
<rect x="177.37" y="263" width="2.09" height="28" fill="#ff2424" opacity="0.88"/>
<rect x="180.32" y="263" width="2.13" height="28" fill="#ff2424" opacity="0.88"/>
<rect x="184.16" y="263" width="1.75" height="28" fill="#ff2424" opacity="0.88"/>
<rect x="188.28" y="263" width="1.43" height="28" fill="#ff2424" opacity="0.88"/>
<rect x="190.84" y="263" width="2.21" height="28" fill="#ff2424" opacity="0.88"/>
<rect x="193.88" y="263" width="1.5" height="28" fill="#ff2424" opacity="0.88"/>
<rect x="196.56" y="263" width="1.39" height="28" fill="#ff2424" opacity="0.88"/>
<rect x="199.14" y="263" width="2.37" height="28" fill="#ff2424" opacity="0.88"/>
<rect x="203.54" y="263" width="2.35" height="28" fill="#ff2424" opacity="0.88"/>
<rect x="206.61" y="263" width="2.38" height="28" fill="#ff2424" opacity="0.88"/>
<rect x="211.16" y="263" width="2.37" height="28" fill="#ff8888" opacity="0.5"/>
<rect x="214.44" y="263" width="1.33" height="28" fill="#ff2424" opacity="0.88"/>
<rect x="216.7" y="263" width="1.24" height="28" fill="#ff2424" opacity="0.88"/>
<rect x="219.28" y="263" width="2.89" height="28" fill="#ff8888" opacity="0.5"/>
<rect x="223.72" y="263" width="1.76" height="28" fill="#ff2424" opacity="0.88"/>
<rect x="226.27" y="263" width="1.69" height="28" fill="#ff2424" opacity="0.88"/>
<rect x="230.01" y="263" width="2.36" height="28" fill="#ff8888" opacity="0.5"/>
<rect x="234.08" y="263" width="2.34" height="28" fill="#ff8888" opacity="0.5"/>
<rect x="237.4" y="263" width="3.26" height="28" fill="#ff8888" opacity="0.5"/>
<rect x="242.79" y="263" width="2.22" height="28" fill="#ff2424" opacity="0.88"/>
<rect x="246.94" y="263" width="1.74" height="28" fill="#ff2424" opacity="0.88"/>
<rect x="249.84" y="263" width="1.32" height="28" fill="#ff2424" opacity="0.88"/>
<rect x="252.54" y="263" width="2.93" height="28" fill="#ff8888" opacity="0.5"/>
<rect x="257.29" y="263" width="1.71" height="28" fill="#ff2424" opacity="0.88"/>
<rect x="260.45" y="263" width="1.69" height="28" fill="#ff2424" opacity="0.88"/>
<rect x="264.06" y="263" width="1.87" height="28" fill="#ff8888" opacity="0.5"/>
<rect x="267.8" y="263" width="2.28" height="28" fill="#ff8888" opacity="0.5"/>
<rect x="271.61" y="263" width="1.58" height="28" fill="#ff8888" opacity="0.5"/>
<rect x="274.82" y="263" width="2.14" height="28" fill="#ff2424" opacity="0.88"/>
<rect x="279.44" y="263" width="1.32" height="28" fill="#ff2424" opacity="0.88"/>
<rect x="282.47" y="263" width="2.06" height="28" fill="#ff2424" opacity="0.88"/>
<rect x="286.1" y="263" width="2.19" height="28" fill="#ff2424" opacity="0.88"/>
<rect x="289.89" y="263" width="2.34" height="28" fill="#ff2424" opacity="0.88"/>
<rect x="293.17" y="263" width="1.67" height="28" fill="#ff2424" opacity="0.88"/>
<rect x="296.94" y="263" width="2.38" height="28" fill="#ff2424" opacity="0.88"/>
<rect x="300.57" y="263" width="1.53" height="28" fill="#ff2424" opacity="0.88"/>
<rect x="303.44" y="263" width="1.7" height="28" fill="#ff2424" opacity="0.88"/>
<rect x="306.53" y="263" width="1.62" height="28" fill="#ff2424" opacity="0.88"/>
<rect x="309.21" y="263" width="2.09" height="28" fill="#ff2424" opacity="0.88"/>
<rect x="313.77" y="263" width="1.46" height="28" fill="#ff2424" opacity="0.88"/>
<rect x="317.41" y="263" width="1.45" height="28" fill="#ff2424" opacity="0.88"/>
<rect x="319.64" y="263" width="3.12" height="28" fill="#ff8888" opacity="0.5"/>
<rect x="324.59" y="263" width="1.87" height="28" fill="#ff2424" opacity="0.88"/>
<rect x="327.44" y="263" width="2.21" height="28" fill="#ff8888" opacity="0.5"/>
<rect x="331.49" y="263" width="3.13" height="28" fill="#ff8888" opacity="0.5"/>
<rect x="336.1" y="263" width="1.86" height="28" fill="#ff2424" opacity="0.88"/>
<rect x="338.72" y="263" width="2.21" height="28" fill="#ff8888" opacity="0.5"/>
<rect x="343.22" y="263" width="1.65" height="28" fill="#ff2424" opacity="0.88"/>
<rect x="345.9" y="263" width="1.42" height="28" fill="#ff2424" opacity="0.88"/>
<rect x="347.83" y="263" width="2.06" height="28" fill="#ff8888" opacity="0.5"/>
<rect x="350.91" y="263" width="1.78" height="28" fill="#ff2424" opacity="0.88"/>
<rect x="354.09" y="263" width="1.99" height="28" fill="#ff2424" opacity="0.88"/>
<rect x="357.34" y="263" width="3.21" height="28" fill="#ff8888" opacity="0.5"/>
<rect x="361.17" y="263" width="3.31" height="28" fill="#ff8888" opacity="0.5"/>
<rect x="366.62" y="263" width="2.2" height="28" fill="#ff2424" opacity="0.88"/>
<rect x="370.65" y="263" width="1.21" height="28" fill="#ff2424" opacity="0.88"/>
<rect x="374.36" y="263" width="1.5" height="28" fill="#ff2424" opacity="0.88"/>
<rect x="376.58" y="263" width="1.48" height="28" fill="#ff2424" opacity="0.88"/>
<rect x="380.19" y="263" width="1.38" height="28" fill="#ff2424" opacity="0.88"/>
<rect x="383.97" y="263" width="1.84" height="28" fill="#ff8888" opacity="0.5"/>
<rect x="388.18" y="263" width="2.14" height="28" fill="#ff2424" opacity="0.88"/>
<rect x="392.22" y="263" width="3.08" height="28" fill="#ff8888" opacity="0.5"/>
<rect x="397.56" y="263" width="2.03" height="28" fill="#ff2424" opacity="0.88"/>
<rect x="401.2" y="263" width="2.38" height="28" fill="#ff8888" opacity="0.5"/>
<rect x="405.93" y="263" width="1.52" height="28" fill="#ff2424" opacity="0.88"/>
<rect x="408.44" y="263" width="1.79" height="28" fill="#ff2424" opacity="0.88"/>
<rect x="410.86" y="263" width="1.37" height="28" fill="#ff2424" opacity="0.88"/>
<rect x="413.76" y="263" width="1.85" height="28" fill="#ff2424" opacity="0.88"/>
<rect x="417.92" y="263" width="2.21" height="28" fill="#ff2424" opacity="0.88"/>
<rect x="421.61" y="263" width="2" height="28" fill="#ff2424" opacity="0.88"/>
<rect x="425.88" y="263" width="1.7" height="28" fill="#ff2424" opacity="0.88"/>
<rect x="430.1" y="263" width="1.96" height="28" fill="#ff2424" opacity="0.88"/>
<rect x="433.9" y="263" width="1.93" height="28" fill="#ff2424" opacity="0.88"/>
<rect x="142.6" y="263" width="1.0" height="2.2" fill="#ff2020" opacity="0.7"/>
<rect x="147.39" y="263" width="1.0" height="2.2" fill="#ff2020" opacity="0.7"/>
<rect x="150.39" y="263" width="1.0" height="2.2" fill="#ff2020" opacity="0.7"/>
<rect x="155.33" y="263" width="1.0" height="2.2" fill="#ff2020" opacity="0.7"/>
<rect x="158.86" y="263" width="1.0" height="2.2" fill="#ff2020" opacity="0.7"/>
<rect x="162.32" y="263" width="1.0" height="2.2" fill="#ff2020" opacity="0.7"/>
<rect x="167.01" y="263" width="1.0" height="2.2" fill="#ff2020" opacity="0.7"/>
<rect x="169.11" y="263" width="1.0" height="2.2" fill="#ff2020" opacity="0.7"/>
<rect x="173.27" y="263" width="1.0" height="2.2" fill="#ff2020" opacity="0.7"/>
<rect x="177.14" y="263" width="1.0" height="2.2" fill="#ff2020" opacity="0.7"/>
<rect x="180.16" y="263" width="1.0" height="2.2" fill="#ff2020" opacity="0.7"/>
<rect x="184.74" y="263" width="1.0" height="2.2" fill="#ff2020" opacity="0.7"/>
<rect x="187.84" y="263" width="1.0" height="2.2" fill="#ff2020" opacity="0.7"/>
<rect x="191.26" y="263" width="1.0" height="2.2" fill="#ff2020" opacity="0.7"/>
<rect x="194.84" y="263" width="1.0" height="2.2" fill="#ff2020" opacity="0.7"/>
<rect x="199.15" y="263" width="1.0" height="2.2" fill="#ff2020" opacity="0.7"/>
<rect x="201.79" y="263" width="1.0" height="2.2" fill="#ff2020" opacity="0.7"/>
<rect x="205.09" y="263" width="1.0" height="2.2" fill="#ff2020" opacity="0.7"/>
<rect x="208.36" y="263" width="1.0" height="2.2" fill="#ff2020" opacity="0.7"/>
<rect x="212.02" y="263" width="1.0" height="2.2" fill="#ff2020" opacity="0.7"/>
<rect x="216.5" y="263" width="1.0" height="2.2" fill="#ff2020" opacity="0.7"/>
<rect x="219.38" y="263" width="1.0" height="2.2" fill="#ff2020" opacity="0.7"/>
<rect x="223.86" y="263" width="1.0" height="2.2" fill="#ff2020" opacity="0.7"/>
<rect x="227.07" y="263" width="1.0" height="2.2" fill="#ff2020" opacity="0.7"/>
<rect x="230.58" y="263" width="1.0" height="2.2" fill="#ff2020" opacity="0.7"/>
<rect x="233.4" y="263" width="1.0" height="2.2" fill="#ff2020" opacity="0.7"/>
<rect x="236.92" y="263" width="1.0" height="2.2" fill="#ff2020" opacity="0.7"/>
<rect x="241.84" y="263" width="1.0" height="2.2" fill="#ff2020" opacity="0.7"/>
<rect x="245.81" y="263" width="1.0" height="2.2" fill="#ff2020" opacity="0.7"/>
<rect x="250.18" y="263" width="1.0" height="2.2" fill="#ff2020" opacity="0.7"/>
<rect x="253.18" y="263" width="1.0" height="2.2" fill="#ff2020" opacity="0.7"/>
<rect x="256.13" y="263" width="1.0" height="2.2" fill="#ff2020" opacity="0.7"/>
<rect x="259.02" y="263" width="1.0" height="2.2" fill="#ff2020" opacity="0.7"/>
<rect x="262.78" y="263" width="1.0" height="2.2" fill="#ff2020" opacity="0.7"/>
<rect x="266.69" y="263" width="1.0" height="2.2" fill="#ff2020" opacity="0.7"/>
<rect x="271.04" y="263" width="1.0" height="2.2" fill="#ff2020" opacity="0.7"/>
<rect x="273.16" y="263" width="1.0" height="2.2" fill="#ff2020" opacity="0.7"/>
<rect x="277.33" y="263" width="1.0" height="2.2" fill="#ff2020" opacity="0.7"/>
<rect x="281.99" y="263" width="1.0" height="2.2" fill="#ff2020" opacity="0.7"/>
<rect x="285.62" y="263" width="1.0" height="2.2" fill="#ff2020" opacity="0.7"/>
<rect x="287.77" y="263" width="1.0" height="2.2" fill="#ff2020" opacity="0.7"/>
<rect x="290.67" y="263" width="1.0" height="2.2" fill="#ff2020" opacity="0.7"/>
<rect x="292.69" y="263" width="1.0" height="2.2" fill="#ff2020" opacity="0.7"/>
<rect x="295.26" y="263" width="1.0" height="2.2" fill="#ff2020" opacity="0.7"/>
<rect x="300.03" y="263" width="1.0" height="2.2" fill="#ff2020" opacity="0.7"/>
<rect x="303.85" y="263" width="1.0" height="2.2" fill="#ff2020" opacity="0.7"/>
<rect x="307.83" y="263" width="1.0" height="2.2" fill="#ff2020" opacity="0.7"/>
<rect x="312.19" y="263" width="1.0" height="2.2" fill="#ff2020" opacity="0.7"/>
<rect x="316.92" y="263" width="1.0" height="2.2" fill="#ff2020" opacity="0.7"/>
<rect x="320.76" y="263" width="1.0" height="2.2" fill="#ff2020" opacity="0.7"/>
<rect x="324.61" y="263" width="1.0" height="2.2" fill="#ff2020" opacity="0.7"/>
<rect x="328.49" y="263" width="1.0" height="2.2" fill="#ff2020" opacity="0.7"/>
<rect x="332.58" y="263" width="1.0" height="2.2" fill="#ff2020" opacity="0.7"/>
<rect x="336.37" y="263" width="1.0" height="2.2" fill="#ff2020" opacity="0.7"/>
<rect x="340.41" y="263" width="1.0" height="2.2" fill="#ff2020" opacity="0.7"/>
<rect x="343.05" y="263" width="1.0" height="2.2" fill="#ff2020" opacity="0.7"/>
<rect x="347.05" y="263" width="1.0" height="2.2" fill="#ff2020" opacity="0.7"/>
<rect x="350.42" y="263" width="1.0" height="2.2" fill="#ff2020" opacity="0.7"/>
<rect x="354.71" y="263" width="1.0" height="2.2" fill="#ff2020" opacity="0.7"/>
<rect x="357.01" y="263" width="1.0" height="2.2" fill="#ff2020" opacity="0.7"/>
<rect x="359.56" y="263" width="1.0" height="2.2" fill="#ff2020" opacity="0.7"/>
<rect x="361.67" y="263" width="1.0" height="2.2" fill="#ff2020" opacity="0.7"/>
<rect x="365.99" y="263" width="1.0" height="2.2" fill="#ff2020" opacity="0.7"/>
<rect x="370.73" y="263" width="1.0" height="2.2" fill="#ff2020" opacity="0.7"/>
<rect x="374.7" y="263" width="1.0" height="2.2" fill="#ff2020" opacity="0.7"/>
<rect x="377.81" y="263" width="1.0" height="2.2" fill="#ff2020" opacity="0.7"/>
<rect x="382.28" y="263" width="1.0" height="2.2" fill="#ff2020" opacity="0.7"/>
<rect x="386.64" y="263" width="1.0" height="2.2" fill="#ff2020" opacity="0.7"/>
<rect x="390.32" y="263" width="1.0" height="2.2" fill="#ff2020" opacity="0.7"/>
<rect x="393.1" y="263" width="1.0" height="2.2" fill="#ff2020" opacity="0.7"/>
<rect x="396" y="263" width="1.0" height="2.2" fill="#ff2020" opacity="0.7"/>
<rect x="399.27" y="263" width="1.0" height="2.2" fill="#ff2020" opacity="0.7"/>
<rect x="402.22" y="263" width="1.0" height="2.2" fill="#ff2020" opacity="0.7"/>
<rect x="405.51" y="263" width="1.0" height="2.2" fill="#ff2020" opacity="0.7"/>
<rect x="409.44" y="263" width="1.0" height="2.2" fill="#ff2020" opacity="0.7"/>
<rect x="414.24" y="263" width="1.0" height="2.2" fill="#ff2020" opacity="0.7"/>
<rect x="416.41" y="263" width="1.0" height="2.2" fill="#ff2020" opacity="0.7"/>
<rect x="420.11" y="263" width="1.0" height="2.2" fill="#ff2020" opacity="0.7"/>
<rect x="422.23" y="263" width="1.0" height="2.2" fill="#ff2020" opacity="0.7"/>
<rect x="424.58" y="263" width="1.0" height="2.2" fill="#ff2020" opacity="0.7"/>
<rect x="429.01" y="263" width="1.0" height="2.2" fill="#ff2020" opacity="0.7"/>
<rect x="432.74" y="263" width="1.0" height="2.2" fill="#ff2020" opacity="0.7"/>
<line x1="141.6" y1="210.2" x2="438.8" y2="210.2" stroke="#5050ff" stroke-width="1.1"/>
<line x1="141.6" y1="289.4" x2="438.8" y2="289.4" stroke="#5050ff" stroke-width="1.1"/>
<line x1="141.6" y1="236.5" x2="438.8" y2="236.5" stroke="#30d030" stroke-width="1.1"/>
<line x1="141.6" y1="263.0" x2="438.8" y2="263.0" stroke="#30d030" stroke-width="1.1"/>
<rect x="25.3" y="6.2" width="240.4" height="120.6" fill="none" stroke="#808080" stroke-width="1.3"/>
<rect x="306.2" y="8.2" width="235.6" height="118.1" fill="none" stroke="#808080" stroke-width="1.3"/>
<rect x="141.6" y="174.5" width="297.2" height="149.7" fill="none" stroke="#808080" stroke-width="1.3"/>
<line x1="73.88" y1="6.2" x2="169.84" y2="6.2" stroke="#ffbf00" stroke-width="1.8" stroke-dasharray="2.1 1.8"/>
<line x1="73.88" y1="126.8" x2="169.84" y2="126.8" stroke="#ffbf00" stroke-width="1.8" stroke-dasharray="2.1 1.8"/>
<rect x="489.2" y="107.2" width="50" height="15.2" fill="#fff" stroke="#555" stroke-width="0.9"/>
<text x="23.4" y="8.6" font-size="7.2" text-anchor="end" font-weight="bold" font-style="normal" fill="#111" stroke="#111" stroke-width="0.2" >15</text>
<text x="23.4" y="28.7" font-size="7.2" text-anchor="end" font-weight="bold" font-style="normal" fill="#111" stroke="#111" stroke-width="0.2" >10</text>
<text x="23.4" y="48.8" font-size="7.2" text-anchor="end" font-weight="bold" font-style="normal" fill="#111" stroke="#111" stroke-width="0.2" >5</text>
<text x="23.4" y="68.9" font-size="7.2" text-anchor="end" font-weight="bold" font-style="normal" fill="#111" stroke="#111" stroke-width="0.2" >0</text>
<text x="23.4" y="89" font-size="7.2" text-anchor="end" font-weight="bold" font-style="normal" fill="#111" stroke="#111" stroke-width="0.2" >&#8722; 5</text>
<text x="23.4" y="109.1" font-size="7.2" text-anchor="end" font-weight="bold" font-style="normal" fill="#111" stroke="#111" stroke-width="0.2" >&#8722; 10</text>
<text x="23.4" y="129.2" font-size="7.2" text-anchor="end" font-weight="bold" font-style="normal" fill="#111" stroke="#111" stroke-width="0.2" >&#8722; 15</text>
<text x="26.5" y="134.7" font-size="7.2" text-anchor="middle" font-weight="bold" font-style="normal" fill="#111" stroke="#111" stroke-width="0.2" >0</text>
<text x="74.58" y="134.7" font-size="7.2" text-anchor="middle" font-weight="bold" font-style="normal" fill="#111" stroke="#111" stroke-width="0.2" >0.1</text>
<text x="122.66" y="134.7" font-size="7.2" text-anchor="middle" font-weight="bold" font-style="normal" fill="#111" stroke="#111" stroke-width="0.2" >0.2</text>
<text x="170.74" y="134.7" font-size="7.2" text-anchor="middle" font-weight="bold" font-style="normal" fill="#111" stroke="#111" stroke-width="0.2" >0.3</text>
<text x="218.82" y="134.7" font-size="7.2" text-anchor="middle" font-weight="bold" font-style="normal" fill="#111" stroke="#111" stroke-width="0.2" >0.4</text>
<text x="265" y="134.7" font-size="7.2" text-anchor="middle" font-weight="bold" font-style="normal" fill="#111" stroke="#111" stroke-width="0.2" >0.5</text>
<text x="304.2" y="9.98" font-size="7.2" text-anchor="end" font-weight="bold" font-style="normal" fill="#111" stroke="#111" stroke-width="0.2" >15</text>
<text x="304.2" y="29.75" font-size="7.2" text-anchor="end" font-weight="bold" font-style="normal" fill="#111" stroke="#111" stroke-width="0.2" >10</text>
<text x="304.2" y="49.53" font-size="7.2" text-anchor="end" font-weight="bold" font-style="normal" fill="#111" stroke="#111" stroke-width="0.2" >5</text>
<text x="304.2" y="69.3" font-size="7.2" text-anchor="end" font-weight="bold" font-style="normal" fill="#111" stroke="#111" stroke-width="0.2" >0</text>
<text x="304.2" y="89.08" font-size="7.2" text-anchor="end" font-weight="bold" font-style="normal" fill="#111" stroke="#111" stroke-width="0.2" >&#8722; 5</text>
<text x="304.2" y="108.85" font-size="7.2" text-anchor="end" font-weight="bold" font-style="normal" fill="#111" stroke="#111" stroke-width="0.2" >&#8722; 10</text>
<text x="304.2" y="128.62" font-size="7.2" text-anchor="end" font-weight="bold" font-style="normal" fill="#111" stroke="#111" stroke-width="0.2" >&#8722; 15</text>
<text x="306.7" y="134.6" font-size="7.2" text-anchor="middle" font-weight="bold" font-style="normal" fill="#111" stroke="#111" stroke-width="0.2" >0.1</text>
<text x="330.26" y="134.6" font-size="7.2" text-anchor="middle" font-weight="bold" font-style="normal" fill="#111" stroke="#111" stroke-width="0.2" >0.12</text>
<text x="353.82" y="134.6" font-size="7.2" text-anchor="middle" font-weight="bold" font-style="normal" fill="#111" stroke="#111" stroke-width="0.2" >0.14</text>
<text x="377.38" y="134.6" font-size="7.2" text-anchor="middle" font-weight="bold" font-style="normal" fill="#111" stroke="#111" stroke-width="0.2" >0.16</text>
<text x="400.94" y="134.6" font-size="7.2" text-anchor="middle" font-weight="bold" font-style="normal" fill="#111" stroke="#111" stroke-width="0.2" >0.18</text>
<text x="424.5" y="134.6" font-size="7.2" text-anchor="middle" font-weight="bold" font-style="normal" fill="#111" stroke="#111" stroke-width="0.2" >0.2</text>
<text x="448.06" y="134.6" font-size="7.2" text-anchor="middle" font-weight="bold" font-style="normal" fill="#111" stroke="#111" stroke-width="0.2" >0.22</text>
<text x="471.62" y="134.6" font-size="7.2" text-anchor="middle" font-weight="bold" font-style="normal" fill="#111" stroke="#111" stroke-width="0.2" >0.24</text>
<text x="495.18" y="134.6" font-size="7.2" text-anchor="middle" font-weight="bold" font-style="normal" fill="#111" stroke="#111" stroke-width="0.2" >0.26</text>
<text x="518.74" y="134.6" font-size="7.2" text-anchor="middle" font-weight="bold" font-style="normal" fill="#111" stroke="#111" stroke-width="0.2" >0.28</text>
<text x="542.3" y="134.6" font-size="7.2" text-anchor="middle" font-weight="bold" font-style="normal" fill="#111" stroke="#111" stroke-width="0.2" >0.3</text>
<text x="139.3" y="190.49" font-size="8.7" text-anchor="end" font-weight="bold" font-style="normal" fill="#111" stroke="#111" stroke-width="0.2" >60</text>
<text x="139.3" y="211.36" font-size="8.7" text-anchor="end" font-weight="bold" font-style="normal" fill="#111" stroke="#111" stroke-width="0.2" >40</text>
<text x="139.3" y="232.23" font-size="8.7" text-anchor="end" font-weight="bold" font-style="normal" fill="#111" stroke="#111" stroke-width="0.2" >20</text>
<text x="139.3" y="253.1" font-size="8.7" text-anchor="end" font-weight="bold" font-style="normal" fill="#111" stroke="#111" stroke-width="0.2" >0</text>
<text x="139.3" y="273.97" font-size="8.7" text-anchor="end" font-weight="bold" font-style="normal" fill="#111" stroke="#111" stroke-width="0.2" >&#8722; 20</text>
<text x="139.3" y="294.84" font-size="8.7" text-anchor="end" font-weight="bold" font-style="normal" fill="#111" stroke="#111" stroke-width="0.2" >&#8722; 40</text>
<text x="139.3" y="315.71" font-size="8.7" text-anchor="end" font-weight="bold" font-style="normal" fill="#111" stroke="#111" stroke-width="0.2" >&#8722; 60</text>
<text x="141.9" y="333.2" font-size="8.6" text-anchor="middle" font-weight="bold" font-style="normal" fill="#111" stroke="#111" stroke-width="0.2" >0.1</text>
<text x="171.62" y="333.2" font-size="8.6" text-anchor="middle" font-weight="bold" font-style="normal" fill="#111" stroke="#111" stroke-width="0.2" >0.12</text>
<text x="201.34" y="333.2" font-size="8.6" text-anchor="middle" font-weight="bold" font-style="normal" fill="#111" stroke="#111" stroke-width="0.2" >0.14</text>
<text x="231.06" y="333.2" font-size="8.6" text-anchor="middle" font-weight="bold" font-style="normal" fill="#111" stroke="#111" stroke-width="0.2" >0.16</text>
<text x="260.78" y="333.2" font-size="8.6" text-anchor="middle" font-weight="bold" font-style="normal" fill="#111" stroke="#111" stroke-width="0.2" >0.18</text>
<text x="290.5" y="333.2" font-size="8.6" text-anchor="middle" font-weight="bold" font-style="normal" fill="#111" stroke="#111" stroke-width="0.2" >0.2</text>
<text x="320.22" y="333.2" font-size="8.6" text-anchor="middle" font-weight="bold" font-style="normal" fill="#111" stroke="#111" stroke-width="0.2" >0.22</text>
<text x="349.94" y="333.2" font-size="8.6" text-anchor="middle" font-weight="bold" font-style="normal" fill="#111" stroke="#111" stroke-width="0.2" >0.24</text>
<text x="379.66" y="333.2" font-size="8.6" text-anchor="middle" font-weight="bold" font-style="normal" fill="#111" stroke="#111" stroke-width="0.2" >0.26</text>
<text x="409.38" y="333.2" font-size="8.6" text-anchor="middle" font-weight="bold" font-style="normal" fill="#111" stroke="#111" stroke-width="0.2" >0.28</text>
<text x="439.1" y="333.2" font-size="8.6" text-anchor="middle" font-weight="bold" font-style="normal" fill="#111" stroke="#111" stroke-width="0.2" >0.3</text>
<text x="145.7" y="143.6" font-size="7.5" text-anchor="middle" font-weight="bold" fill="#111" stroke="#111" stroke-width="0.2"><tspan font-style="italic">Time</tspan> [s]</text>
<text x="424.4" y="143.2" font-size="7.5" text-anchor="middle" font-weight="bold" fill="#111" stroke="#111" stroke-width="0.2"><tspan font-style="italic">Time</tspan> [s]</text>
<text x="290.6" y="342.6" font-size="9.2" text-anchor="middle" font-weight="bold" fill="#111" stroke="#111" stroke-width="0.2"><tspan font-style="italic">Time</tspan> [s]</text>
<text transform="translate(12.0,66.6) rotate(-90) scale(0.9,1)" font-size="10.5" text-anchor="middle" font-weight="bold" fill="#111" stroke="#111" stroke-width="0.2"><tspan font-style="italic">Current</tspan> [A]</text>
<text transform="translate(292.5,65.7) rotate(-90) scale(0.9,1)" font-size="10.5" text-anchor="middle" font-weight="bold" fill="#111" stroke="#111" stroke-width="0.2"><tspan font-style="italic">Current</tspan> [A]</text>
<text transform="translate(118.7,249.0) rotate(-90)" font-size="12.3" text-anchor="middle" font-weight="bold" fill="#111" stroke="#111" stroke-width="0.2"><tspan font-style="italic">Voltage</tspan> [V]</text>
<text transform="translate(114.1,26) scale(1,0.95)" font-size="9.5" text-anchor="start" font-weight="bold" font-style="normal" fill="#111" stroke="#111" stroke-width="0.2" >6 [A]</text>
<text transform="translate(227.7,28.6) scale(1,0.95)" font-size="9.5" text-anchor="start" font-weight="bold" font-style="normal" fill="#111" stroke="#111" stroke-width="0.2" >7.5 [A]</text>
<text transform="translate(106.6,111.3) scale(1,0.95)" font-size="9.5" text-anchor="start" font-weight="bold" font-style="normal" fill="#111" stroke="#111" stroke-width="0.2" >&#8722; 6 [A]</text>
<text transform="translate(218.4,111.3) scale(1,0.95)" font-size="9.5" text-anchor="start" font-weight="bold" font-style="normal" fill="#111" stroke="#111" stroke-width="0.2" >&#8722; 7.5 [A]</text>
<path d="M110,24.5 Q99,27 95.3,38.9" fill="none" stroke="#222" stroke-width="0.85" stroke-dasharray="0.9 0.7"/>
<polygon points="95.18,39.28 94.83,36.03 97.31,36.8" fill="#222"/>
<path d="M224.2,22.7 Q208,24 202.5,30.4" fill="none" stroke="#222" stroke-width="0.8" stroke-dasharray="none"/>
<polygon points="202.24,30.7 203.21,27.58 205.18,29.28" fill="#222"/>
<path d="M104.5,105.4 Q94,104 89.3,94" fill="none" stroke="#222" stroke-width="0.85" stroke-dasharray="0.9 0.7"/>
<polygon points="89.13,93.64 91.58,95.8 89.23,96.91" fill="#222"/>
<path d="M217.6,105.9 Q202,106 198,99.4" fill="none" stroke="#222" stroke-width="0.85" stroke-dasharray="0.9 0.7"/>
<polygon points="197.79,99.06 200.46,100.95 198.24,102.3" fill="#222"/>
<text x="224.9" y="17.3" font-size="9.6" font-weight="bold" font-style="italic" fill="#ff1a1a" stroke="#ff1a1a" stroke-width="0.25">i<tspan font-size="5.95" dy="1.6">a</tspan></text>
<text x="237.7" y="17.3" font-size="9.6" font-weight="bold" font-style="italic" fill="#2a2aff" stroke="#2a2aff" stroke-width="0.25">i<tspan font-size="5.95" dy="1.6">b</tspan></text>
<text x="249.3" y="17.3" font-size="9.6" font-weight="bold" font-style="italic" fill="#18e018" stroke="#18e018" stroke-width="0.25">i<tspan font-size="5.95" dy="1.6">c</tspan></text>
<text x="504.2" y="21.0" font-size="9.6" font-weight="bold" font-style="italic" fill="#ff1a1a" stroke="#ff1a1a" stroke-width="0.25">i<tspan font-size="5.95" dy="1.6">a</tspan></text>
<text x="516.9" y="21.0" font-size="9.6" font-weight="bold" font-style="italic" fill="#2a2aff" stroke="#2a2aff" stroke-width="0.25">i<tspan font-size="5.95" dy="1.6">b</tspan></text>
<text x="528.3" y="21.0" font-size="9.6" font-weight="bold" font-style="italic" fill="#18e018" stroke="#18e018" stroke-width="0.25">i<tspan font-size="5.95" dy="1.6">c</tspan></text>
<text transform="translate(371.6,32) scale(1,0.95)" font-size="9.5" text-anchor="start" font-weight="bold" font-style="normal" fill="#111" stroke="#111" stroke-width="0.2" >6 [A]</text>
<text transform="translate(379.8,104.6) scale(1,0.95)" font-size="9.5" text-anchor="start" font-weight="bold" font-style="normal" fill="#111" stroke="#111" stroke-width="0.2" >&#8722; 6 [A]</text>
<path d="M367.8,30.8 Q352,31 347.1,38.4" fill="none" stroke="#222" stroke-width="0.85" stroke-dasharray="0.9 0.7"/>
<polygon points="346.88,38.73 347.45,35.51 349.62,36.95" fill="#222"/>
<path d="M377.6,101.9 Q362,101 356.4,94.3" fill="none" stroke="#222" stroke-width="0.85" stroke-dasharray="0.9 0.7"/>
<polygon points="356.14,93.99 359.06,95.46 357.07,97.13" fill="#222"/>
<text x="515" y="117.4" font-size="7.4" text-anchor="middle" font-weight="bold" font-style="normal" fill="#111" stroke="#111" stroke-width="0.2" >THD : 6.1%</text>
<text x="274.3" y="202.9" font-size="11.9" font-weight="bold" fill="#2a2aff" stroke="#2a2aff" stroke-width="0.2"><tspan font-style="italic">70/2</tspan> [V]</text>
<text x="350.3" y="206.4" font-size="11.8" font-weight="bold" fill="#22e022" stroke="#22e022" stroke-width="0.2"><tspan font-style="italic">70/6</tspan> [V]</text>
<text x="392" y="194" font-size="12" font-weight="bold" font-style="italic" fill="#ff1010" stroke="#ff1010" stroke-width="0.2">CMV</text>
<path d="M272.7,198.4 C262,198.4 252,200.5 246.8,207.2" fill="none" stroke="#2a2aff" stroke-width="1.15" stroke-dasharray="1.2 1.2"/>
<polygon points="246.55,207.52 247.45,203.91 249.82,205.75" fill="#2a2aff"/>
<path d="M349.3,201.4 C332,200 317,212 315.9,233.6" fill="none" stroke="#22e022" stroke-width="1.15" stroke-dasharray="1.2 1.2"/>
<polygon points="315.88,234 314.55,230.53 317.55,230.68" fill="#22e022"/>
<text x="136.2" y="165.6" font-size="11.2" text-anchor="middle" font-family='"Liberation Serif", serif' fill="#111" stroke="#111" stroke-width="0.15">(<tspan font-size="10.6" stroke-width="0.4">a</tspan>)</text>
<text x="417" y="164.1" font-size="11.2" text-anchor="middle" font-family='"Liberation Serif", serif' fill="#111" stroke="#111" stroke-width="0.15">(<tspan font-size="10.6" stroke-width="0.4">b</tspan>)</text>
<text x="276.5" y="362.3" font-size="11.2" text-anchor="middle" font-family='"Liberation Serif", serif' fill="#111" stroke="#111" stroke-width="0.15">(<tspan font-size="10.6" stroke-width="0.4">c</tspan>)</text>
</svg>
</body></html>
